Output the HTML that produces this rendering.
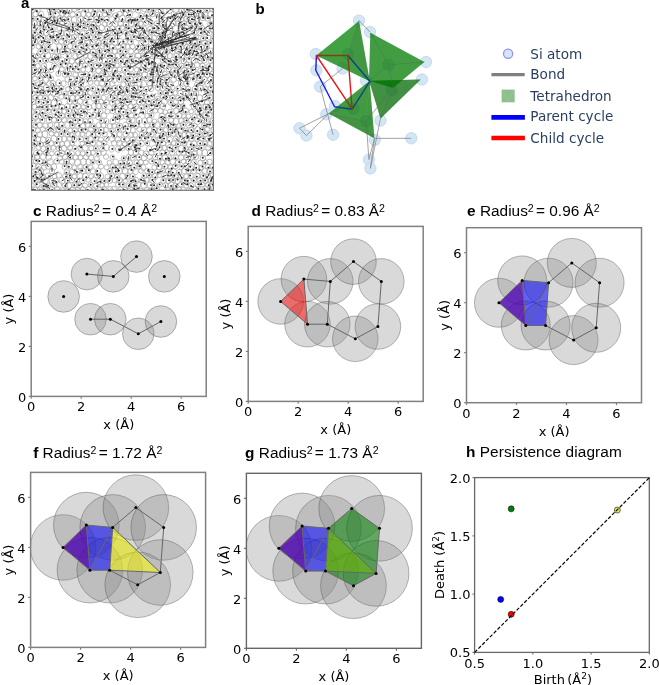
<!DOCTYPE html><html><head><meta charset="utf-8"><style>html,body{margin:0;padding:0;background:#fff;overflow:hidden;}svg{display:block}.tk{font-family:'DejaVu Sans', Verdana, sans-serif;font-size:13px;fill:#000}.axl{font-family:'DejaVu Sans', Verdana, sans-serif;font-size:13px;fill:#000}.ttl{font-family:'Liberation Sans', Arial, sans-serif;font-size:15.4px;fill:#000}.sup{font-size:10.6px}.lbl{font-family:'Liberation Sans', Arial, sans-serif;font-size:15px;font-weight:bold;fill:#000}.leg{font-family:'DejaVu Sans', Verdana, sans-serif;font-size:13.6px;fill:#2a3f5f}.dj{font-family:'DejaVu Sans', Verdana, sans-serif;font-size:13px;fill:#000}</style></head><body>
<svg width="659" height="685" viewBox="0 0 659 685">
<rect width="659" height="685" fill="#fff"/>
<clipPath id="clipa"><rect x="32" y="9" width="181" height="181"/></clipPath>
<g clip-path="url(#clipa)">
<path d="M30.0 10.1a2.5 2.5 0 1 0 5.1 0a2.5 2.5 0 1 0-5.1 0M35.6 10.2a2.3 2.3 0 1 0 4.7 0a2.3 2.3 0 1 0-4.7 0M47.0 10.3a2.4 2.4 0 1 0 4.8 0a2.4 2.4 0 1 0-4.8 0M50.7 9.5a2.5 2.5 0 1 0 5.1 0a2.5 2.5 0 1 0-5.1 0M56.8 10.0a2.5 2.5 0 1 0 5.1 0a2.5 2.5 0 1 0-5.1 0M62.6 10.4a2.4 2.4 0 1 0 4.8 0a2.4 2.4 0 1 0-4.8 0M66.7 10.6a2.8 2.8 0 1 0 5.6 0a2.8 2.8 0 1 0-5.6 0M71.6 9.5a2.5 2.5 0 1 0 5.1 0a2.5 2.5 0 1 0-5.1 0M77.4 9.2a2.7 2.7 0 1 0 5.4 0a2.7 2.7 0 1 0-5.4 0M84.0 10.5a2.4 2.4 0 1 0 4.8 0a2.4 2.4 0 1 0-4.8 0M87.9 10.1a2.4 2.4 0 1 0 4.8 0a2.4 2.4 0 1 0-4.8 0M93.0 10.3a2.5 2.5 0 1 0 5.0 0a2.5 2.5 0 1 0-5.0 0M99.6 9.6a2.4 2.4 0 1 0 4.8 0a2.4 2.4 0 1 0-4.8 0M103.7 10.9a2.4 2.4 0 1 0 4.9 0a2.4 2.4 0 1 0-4.9 0M109.4 9.6a2.3 2.3 0 1 0 4.7 0a2.3 2.3 0 1 0-4.7 0M120.3 10.1a2.4 2.4 0 1 0 4.8 0a2.4 2.4 0 1 0-4.8 0M124.8 9.4a2.8 2.8 0 1 0 5.5 0a2.8 2.8 0 1 0-5.5 0M131.2 9.9a2.3 2.3 0 1 0 4.6 0a2.3 2.3 0 1 0-4.6 0M135.4 10.4a2.7 2.7 0 1 0 5.4 0a2.7 2.7 0 1 0-5.4 0M141.7 9.2a2.6 2.6 0 1 0 5.2 0a2.6 2.6 0 1 0-5.2 0M147.0 9.6a2.4 2.4 0 1 0 4.8 0a2.4 2.4 0 1 0-4.8 0M151.1 9.4a2.6 2.6 0 1 0 5.2 0a2.6 2.6 0 1 0-5.2 0M158.1 10.3a2.6 2.6 0 1 0 5.2 0a2.6 2.6 0 1 0-5.2 0M166.9 10.2a2.7 2.7 0 1 0 5.3 0a2.7 2.7 0 1 0-5.3 0M173.1 10.4a2.7 2.7 0 1 0 5.3 0a2.7 2.7 0 1 0-5.3 0M178.9 10.7a2.6 2.6 0 1 0 5.3 0a2.6 2.6 0 1 0-5.3 0M184.2 9.9a2.7 2.7 0 1 0 5.5 0a2.7 2.7 0 1 0-5.5 0M189.1 10.2a2.6 2.6 0 1 0 5.2 0a2.6 2.6 0 1 0-5.2 0M194.9 10.4a2.7 2.7 0 1 0 5.3 0a2.7 2.7 0 1 0-5.3 0M198.9 10.5a2.6 2.6 0 1 0 5.2 0a2.6 2.6 0 1 0-5.2 0M205.1 10.2a2.4 2.4 0 1 0 4.9 0a2.4 2.4 0 1 0-4.9 0M209.6 9.4a2.6 2.6 0 1 0 5.3 0a2.6 2.6 0 1 0-5.3 0M32.8 14.1a2.7 2.7 0 1 0 5.4 0a2.7 2.7 0 1 0-5.4 0M38.8 14.4a2.5 2.5 0 1 0 4.9 0a2.5 2.5 0 1 0-4.9 0M48.3 14.0a2.4 2.4 0 1 0 4.9 0a2.4 2.4 0 1 0-4.9 0M53.6 14.3a2.8 2.8 0 1 0 5.6 0a2.8 2.8 0 1 0-5.6 0M59.8 13.8a2.6 2.6 0 1 0 5.2 0a2.6 2.6 0 1 0-5.2 0M63.7 14.5a2.7 2.7 0 1 0 5.4 0a2.7 2.7 0 1 0-5.4 0M70.0 14.5a2.6 2.6 0 1 0 5.3 0a2.6 2.6 0 1 0-5.3 0M75.9 14.9a2.5 2.5 0 1 0 5.1 0a2.5 2.5 0 1 0-5.1 0M80.9 14.0a2.5 2.5 0 1 0 4.9 0a2.5 2.5 0 1 0-4.9 0M85.8 14.8a2.5 2.5 0 1 0 5.0 0a2.5 2.5 0 1 0-5.0 0M91.6 13.9a2.7 2.7 0 1 0 5.3 0a2.7 2.7 0 1 0-5.3 0M96.8 14.4a2.7 2.7 0 1 0 5.5 0a2.7 2.7 0 1 0-5.5 0M102.5 14.5a2.4 2.4 0 1 0 4.8 0a2.4 2.4 0 1 0-4.8 0M107.6 14.9a2.4 2.4 0 1 0 4.8 0a2.4 2.4 0 1 0-4.8 0M112.9 15.5a2.7 2.7 0 1 0 5.4 0a2.7 2.7 0 1 0-5.4 0M117.2 13.9a2.6 2.6 0 1 0 5.2 0a2.6 2.6 0 1 0-5.2 0M123.0 13.8a2.3 2.3 0 1 0 4.7 0a2.3 2.3 0 1 0-4.7 0M127.7 14.3a2.4 2.4 0 1 0 4.7 0a2.4 2.4 0 1 0-4.7 0M138.8 15.4a2.4 2.4 0 1 0 4.8 0a2.4 2.4 0 1 0-4.8 0M144.2 14.7a2.6 2.6 0 1 0 5.2 0a2.6 2.6 0 1 0-5.2 0M149.8 14.1a2.8 2.8 0 1 0 5.6 0a2.8 2.8 0 1 0-5.6 0M154.9 14.6a2.3 2.3 0 1 0 4.6 0a2.3 2.3 0 1 0-4.6 0M159.9 14.4a2.6 2.6 0 1 0 5.2 0a2.6 2.6 0 1 0-5.2 0M171.4 14.2a2.4 2.4 0 1 0 4.7 0a2.4 2.4 0 1 0-4.7 0M175.7 14.3a2.6 2.6 0 1 0 5.2 0a2.6 2.6 0 1 0-5.2 0M180.6 15.1a2.4 2.4 0 1 0 4.8 0a2.4 2.4 0 1 0-4.8 0M186.0 14.8a2.7 2.7 0 1 0 5.3 0a2.7 2.7 0 1 0-5.3 0M191.2 14.7a2.5 2.5 0 1 0 5.0 0a2.5 2.5 0 1 0-5.0 0M196.5 14.8a2.6 2.6 0 1 0 5.1 0a2.6 2.6 0 1 0-5.1 0M202.4 15.3a2.7 2.7 0 1 0 5.3 0a2.7 2.7 0 1 0-5.3 0M208.1 14.3a2.8 2.8 0 1 0 5.5 0a2.8 2.8 0 1 0-5.5 0M29.5 18.8a2.4 2.4 0 1 0 4.9 0a2.4 2.4 0 1 0-4.9 0M35.8 18.5a2.6 2.6 0 1 0 5.3 0a2.6 2.6 0 1 0-5.3 0M41.4 20.1a2.6 2.6 0 1 0 5.1 0a2.6 2.6 0 1 0-5.1 0M46.2 19.6a2.3 2.3 0 1 0 4.7 0a2.3 2.3 0 1 0-4.7 0M51.4 19.3a2.4 2.4 0 1 0 4.8 0a2.4 2.4 0 1 0-4.8 0M57.1 18.5a2.8 2.8 0 1 0 5.6 0a2.8 2.8 0 1 0-5.6 0M61.7 19.2a2.6 2.6 0 1 0 5.2 0a2.6 2.6 0 1 0-5.2 0M66.6 19.1a2.5 2.5 0 1 0 5.0 0a2.5 2.5 0 1 0-5.0 0M71.5 19.9a2.7 2.7 0 1 0 5.3 0a2.7 2.7 0 1 0-5.3 0M78.0 19.1a2.6 2.6 0 1 0 5.1 0a2.6 2.6 0 1 0-5.1 0M83.5 18.8a2.7 2.7 0 1 0 5.3 0a2.7 2.7 0 1 0-5.3 0M88.7 19.1a2.7 2.7 0 1 0 5.5 0a2.7 2.7 0 1 0-5.5 0M94.0 19.7a2.7 2.7 0 1 0 5.3 0a2.7 2.7 0 1 0-5.3 0M98.0 19.0a2.6 2.6 0 1 0 5.2 0a2.6 2.6 0 1 0-5.2 0M103.9 19.5a2.6 2.6 0 1 0 5.1 0a2.6 2.6 0 1 0-5.1 0M114.1 19.4a2.4 2.4 0 1 0 4.9 0a2.4 2.4 0 1 0-4.9 0M119.7 18.5a2.8 2.8 0 1 0 5.5 0a2.8 2.8 0 1 0-5.5 0M125.4 20.1a2.7 2.7 0 1 0 5.4 0a2.7 2.7 0 1 0-5.4 0M129.9 20.0a2.5 2.5 0 1 0 5.1 0a2.5 2.5 0 1 0-5.1 0M135.2 20.0a2.6 2.6 0 1 0 5.1 0a2.6 2.6 0 1 0-5.1 0M141.5 19.3a2.7 2.7 0 1 0 5.3 0a2.7 2.7 0 1 0-5.3 0M145.9 18.6a2.5 2.5 0 1 0 5.0 0a2.5 2.5 0 1 0-5.0 0M158.1 18.5a2.5 2.5 0 1 0 5.0 0a2.5 2.5 0 1 0-5.0 0M162.6 20.0a2.5 2.5 0 1 0 5.1 0a2.5 2.5 0 1 0-5.1 0M168.4 19.4a2.6 2.6 0 1 0 5.2 0a2.6 2.6 0 1 0-5.2 0M173.1 18.5a2.6 2.6 0 1 0 5.3 0a2.6 2.6 0 1 0-5.3 0M178.1 19.7a2.8 2.8 0 1 0 5.6 0a2.8 2.8 0 1 0-5.6 0M184.0 18.8a2.7 2.7 0 1 0 5.5 0a2.7 2.7 0 1 0-5.5 0M189.2 19.0a2.6 2.6 0 1 0 5.3 0a2.6 2.6 0 1 0-5.3 0M194.6 18.7a2.8 2.8 0 1 0 5.6 0a2.8 2.8 0 1 0-5.6 0M200.4 18.4a2.4 2.4 0 1 0 4.9 0a2.4 2.4 0 1 0-4.9 0M204.9 18.5a2.6 2.6 0 1 0 5.3 0a2.6 2.6 0 1 0-5.3 0M210.1 18.7a2.7 2.7 0 1 0 5.3 0a2.7 2.7 0 1 0-5.3 0M31.9 23.1a2.6 2.6 0 1 0 5.2 0a2.6 2.6 0 1 0-5.2 0M37.3 23.7a2.7 2.7 0 1 0 5.4 0a2.7 2.7 0 1 0-5.4 0M42.8 23.9a2.8 2.8 0 1 0 5.5 0a2.8 2.8 0 1 0-5.5 0M49.2 23.1a2.6 2.6 0 1 0 5.2 0a2.6 2.6 0 1 0-5.2 0M54.3 23.1a2.6 2.6 0 1 0 5.3 0a2.6 2.6 0 1 0-5.3 0M59.6 23.4a2.5 2.5 0 1 0 5.0 0a2.5 2.5 0 1 0-5.0 0M64.2 23.1a2.6 2.6 0 1 0 5.2 0a2.6 2.6 0 1 0-5.2 0M70.4 24.6a2.7 2.7 0 1 0 5.4 0a2.7 2.7 0 1 0-5.4 0M76.0 24.5a2.5 2.5 0 1 0 5.0 0a2.5 2.5 0 1 0-5.0 0M80.0 23.3a2.7 2.7 0 1 0 5.4 0a2.7 2.7 0 1 0-5.4 0M85.2 24.3a2.4 2.4 0 1 0 4.9 0a2.4 2.4 0 1 0-4.9 0M91.0 24.7a2.7 2.7 0 1 0 5.4 0a2.7 2.7 0 1 0-5.4 0M95.4 23.1a2.7 2.7 0 1 0 5.5 0a2.7 2.7 0 1 0-5.5 0M102.2 24.1a2.4 2.4 0 1 0 4.8 0a2.4 2.4 0 1 0-4.8 0M107.0 24.3a2.5 2.5 0 1 0 4.9 0a2.5 2.5 0 1 0-4.9 0M112.4 23.8a2.7 2.7 0 1 0 5.3 0a2.7 2.7 0 1 0-5.3 0M118.2 23.7a2.6 2.6 0 1 0 5.3 0a2.6 2.6 0 1 0-5.3 0M123.1 24.4a2.8 2.8 0 1 0 5.6 0a2.8 2.8 0 1 0-5.6 0M128.8 23.7a2.4 2.4 0 1 0 4.7 0a2.4 2.4 0 1 0-4.7 0M134.4 23.6a2.4 2.4 0 1 0 4.8 0a2.4 2.4 0 1 0-4.8 0M137.8 23.5a2.6 2.6 0 1 0 5.2 0a2.6 2.6 0 1 0-5.2 0M143.4 23.0a2.6 2.6 0 1 0 5.2 0a2.6 2.6 0 1 0-5.2 0M148.6 23.1a2.4 2.4 0 1 0 4.8 0a2.4 2.4 0 1 0-4.8 0M154.3 23.3a2.4 2.4 0 1 0 4.8 0a2.4 2.4 0 1 0-4.8 0M159.6 23.9a2.5 2.5 0 1 0 5.1 0a2.5 2.5 0 1 0-5.1 0M170.2 23.3a2.8 2.8 0 1 0 5.5 0a2.8 2.8 0 1 0-5.5 0M175.7 23.9a2.4 2.4 0 1 0 4.9 0a2.4 2.4 0 1 0-4.9 0M181.4 23.4a2.5 2.5 0 1 0 5.1 0a2.5 2.5 0 1 0-5.1 0M186.7 23.2a2.5 2.5 0 1 0 4.9 0a2.5 2.5 0 1 0-4.9 0M191.9 24.7a2.6 2.6 0 1 0 5.1 0a2.6 2.6 0 1 0-5.1 0M197.8 24.5a2.3 2.3 0 1 0 4.7 0a2.3 2.3 0 1 0-4.7 0M207.6 24.5a2.7 2.7 0 1 0 5.4 0a2.7 2.7 0 1 0-5.4 0M30.6 27.9a2.6 2.6 0 1 0 5.1 0a2.6 2.6 0 1 0-5.1 0M35.0 27.7a2.5 2.5 0 1 0 5.1 0a2.5 2.5 0 1 0-5.1 0M40.5 28.8a2.5 2.5 0 1 0 5.0 0a2.5 2.5 0 1 0-5.0 0M46.1 27.6a2.7 2.7 0 1 0 5.3 0a2.7 2.7 0 1 0-5.3 0M50.5 29.3a2.4 2.4 0 1 0 4.8 0a2.4 2.4 0 1 0-4.8 0M56.7 28.1a2.5 2.5 0 1 0 5.0 0a2.5 2.5 0 1 0-5.0 0M61.5 27.9a2.5 2.5 0 1 0 4.9 0a2.5 2.5 0 1 0-4.9 0M67.1 28.8a2.7 2.7 0 1 0 5.4 0a2.7 2.7 0 1 0-5.4 0M72.8 28.8a2.5 2.5 0 1 0 5.0 0a2.5 2.5 0 1 0-5.0 0M78.1 27.7a2.4 2.4 0 1 0 4.8 0a2.4 2.4 0 1 0-4.8 0M83.7 28.3a2.6 2.6 0 1 0 5.2 0a2.6 2.6 0 1 0-5.2 0M89.0 28.2a2.5 2.5 0 1 0 5.0 0a2.5 2.5 0 1 0-5.0 0M94.5 29.0a2.6 2.6 0 1 0 5.2 0a2.6 2.6 0 1 0-5.2 0M99.2 27.7a2.6 2.6 0 1 0 5.1 0a2.6 2.6 0 1 0-5.1 0M104.7 28.6a2.7 2.7 0 1 0 5.4 0a2.7 2.7 0 1 0-5.4 0M109.8 28.2a2.4 2.4 0 1 0 4.7 0a2.4 2.4 0 1 0-4.7 0M115.6 28.5a2.7 2.7 0 1 0 5.4 0a2.7 2.7 0 1 0-5.4 0M119.6 27.7a2.6 2.6 0 1 0 5.2 0a2.6 2.6 0 1 0-5.2 0M125.2 29.2a2.5 2.5 0 1 0 5.1 0a2.5 2.5 0 1 0-5.1 0M131.4 28.5a2.6 2.6 0 1 0 5.2 0a2.6 2.6 0 1 0-5.2 0M136.5 28.6a2.7 2.7 0 1 0 5.4 0a2.7 2.7 0 1 0-5.4 0M141.5 29.0a2.6 2.6 0 1 0 5.1 0a2.6 2.6 0 1 0-5.1 0M147.6 29.2a2.5 2.5 0 1 0 4.9 0a2.5 2.5 0 1 0-4.9 0M152.2 28.2a2.7 2.7 0 1 0 5.4 0a2.7 2.7 0 1 0-5.4 0M156.8 28.2a2.4 2.4 0 1 0 4.8 0a2.4 2.4 0 1 0-4.8 0M162.2 28.7a2.6 2.6 0 1 0 5.3 0a2.6 2.6 0 1 0-5.3 0M167.7 28.3a2.6 2.6 0 1 0 5.3 0a2.6 2.6 0 1 0-5.3 0M179.1 29.1a2.5 2.5 0 1 0 5.0 0a2.5 2.5 0 1 0-5.0 0M183.9 28.3a2.5 2.5 0 1 0 4.9 0a2.5 2.5 0 1 0-4.9 0M189.6 28.6a2.5 2.5 0 1 0 4.9 0a2.5 2.5 0 1 0-4.9 0M194.5 28.4a2.3 2.3 0 1 0 4.7 0a2.3 2.3 0 1 0-4.7 0M199.7 28.0a2.5 2.5 0 1 0 5.0 0a2.5 2.5 0 1 0-5.0 0M205.8 28.7a2.5 2.5 0 1 0 5.0 0a2.5 2.5 0 1 0-5.0 0M209.5 28.9a2.8 2.8 0 1 0 5.5 0a2.8 2.8 0 1 0-5.5 0M32.9 33.9a2.4 2.4 0 1 0 4.8 0a2.4 2.4 0 1 0-4.8 0M38.8 33.6a2.5 2.5 0 1 0 5.0 0a2.5 2.5 0 1 0-5.0 0M43.8 32.7a2.8 2.8 0 1 0 5.5 0a2.8 2.8 0 1 0-5.5 0M48.3 32.5a2.8 2.8 0 1 0 5.5 0a2.8 2.8 0 1 0-5.5 0M53.4 33.7a2.5 2.5 0 1 0 5.1 0a2.5 2.5 0 1 0-5.1 0M58.5 33.3a2.7 2.7 0 1 0 5.5 0a2.7 2.7 0 1 0-5.5 0M64.1 33.8a2.7 2.7 0 1 0 5.3 0a2.7 2.7 0 1 0-5.3 0M69.8 32.3a2.5 2.5 0 1 0 4.9 0a2.5 2.5 0 1 0-4.9 0M74.5 32.5a2.6 2.6 0 1 0 5.3 0a2.6 2.6 0 1 0-5.3 0M80.1 33.3a2.6 2.6 0 1 0 5.2 0a2.6 2.6 0 1 0-5.2 0M86.2 32.7a2.3 2.3 0 1 0 4.7 0a2.3 2.3 0 1 0-4.7 0M91.1 33.1a2.3 2.3 0 1 0 4.6 0a2.3 2.3 0 1 0-4.6 0M96.7 32.3a2.7 2.7 0 1 0 5.4 0a2.7 2.7 0 1 0-5.4 0M106.1 33.0a2.5 2.5 0 1 0 5.0 0a2.5 2.5 0 1 0-5.0 0M112.1 32.5a2.6 2.6 0 1 0 5.2 0a2.6 2.6 0 1 0-5.2 0M117.4 33.1a2.6 2.6 0 1 0 5.3 0a2.6 2.6 0 1 0-5.3 0M123.4 32.5a2.4 2.4 0 1 0 4.8 0a2.4 2.4 0 1 0-4.8 0M128.8 32.6a2.4 2.4 0 1 0 4.8 0a2.4 2.4 0 1 0-4.8 0M133.4 33.4a2.7 2.7 0 1 0 5.5 0a2.7 2.7 0 1 0-5.5 0M138.8 32.9a2.4 2.4 0 1 0 4.9 0a2.4 2.4 0 1 0-4.9 0M143.2 33.8a2.6 2.6 0 1 0 5.1 0a2.6 2.6 0 1 0-5.1 0M149.1 32.4a2.3 2.3 0 1 0 4.6 0a2.3 2.3 0 1 0-4.6 0M154.0 33.2a2.7 2.7 0 1 0 5.4 0a2.7 2.7 0 1 0-5.4 0M160.5 33.7a2.3 2.3 0 1 0 4.7 0a2.3 2.3 0 1 0-4.7 0M165.9 32.2a2.7 2.7 0 1 0 5.4 0a2.7 2.7 0 1 0-5.4 0M170.1 33.0a2.3 2.3 0 1 0 4.6 0a2.3 2.3 0 1 0-4.6 0M175.8 32.7a2.3 2.3 0 1 0 4.7 0a2.3 2.3 0 1 0-4.7 0M181.5 32.6a2.6 2.6 0 1 0 5.2 0a2.6 2.6 0 1 0-5.2 0M191.8 32.2a2.6 2.6 0 1 0 5.2 0a2.6 2.6 0 1 0-5.2 0M197.7 33.2a2.5 2.5 0 1 0 5.1 0a2.5 2.5 0 1 0-5.1 0M203.0 32.5a2.4 2.4 0 1 0 4.8 0a2.4 2.4 0 1 0-4.8 0M207.1 33.0a2.5 2.5 0 1 0 5.0 0a2.5 2.5 0 1 0-5.0 0M30.4 38.3a2.5 2.5 0 1 0 5.0 0a2.5 2.5 0 1 0-5.0 0M35.1 36.8a2.4 2.4 0 1 0 4.9 0a2.4 2.4 0 1 0-4.9 0M40.0 37.4a2.8 2.8 0 1 0 5.5 0a2.8 2.8 0 1 0-5.5 0M46.7 36.8a2.5 2.5 0 1 0 5.0 0a2.5 2.5 0 1 0-5.0 0M51.8 37.7a2.5 2.5 0 1 0 5.0 0a2.5 2.5 0 1 0-5.0 0M56.8 36.8a2.5 2.5 0 1 0 5.0 0a2.5 2.5 0 1 0-5.0 0M61.6 38.1a2.4 2.4 0 1 0 4.7 0a2.4 2.4 0 1 0-4.7 0M67.1 37.5a2.4 2.4 0 1 0 4.8 0a2.4 2.4 0 1 0-4.8 0M71.6 36.8a2.6 2.6 0 1 0 5.2 0a2.6 2.6 0 1 0-5.2 0M78.4 37.3a2.8 2.8 0 1 0 5.5 0a2.8 2.8 0 1 0-5.5 0M83.8 38.3a2.6 2.6 0 1 0 5.2 0a2.6 2.6 0 1 0-5.2 0M87.6 37.5a2.5 2.5 0 1 0 5.1 0a2.5 2.5 0 1 0-5.1 0M93.7 37.1a2.4 2.4 0 1 0 4.8 0a2.4 2.4 0 1 0-4.8 0M98.3 37.8a2.6 2.6 0 1 0 5.2 0a2.6 2.6 0 1 0-5.2 0M103.6 37.5a2.3 2.3 0 1 0 4.7 0a2.3 2.3 0 1 0-4.7 0M109.8 37.6a2.4 2.4 0 1 0 4.9 0a2.4 2.4 0 1 0-4.9 0M115.1 37.2a2.4 2.4 0 1 0 4.8 0a2.4 2.4 0 1 0-4.8 0M126.0 37.9a2.5 2.5 0 1 0 5.0 0a2.5 2.5 0 1 0-5.0 0M131.7 37.5a2.3 2.3 0 1 0 4.6 0a2.3 2.3 0 1 0-4.6 0M136.0 38.5a2.4 2.4 0 1 0 4.8 0a2.4 2.4 0 1 0-4.8 0M140.6 37.7a2.4 2.4 0 1 0 4.8 0a2.4 2.4 0 1 0-4.8 0M146.6 37.8a2.8 2.8 0 1 0 5.6 0a2.8 2.8 0 1 0-5.6 0M151.5 38.1a2.6 2.6 0 1 0 5.3 0a2.6 2.6 0 1 0-5.3 0M157.8 37.1a2.5 2.5 0 1 0 5.1 0a2.5 2.5 0 1 0-5.1 0M163.1 37.7a2.4 2.4 0 1 0 4.8 0a2.4 2.4 0 1 0-4.8 0M167.4 36.9a2.4 2.4 0 1 0 4.7 0a2.4 2.4 0 1 0-4.7 0M172.5 37.6a2.5 2.5 0 1 0 5.1 0a2.5 2.5 0 1 0-5.1 0M177.5 37.2a2.7 2.7 0 1 0 5.4 0a2.7 2.7 0 1 0-5.4 0M184.0 37.4a2.7 2.7 0 1 0 5.4 0a2.7 2.7 0 1 0-5.4 0M189.5 37.8a2.7 2.7 0 1 0 5.3 0a2.7 2.7 0 1 0-5.3 0M193.8 37.4a2.4 2.4 0 1 0 4.8 0a2.4 2.4 0 1 0-4.8 0M200.4 38.5a2.6 2.6 0 1 0 5.3 0a2.6 2.6 0 1 0-5.3 0M205.6 38.5a2.7 2.7 0 1 0 5.3 0a2.7 2.7 0 1 0-5.3 0M210.8 38.6a2.5 2.5 0 1 0 4.9 0a2.5 2.5 0 1 0-4.9 0M32.3 41.9a2.7 2.7 0 1 0 5.4 0a2.7 2.7 0 1 0-5.4 0M38.4 43.1a2.6 2.6 0 1 0 5.3 0a2.6 2.6 0 1 0-5.3 0M42.8 41.6a2.4 2.4 0 1 0 4.9 0a2.4 2.4 0 1 0-4.9 0M47.7 42.4a2.6 2.6 0 1 0 5.2 0a2.6 2.6 0 1 0-5.2 0M53.9 41.8a2.3 2.3 0 1 0 4.7 0a2.3 2.3 0 1 0-4.7 0M58.9 41.5a2.5 2.5 0 1 0 5.1 0a2.5 2.5 0 1 0-5.1 0M64.0 42.9a2.5 2.5 0 1 0 5.0 0a2.5 2.5 0 1 0-5.0 0M69.5 41.5a2.6 2.6 0 1 0 5.3 0a2.6 2.6 0 1 0-5.3 0M75.6 43.2a2.7 2.7 0 1 0 5.4 0a2.7 2.7 0 1 0-5.4 0M80.0 41.4a2.4 2.4 0 1 0 4.7 0a2.4 2.4 0 1 0-4.7 0M85.5 42.3a2.4 2.4 0 1 0 4.8 0a2.4 2.4 0 1 0-4.8 0M90.0 42.3a2.7 2.7 0 1 0 5.4 0a2.7 2.7 0 1 0-5.4 0M96.0 42.8a2.7 2.7 0 1 0 5.4 0a2.7 2.7 0 1 0-5.4 0M100.8 43.1a2.7 2.7 0 1 0 5.3 0a2.7 2.7 0 1 0-5.3 0M107.1 41.8a2.5 2.5 0 1 0 5.0 0a2.5 2.5 0 1 0-5.0 0M112.2 42.0a2.8 2.8 0 1 0 5.5 0a2.8 2.8 0 1 0-5.5 0M117.9 41.8a2.6 2.6 0 1 0 5.1 0a2.6 2.6 0 1 0-5.1 0M122.3 41.6a2.5 2.5 0 1 0 5.0 0a2.5 2.5 0 1 0-5.0 0M127.7 42.0a2.8 2.8 0 1 0 5.6 0a2.8 2.8 0 1 0-5.6 0M138.6 43.1a2.5 2.5 0 1 0 5.0 0a2.5 2.5 0 1 0-5.0 0M143.2 41.9a2.8 2.8 0 1 0 5.5 0a2.8 2.8 0 1 0-5.5 0M150.2 41.6a2.5 2.5 0 1 0 5.0 0a2.5 2.5 0 1 0-5.0 0M155.3 42.9a2.6 2.6 0 1 0 5.1 0a2.6 2.6 0 1 0-5.1 0M160.3 42.2a2.5 2.5 0 1 0 5.0 0a2.5 2.5 0 1 0-5.0 0M165.3 42.3a2.6 2.6 0 1 0 5.2 0a2.6 2.6 0 1 0-5.2 0M171.0 41.7a2.8 2.8 0 1 0 5.6 0a2.8 2.8 0 1 0-5.6 0M180.7 42.9a2.8 2.8 0 1 0 5.6 0a2.8 2.8 0 1 0-5.6 0M186.5 43.1a2.7 2.7 0 1 0 5.4 0a2.7 2.7 0 1 0-5.4 0M192.2 42.7a2.7 2.7 0 1 0 5.4 0a2.7 2.7 0 1 0-5.4 0M196.7 41.9a2.3 2.3 0 1 0 4.7 0a2.3 2.3 0 1 0-4.7 0M201.7 42.8a2.7 2.7 0 1 0 5.4 0a2.7 2.7 0 1 0-5.4 0M207.2 42.0a2.3 2.3 0 1 0 4.6 0a2.3 2.3 0 1 0-4.6 0M29.2 46.3a2.7 2.7 0 1 0 5.4 0a2.7 2.7 0 1 0-5.4 0M36.0 46.4a2.7 2.7 0 1 0 5.5 0a2.7 2.7 0 1 0-5.5 0M40.3 47.2a2.3 2.3 0 1 0 4.6 0a2.3 2.3 0 1 0-4.6 0M45.7 47.1a2.4 2.4 0 1 0 4.8 0a2.4 2.4 0 1 0-4.8 0M56.5 46.6a2.8 2.8 0 1 0 5.6 0a2.8 2.8 0 1 0-5.6 0M62.3 46.6a2.5 2.5 0 1 0 5.0 0a2.5 2.5 0 1 0-5.0 0M67.7 46.7a2.6 2.6 0 1 0 5.1 0a2.6 2.6 0 1 0-5.1 0M72.1 47.3a2.6 2.6 0 1 0 5.2 0a2.6 2.6 0 1 0-5.2 0M78.2 47.2a2.8 2.8 0 1 0 5.5 0a2.8 2.8 0 1 0-5.5 0M83.1 46.1a2.4 2.4 0 1 0 4.9 0a2.4 2.4 0 1 0-4.9 0M88.7 47.2a2.5 2.5 0 1 0 5.0 0a2.5 2.5 0 1 0-5.0 0M93.3 46.6a2.7 2.7 0 1 0 5.5 0a2.7 2.7 0 1 0-5.5 0M99.7 46.1a2.5 2.5 0 1 0 5.0 0a2.5 2.5 0 1 0-5.0 0M104.3 46.6a2.8 2.8 0 1 0 5.5 0a2.8 2.8 0 1 0-5.5 0M109.2 46.8a2.6 2.6 0 1 0 5.3 0a2.6 2.6 0 1 0-5.3 0M115.7 46.7a2.6 2.6 0 1 0 5.2 0a2.6 2.6 0 1 0-5.2 0M121.1 46.1a2.5 2.5 0 1 0 5.0 0a2.5 2.5 0 1 0-5.0 0M125.0 46.7a2.5 2.5 0 1 0 5.0 0a2.5 2.5 0 1 0-5.0 0M129.9 46.3a2.6 2.6 0 1 0 5.2 0a2.6 2.6 0 1 0-5.2 0M135.5 47.4a2.7 2.7 0 1 0 5.4 0a2.7 2.7 0 1 0-5.4 0M142.2 47.7a2.3 2.3 0 1 0 4.6 0a2.3 2.3 0 1 0-4.6 0M145.9 47.4a2.6 2.6 0 1 0 5.1 0a2.6 2.6 0 1 0-5.1 0M151.1 46.9a2.7 2.7 0 1 0 5.4 0a2.7 2.7 0 1 0-5.4 0M156.8 46.8a2.5 2.5 0 1 0 5.1 0a2.5 2.5 0 1 0-5.1 0M161.6 47.5a2.8 2.8 0 1 0 5.6 0a2.8 2.8 0 1 0-5.6 0M168.7 47.7a2.3 2.3 0 1 0 4.6 0a2.3 2.3 0 1 0-4.6 0M173.8 46.3a2.3 2.3 0 1 0 4.6 0a2.3 2.3 0 1 0-4.6 0M178.7 47.5a2.5 2.5 0 1 0 5.0 0a2.5 2.5 0 1 0-5.0 0M184.4 46.6a2.6 2.6 0 1 0 5.3 0a2.6 2.6 0 1 0-5.3 0M189.7 47.0a2.8 2.8 0 1 0 5.5 0a2.8 2.8 0 1 0-5.5 0M193.9 46.7a2.5 2.5 0 1 0 5.1 0a2.5 2.5 0 1 0-5.1 0M198.8 47.5a2.6 2.6 0 1 0 5.1 0a2.6 2.6 0 1 0-5.1 0M204.2 46.7a2.5 2.5 0 1 0 5.1 0a2.5 2.5 0 1 0-5.1 0M37.9 51.7a2.5 2.5 0 1 0 4.9 0a2.5 2.5 0 1 0-4.9 0M43.5 51.5a2.3 2.3 0 1 0 4.7 0a2.3 2.3 0 1 0-4.7 0M49.2 51.4a2.5 2.5 0 1 0 5.0 0a2.5 2.5 0 1 0-5.0 0M54.9 52.1a2.5 2.5 0 1 0 4.9 0a2.5 2.5 0 1 0-4.9 0M59.6 51.8a2.7 2.7 0 1 0 5.4 0a2.7 2.7 0 1 0-5.4 0M65.1 51.7a2.8 2.8 0 1 0 5.5 0a2.8 2.8 0 1 0-5.5 0M70.0 50.6a2.5 2.5 0 1 0 5.0 0a2.5 2.5 0 1 0-5.0 0M75.8 52.2a2.7 2.7 0 1 0 5.4 0a2.7 2.7 0 1 0-5.4 0M80.4 51.4a2.5 2.5 0 1 0 4.9 0a2.5 2.5 0 1 0-4.9 0M84.8 50.8a2.6 2.6 0 1 0 5.3 0a2.6 2.6 0 1 0-5.3 0M90.4 52.3a2.8 2.8 0 1 0 5.5 0a2.8 2.8 0 1 0-5.5 0M96.9 50.8a2.5 2.5 0 1 0 5.1 0a2.5 2.5 0 1 0-5.1 0M101.8 52.3a2.6 2.6 0 1 0 5.3 0a2.6 2.6 0 1 0-5.3 0M107.5 50.9a2.4 2.4 0 1 0 4.8 0a2.4 2.4 0 1 0-4.8 0M112.3 51.5a2.6 2.6 0 1 0 5.2 0a2.6 2.6 0 1 0-5.2 0M117.0 51.6a2.8 2.8 0 1 0 5.6 0a2.8 2.8 0 1 0-5.6 0M122.5 51.9a2.4 2.4 0 1 0 4.9 0a2.4 2.4 0 1 0-4.9 0M128.5 51.4a2.6 2.6 0 1 0 5.2 0a2.6 2.6 0 1 0-5.2 0M134.3 51.4a2.4 2.4 0 1 0 4.8 0a2.4 2.4 0 1 0-4.8 0M138.2 51.2a2.3 2.3 0 1 0 4.6 0a2.3 2.3 0 1 0-4.6 0M144.3 51.6a2.4 2.4 0 1 0 4.8 0a2.4 2.4 0 1 0-4.8 0M149.6 52.0a2.7 2.7 0 1 0 5.4 0a2.7 2.7 0 1 0-5.4 0M154.8 50.8a2.6 2.6 0 1 0 5.2 0a2.6 2.6 0 1 0-5.2 0M160.4 51.8a2.8 2.8 0 1 0 5.6 0a2.8 2.8 0 1 0-5.6 0M164.9 52.1a2.4 2.4 0 1 0 4.9 0a2.4 2.4 0 1 0-4.9 0M170.2 51.1a2.4 2.4 0 1 0 4.7 0a2.4 2.4 0 1 0-4.7 0M175.6 51.5a2.4 2.4 0 1 0 4.8 0a2.4 2.4 0 1 0-4.8 0M181.6 51.7a2.7 2.7 0 1 0 5.3 0a2.7 2.7 0 1 0-5.3 0M186.7 51.1a2.8 2.8 0 1 0 5.5 0a2.8 2.8 0 1 0-5.5 0M191.4 51.3a2.8 2.8 0 1 0 5.5 0a2.8 2.8 0 1 0-5.5 0M196.3 52.3a2.8 2.8 0 1 0 5.5 0a2.8 2.8 0 1 0-5.5 0M201.3 51.6a2.8 2.8 0 1 0 5.6 0a2.8 2.8 0 1 0-5.6 0M207.9 50.7a2.6 2.6 0 1 0 5.2 0a2.6 2.6 0 1 0-5.2 0M30.4 56.7a2.6 2.6 0 1 0 5.1 0a2.6 2.6 0 1 0-5.1 0M35.5 55.8a2.4 2.4 0 1 0 4.8 0a2.4 2.4 0 1 0-4.8 0M40.5 56.1a2.5 2.5 0 1 0 5.1 0a2.5 2.5 0 1 0-5.1 0M45.2 55.8a2.7 2.7 0 1 0 5.3 0a2.7 2.7 0 1 0-5.3 0M51.9 56.9a2.7 2.7 0 1 0 5.5 0a2.7 2.7 0 1 0-5.5 0M55.6 56.1a2.6 2.6 0 1 0 5.3 0a2.6 2.6 0 1 0-5.3 0M66.1 55.4a2.8 2.8 0 1 0 5.6 0a2.8 2.8 0 1 0-5.6 0M72.7 56.1a2.7 2.7 0 1 0 5.4 0a2.7 2.7 0 1 0-5.4 0M76.6 55.3a2.8 2.8 0 1 0 5.6 0a2.8 2.8 0 1 0-5.6 0M83.1 55.8a2.3 2.3 0 1 0 4.6 0a2.3 2.3 0 1 0-4.6 0M88.0 56.3a2.5 2.5 0 1 0 4.9 0a2.5 2.5 0 1 0-4.9 0M93.7 55.6a2.4 2.4 0 1 0 4.8 0a2.4 2.4 0 1 0-4.8 0M99.4 55.8a2.6 2.6 0 1 0 5.3 0a2.6 2.6 0 1 0-5.3 0M105.0 55.5a2.5 2.5 0 1 0 4.9 0a2.5 2.5 0 1 0-4.9 0M109.9 56.2a2.7 2.7 0 1 0 5.4 0a2.7 2.7 0 1 0-5.4 0M115.5 55.9a2.8 2.8 0 1 0 5.5 0a2.8 2.8 0 1 0-5.5 0M119.8 55.5a2.7 2.7 0 1 0 5.4 0a2.7 2.7 0 1 0-5.4 0M125.1 56.3a2.5 2.5 0 1 0 5.1 0a2.5 2.5 0 1 0-5.1 0M130.1 56.1a2.3 2.3 0 1 0 4.7 0a2.3 2.3 0 1 0-4.7 0M135.2 55.6a2.8 2.8 0 1 0 5.6 0a2.8 2.8 0 1 0-5.6 0M141.0 56.9a2.7 2.7 0 1 0 5.3 0a2.7 2.7 0 1 0-5.3 0M145.9 55.5a2.7 2.7 0 1 0 5.5 0a2.7 2.7 0 1 0-5.5 0M152.9 56.0a2.4 2.4 0 1 0 4.7 0a2.4 2.4 0 1 0-4.7 0M156.8 55.8a2.5 2.5 0 1 0 4.9 0a2.5 2.5 0 1 0-4.9 0M162.6 56.2a2.6 2.6 0 1 0 5.1 0a2.6 2.6 0 1 0-5.1 0M167.2 55.6a2.5 2.5 0 1 0 4.9 0a2.5 2.5 0 1 0-4.9 0M174.0 56.1a2.5 2.5 0 1 0 4.9 0a2.5 2.5 0 1 0-4.9 0M179.1 56.0a2.7 2.7 0 1 0 5.4 0a2.7 2.7 0 1 0-5.4 0M184.7 55.3a2.5 2.5 0 1 0 5.0 0a2.5 2.5 0 1 0-5.0 0M189.6 55.6a2.4 2.4 0 1 0 4.8 0a2.4 2.4 0 1 0-4.8 0M194.5 56.4a2.4 2.4 0 1 0 4.8 0a2.4 2.4 0 1 0-4.8 0M199.2 56.3a2.5 2.5 0 1 0 5.1 0a2.5 2.5 0 1 0-5.1 0M205.6 56.3a2.6 2.6 0 1 0 5.1 0a2.6 2.6 0 1 0-5.1 0M209.6 56.9a2.7 2.7 0 1 0 5.5 0a2.7 2.7 0 1 0-5.5 0M32.5 60.1a2.4 2.4 0 1 0 4.8 0a2.4 2.4 0 1 0-4.8 0M37.7 60.0a2.5 2.5 0 1 0 4.9 0a2.5 2.5 0 1 0-4.9 0M43.3 60.5a2.5 2.5 0 1 0 5.1 0a2.5 2.5 0 1 0-5.1 0M48.5 60.0a2.5 2.5 0 1 0 5.1 0a2.5 2.5 0 1 0-5.1 0M53.9 60.0a2.4 2.4 0 1 0 4.8 0a2.4 2.4 0 1 0-4.8 0M59.7 60.3a2.6 2.6 0 1 0 5.1 0a2.6 2.6 0 1 0-5.1 0M64.3 60.7a2.7 2.7 0 1 0 5.4 0a2.7 2.7 0 1 0-5.4 0M69.0 61.3a2.8 2.8 0 1 0 5.6 0a2.8 2.8 0 1 0-5.6 0M75.3 61.3a2.7 2.7 0 1 0 5.4 0a2.7 2.7 0 1 0-5.4 0M79.9 61.3a2.4 2.4 0 1 0 4.8 0a2.4 2.4 0 1 0-4.8 0M84.7 60.7a2.7 2.7 0 1 0 5.4 0a2.7 2.7 0 1 0-5.4 0M91.5 59.9a2.4 2.4 0 1 0 4.7 0a2.4 2.4 0 1 0-4.7 0M96.9 60.4a2.6 2.6 0 1 0 5.3 0a2.6 2.6 0 1 0-5.3 0M102.4 60.9a2.7 2.7 0 1 0 5.3 0a2.7 2.7 0 1 0-5.3 0M107.2 61.4a2.8 2.8 0 1 0 5.5 0a2.8 2.8 0 1 0-5.5 0M111.8 59.9a2.7 2.7 0 1 0 5.4 0a2.7 2.7 0 1 0-5.4 0M118.0 60.7a2.4 2.4 0 1 0 4.9 0a2.4 2.4 0 1 0-4.9 0M123.4 60.4a2.8 2.8 0 1 0 5.5 0a2.8 2.8 0 1 0-5.5 0M129.0 61.2a2.4 2.4 0 1 0 4.9 0a2.4 2.4 0 1 0-4.9 0M133.9 60.8a2.7 2.7 0 1 0 5.3 0a2.7 2.7 0 1 0-5.3 0M138.5 60.4a2.3 2.3 0 1 0 4.7 0a2.3 2.3 0 1 0-4.7 0M144.4 60.6a2.4 2.4 0 1 0 4.8 0a2.4 2.4 0 1 0-4.8 0M149.2 61.1a2.6 2.6 0 1 0 5.2 0a2.6 2.6 0 1 0-5.2 0M160.2 60.2a2.3 2.3 0 1 0 4.7 0a2.3 2.3 0 1 0-4.7 0M165.5 61.1a2.7 2.7 0 1 0 5.4 0a2.7 2.7 0 1 0-5.4 0M170.2 60.0a2.8 2.8 0 1 0 5.6 0a2.8 2.8 0 1 0-5.6 0M174.9 59.9a2.6 2.6 0 1 0 5.3 0a2.6 2.6 0 1 0-5.3 0M181.2 61.2a2.6 2.6 0 1 0 5.2 0a2.6 2.6 0 1 0-5.2 0M186.8 59.9a2.4 2.4 0 1 0 4.7 0a2.4 2.4 0 1 0-4.7 0M191.1 60.5a2.4 2.4 0 1 0 4.7 0a2.4 2.4 0 1 0-4.7 0M197.7 60.7a2.5 2.5 0 1 0 4.9 0a2.5 2.5 0 1 0-4.9 0M201.4 60.4a2.7 2.7 0 1 0 5.5 0a2.7 2.7 0 1 0-5.5 0M208.2 60.3a2.7 2.7 0 1 0 5.3 0a2.7 2.7 0 1 0-5.3 0M30.0 65.0a2.5 2.5 0 1 0 5.0 0a2.5 2.5 0 1 0-5.0 0M35.4 66.0a2.5 2.5 0 1 0 5.0 0a2.5 2.5 0 1 0-5.0 0M41.4 65.8a2.6 2.6 0 1 0 5.3 0a2.6 2.6 0 1 0-5.3 0M51.5 65.6a2.6 2.6 0 1 0 5.3 0a2.6 2.6 0 1 0-5.3 0M57.7 65.0a2.3 2.3 0 1 0 4.6 0a2.3 2.3 0 1 0-4.6 0M61.8 64.8a2.8 2.8 0 1 0 5.6 0a2.8 2.8 0 1 0-5.6 0M67.4 65.9a2.5 2.5 0 1 0 5.0 0a2.5 2.5 0 1 0-5.0 0M72.8 65.5a2.7 2.7 0 1 0 5.3 0a2.7 2.7 0 1 0-5.3 0M77.0 65.8a2.7 2.7 0 1 0 5.3 0a2.7 2.7 0 1 0-5.3 0M82.6 65.5a2.5 2.5 0 1 0 5.1 0a2.5 2.5 0 1 0-5.1 0M88.7 65.0a2.5 2.5 0 1 0 5.0 0a2.5 2.5 0 1 0-5.0 0M93.5 66.2a2.8 2.8 0 1 0 5.6 0a2.8 2.8 0 1 0-5.6 0M98.4 65.7a2.7 2.7 0 1 0 5.4 0a2.7 2.7 0 1 0-5.4 0M104.2 64.5a2.6 2.6 0 1 0 5.3 0a2.6 2.6 0 1 0-5.3 0M110.5 64.9a2.4 2.4 0 1 0 4.7 0a2.4 2.4 0 1 0-4.7 0M114.7 65.3a2.3 2.3 0 1 0 4.6 0a2.3 2.3 0 1 0-4.6 0M120.7 64.8a2.6 2.6 0 1 0 5.3 0a2.6 2.6 0 1 0-5.3 0M125.2 65.0a2.7 2.7 0 1 0 5.4 0a2.7 2.7 0 1 0-5.4 0M130.4 64.8a2.4 2.4 0 1 0 4.8 0a2.4 2.4 0 1 0-4.8 0M135.6 65.2a2.7 2.7 0 1 0 5.4 0a2.7 2.7 0 1 0-5.4 0M141.6 64.7a2.7 2.7 0 1 0 5.3 0a2.7 2.7 0 1 0-5.3 0M146.0 65.1a2.7 2.7 0 1 0 5.3 0a2.7 2.7 0 1 0-5.3 0M152.8 65.4a2.3 2.3 0 1 0 4.7 0a2.3 2.3 0 1 0-4.7 0M157.6 66.0a2.4 2.4 0 1 0 4.7 0a2.4 2.4 0 1 0-4.7 0M162.2 65.6a2.5 2.5 0 1 0 4.9 0a2.5 2.5 0 1 0-4.9 0M167.7 65.1a2.4 2.4 0 1 0 4.9 0a2.4 2.4 0 1 0-4.9 0M173.1 64.9a2.7 2.7 0 1 0 5.4 0a2.7 2.7 0 1 0-5.4 0M179.1 65.8a2.6 2.6 0 1 0 5.3 0a2.6 2.6 0 1 0-5.3 0M183.7 65.2a2.6 2.6 0 1 0 5.1 0a2.6 2.6 0 1 0-5.1 0M189.8 66.0a2.3 2.3 0 1 0 4.6 0a2.3 2.3 0 1 0-4.6 0M194.4 64.9a2.7 2.7 0 1 0 5.5 0a2.7 2.7 0 1 0-5.5 0M200.0 65.7a2.5 2.5 0 1 0 5.1 0a2.5 2.5 0 1 0-5.1 0M206.0 66.1a2.3 2.3 0 1 0 4.7 0a2.3 2.3 0 1 0-4.7 0M210.3 65.0a2.6 2.6 0 1 0 5.1 0a2.6 2.6 0 1 0-5.1 0M32.1 70.8a2.4 2.4 0 1 0 4.7 0a2.4 2.4 0 1 0-4.7 0M38.0 70.7a2.7 2.7 0 1 0 5.4 0a2.7 2.7 0 1 0-5.4 0M43.4 70.7a2.4 2.4 0 1 0 4.8 0a2.4 2.4 0 1 0-4.8 0M48.9 70.2a2.4 2.4 0 1 0 4.8 0a2.4 2.4 0 1 0-4.8 0M59.4 69.2a2.4 2.4 0 1 0 4.9 0a2.4 2.4 0 1 0-4.9 0M65.1 70.4a2.3 2.3 0 1 0 4.6 0a2.3 2.3 0 1 0-4.6 0M69.3 69.4a2.4 2.4 0 1 0 4.8 0a2.4 2.4 0 1 0-4.8 0M74.6 70.5a2.6 2.6 0 1 0 5.2 0a2.6 2.6 0 1 0-5.2 0M80.6 69.7a2.4 2.4 0 1 0 4.9 0a2.4 2.4 0 1 0-4.9 0M90.4 69.5a2.6 2.6 0 1 0 5.3 0a2.6 2.6 0 1 0-5.3 0M95.7 70.6a2.8 2.8 0 1 0 5.6 0a2.8 2.8 0 1 0-5.6 0M101.8 69.7a2.5 2.5 0 1 0 5.1 0a2.5 2.5 0 1 0-5.1 0M106.7 69.1a2.8 2.8 0 1 0 5.6 0a2.8 2.8 0 1 0-5.6 0M112.4 70.7a2.6 2.6 0 1 0 5.1 0a2.6 2.6 0 1 0-5.1 0M117.2 69.4a2.3 2.3 0 1 0 4.7 0a2.3 2.3 0 1 0-4.7 0M121.8 69.4a2.7 2.7 0 1 0 5.4 0a2.7 2.7 0 1 0-5.4 0M128.7 69.1a2.4 2.4 0 1 0 4.7 0a2.4 2.4 0 1 0-4.7 0M134.3 69.7a2.3 2.3 0 1 0 4.6 0a2.3 2.3 0 1 0-4.6 0M139.1 70.7a2.4 2.4 0 1 0 4.7 0a2.4 2.4 0 1 0-4.7 0M143.6 70.2a2.4 2.4 0 1 0 4.8 0a2.4 2.4 0 1 0-4.8 0M149.4 70.0a2.5 2.5 0 1 0 5.1 0a2.5 2.5 0 1 0-5.1 0M154.3 69.1a2.6 2.6 0 1 0 5.2 0a2.6 2.6 0 1 0-5.2 0M159.3 69.7a2.5 2.5 0 1 0 5.0 0a2.5 2.5 0 1 0-5.0 0M166.0 69.1a2.4 2.4 0 1 0 4.9 0a2.4 2.4 0 1 0-4.9 0M171.2 70.3a2.4 2.4 0 1 0 4.8 0a2.4 2.4 0 1 0-4.8 0M174.9 70.8a2.7 2.7 0 1 0 5.5 0a2.7 2.7 0 1 0-5.5 0M181.6 70.1a2.8 2.8 0 1 0 5.6 0a2.8 2.8 0 1 0-5.6 0M186.7 70.8a2.5 2.5 0 1 0 5.0 0a2.5 2.5 0 1 0-5.0 0M191.0 70.2a2.5 2.5 0 1 0 4.9 0a2.5 2.5 0 1 0-4.9 0M197.7 70.8a2.5 2.5 0 1 0 5.0 0a2.5 2.5 0 1 0-5.0 0M201.7 70.6a2.6 2.6 0 1 0 5.2 0a2.6 2.6 0 1 0-5.2 0M206.5 69.6a2.8 2.8 0 1 0 5.6 0a2.8 2.8 0 1 0-5.6 0M29.4 74.5a2.7 2.7 0 1 0 5.5 0a2.7 2.7 0 1 0-5.5 0M35.3 74.2a2.5 2.5 0 1 0 4.9 0a2.5 2.5 0 1 0-4.9 0M40.4 74.9a2.7 2.7 0 1 0 5.4 0a2.7 2.7 0 1 0-5.4 0M45.6 74.8a2.3 2.3 0 1 0 4.6 0a2.3 2.3 0 1 0-4.6 0M55.8 73.8a2.5 2.5 0 1 0 5.1 0a2.5 2.5 0 1 0-5.1 0M62.2 74.6a2.5 2.5 0 1 0 5.0 0a2.5 2.5 0 1 0-5.0 0M66.9 73.7a2.3 2.3 0 1 0 4.7 0a2.3 2.3 0 1 0-4.7 0M72.9 74.3a2.6 2.6 0 1 0 5.3 0a2.6 2.6 0 1 0-5.3 0M78.3 74.7a2.7 2.7 0 1 0 5.5 0a2.7 2.7 0 1 0-5.5 0M83.8 74.2a2.6 2.6 0 1 0 5.2 0a2.6 2.6 0 1 0-5.2 0M87.9 74.7a2.6 2.6 0 1 0 5.1 0a2.6 2.6 0 1 0-5.1 0M94.1 75.4a2.4 2.4 0 1 0 4.9 0a2.4 2.4 0 1 0-4.9 0M98.8 75.3a2.5 2.5 0 1 0 5.0 0a2.5 2.5 0 1 0-5.0 0M103.3 74.4a2.6 2.6 0 1 0 5.3 0a2.6 2.6 0 1 0-5.3 0M109.8 75.0a2.4 2.4 0 1 0 4.9 0a2.4 2.4 0 1 0-4.9 0M114.2 75.2a2.4 2.4 0 1 0 4.7 0a2.4 2.4 0 1 0-4.7 0M119.4 74.9a2.5 2.5 0 1 0 5.0 0a2.5 2.5 0 1 0-5.0 0M125.3 73.9a2.4 2.4 0 1 0 4.7 0a2.4 2.4 0 1 0-4.7 0M131.7 75.1a2.3 2.3 0 1 0 4.6 0a2.3 2.3 0 1 0-4.6 0M137.0 74.0a2.3 2.3 0 1 0 4.7 0a2.3 2.3 0 1 0-4.7 0M142.0 74.8a2.7 2.7 0 1 0 5.3 0a2.7 2.7 0 1 0-5.3 0M147.4 73.7a2.4 2.4 0 1 0 4.7 0a2.4 2.4 0 1 0-4.7 0M151.7 74.6a2.4 2.4 0 1 0 4.8 0a2.4 2.4 0 1 0-4.8 0M157.6 74.3a2.6 2.6 0 1 0 5.3 0a2.6 2.6 0 1 0-5.3 0M162.6 73.9a2.4 2.4 0 1 0 4.8 0a2.4 2.4 0 1 0-4.8 0M167.9 74.8a2.5 2.5 0 1 0 5.0 0a2.5 2.5 0 1 0-5.0 0M172.4 74.9a2.6 2.6 0 1 0 5.2 0a2.6 2.6 0 1 0-5.2 0M183.6 74.8a2.5 2.5 0 1 0 5.0 0a2.5 2.5 0 1 0-5.0 0M188.7 75.2a2.6 2.6 0 1 0 5.3 0a2.6 2.6 0 1 0-5.3 0M194.2 74.8a2.5 2.5 0 1 0 4.9 0a2.5 2.5 0 1 0-4.9 0M199.5 74.3a2.4 2.4 0 1 0 4.7 0a2.4 2.4 0 1 0-4.7 0M204.3 75.0a2.7 2.7 0 1 0 5.5 0a2.7 2.7 0 1 0-5.5 0M209.8 74.4a2.7 2.7 0 1 0 5.3 0a2.7 2.7 0 1 0-5.3 0M32.6 78.6a2.3 2.3 0 1 0 4.7 0a2.3 2.3 0 1 0-4.7 0M38.1 78.3a2.6 2.6 0 1 0 5.2 0a2.6 2.6 0 1 0-5.2 0M42.8 80.0a2.8 2.8 0 1 0 5.5 0a2.8 2.8 0 1 0-5.5 0M48.9 78.5a2.3 2.3 0 1 0 4.7 0a2.3 2.3 0 1 0-4.7 0M64.8 79.4a2.7 2.7 0 1 0 5.4 0a2.7 2.7 0 1 0-5.4 0M69.2 79.2a2.6 2.6 0 1 0 5.1 0a2.6 2.6 0 1 0-5.1 0M75.3 79.3a2.7 2.7 0 1 0 5.4 0a2.7 2.7 0 1 0-5.4 0M79.8 80.0a2.5 2.5 0 1 0 5.0 0a2.5 2.5 0 1 0-5.0 0M86.0 78.9a2.7 2.7 0 1 0 5.4 0a2.7 2.7 0 1 0-5.4 0M91.6 78.4a2.7 2.7 0 1 0 5.4 0a2.7 2.7 0 1 0-5.4 0M96.5 78.6a2.4 2.4 0 1 0 4.9 0a2.4 2.4 0 1 0-4.9 0M100.9 78.5a2.6 2.6 0 1 0 5.1 0a2.6 2.6 0 1 0-5.1 0M107.3 78.9a2.7 2.7 0 1 0 5.4 0a2.7 2.7 0 1 0-5.4 0M111.4 79.6a2.8 2.8 0 1 0 5.5 0a2.8 2.8 0 1 0-5.5 0M117.0 79.9a2.5 2.5 0 1 0 5.1 0a2.5 2.5 0 1 0-5.1 0M123.1 79.6a2.5 2.5 0 1 0 5.0 0a2.5 2.5 0 1 0-5.0 0M128.1 79.5a2.5 2.5 0 1 0 4.9 0a2.5 2.5 0 1 0-4.9 0M133.4 78.9a2.3 2.3 0 1 0 4.7 0a2.3 2.3 0 1 0-4.7 0M137.9 78.8a2.5 2.5 0 1 0 4.9 0a2.5 2.5 0 1 0-4.9 0M144.0 78.6a2.3 2.3 0 1 0 4.6 0a2.3 2.3 0 1 0-4.6 0M149.0 79.6a2.3 2.3 0 1 0 4.7 0a2.3 2.3 0 1 0-4.7 0M155.1 78.8a2.5 2.5 0 1 0 5.0 0a2.5 2.5 0 1 0-5.0 0M160.2 79.9a2.8 2.8 0 1 0 5.6 0a2.8 2.8 0 1 0-5.6 0M164.5 80.0a2.7 2.7 0 1 0 5.4 0a2.7 2.7 0 1 0-5.4 0M170.9 79.5a2.7 2.7 0 1 0 5.5 0a2.7 2.7 0 1 0-5.5 0M175.9 78.4a2.4 2.4 0 1 0 4.9 0a2.4 2.4 0 1 0-4.9 0M181.6 78.4a2.7 2.7 0 1 0 5.3 0a2.7 2.7 0 1 0-5.3 0M185.6 79.0a2.5 2.5 0 1 0 5.0 0a2.5 2.5 0 1 0-5.0 0M192.1 78.9a2.5 2.5 0 1 0 5.0 0a2.5 2.5 0 1 0-5.0 0M196.6 78.5a2.5 2.5 0 1 0 5.1 0a2.5 2.5 0 1 0-5.1 0M202.4 79.2a2.4 2.4 0 1 0 4.7 0a2.4 2.4 0 1 0-4.7 0M207.6 79.2a2.7 2.7 0 1 0 5.4 0a2.7 2.7 0 1 0-5.4 0M30.8 84.2a2.5 2.5 0 1 0 5.1 0a2.5 2.5 0 1 0-5.1 0M35.8 84.4a2.7 2.7 0 1 0 5.4 0a2.7 2.7 0 1 0-5.4 0M39.6 83.7a2.8 2.8 0 1 0 5.5 0a2.8 2.8 0 1 0-5.5 0M46.5 83.8a2.5 2.5 0 1 0 4.9 0a2.5 2.5 0 1 0-4.9 0M50.2 83.3a2.7 2.7 0 1 0 5.5 0a2.7 2.7 0 1 0-5.5 0M56.0 83.0a2.7 2.7 0 1 0 5.3 0a2.7 2.7 0 1 0-5.3 0M61.2 83.7a2.4 2.4 0 1 0 4.7 0a2.4 2.4 0 1 0-4.7 0M68.0 83.1a2.4 2.4 0 1 0 4.9 0a2.4 2.4 0 1 0-4.9 0M71.8 83.5a2.5 2.5 0 1 0 5.1 0a2.5 2.5 0 1 0-5.1 0M78.7 84.5a2.4 2.4 0 1 0 4.8 0a2.4 2.4 0 1 0-4.8 0M88.2 82.9a2.4 2.4 0 1 0 4.8 0a2.4 2.4 0 1 0-4.8 0M94.4 83.0a2.4 2.4 0 1 0 4.8 0a2.4 2.4 0 1 0-4.8 0M99.4 83.3a2.8 2.8 0 1 0 5.6 0a2.8 2.8 0 1 0-5.6 0M104.5 83.7a2.7 2.7 0 1 0 5.4 0a2.7 2.7 0 1 0-5.4 0M110.0 83.5a2.4 2.4 0 1 0 4.7 0a2.4 2.4 0 1 0-4.7 0M120.8 84.5a2.7 2.7 0 1 0 5.4 0a2.7 2.7 0 1 0-5.4 0M125.4 83.0a2.7 2.7 0 1 0 5.4 0a2.7 2.7 0 1 0-5.4 0M129.9 83.0a2.5 2.5 0 1 0 5.1 0a2.5 2.5 0 1 0-5.1 0M136.9 83.7a2.6 2.6 0 1 0 5.3 0a2.6 2.6 0 1 0-5.3 0M140.9 84.0a2.8 2.8 0 1 0 5.5 0a2.8 2.8 0 1 0-5.5 0M147.2 83.7a2.5 2.5 0 1 0 5.1 0a2.5 2.5 0 1 0-5.1 0M152.1 83.1a2.5 2.5 0 1 0 5.0 0a2.5 2.5 0 1 0-5.0 0M157.0 84.1a2.6 2.6 0 1 0 5.3 0a2.6 2.6 0 1 0-5.3 0M163.0 84.0a2.5 2.5 0 1 0 4.9 0a2.5 2.5 0 1 0-4.9 0M168.1 84.5a2.6 2.6 0 1 0 5.2 0a2.6 2.6 0 1 0-5.2 0M178.3 82.9a2.6 2.6 0 1 0 5.2 0a2.6 2.6 0 1 0-5.2 0M183.8 83.5a2.7 2.7 0 1 0 5.4 0a2.7 2.7 0 1 0-5.4 0M194.5 84.5a2.3 2.3 0 1 0 4.6 0a2.3 2.3 0 1 0-4.6 0M199.7 83.4a2.3 2.3 0 1 0 4.7 0a2.3 2.3 0 1 0-4.7 0M205.2 83.6a2.5 2.5 0 1 0 4.9 0a2.5 2.5 0 1 0-4.9 0M209.9 83.8a2.3 2.3 0 1 0 4.6 0a2.3 2.3 0 1 0-4.6 0M32.7 88.4a2.6 2.6 0 1 0 5.1 0a2.6 2.6 0 1 0-5.1 0M38.5 88.9a2.6 2.6 0 1 0 5.2 0a2.6 2.6 0 1 0-5.2 0M43.6 87.6a2.7 2.7 0 1 0 5.3 0a2.7 2.7 0 1 0-5.3 0M49.4 88.9a2.6 2.6 0 1 0 5.2 0a2.6 2.6 0 1 0-5.2 0M54.5 88.4a2.8 2.8 0 1 0 5.6 0a2.8 2.8 0 1 0-5.6 0M58.7 87.9a2.6 2.6 0 1 0 5.2 0a2.6 2.6 0 1 0-5.2 0M65.5 89.1a2.4 2.4 0 1 0 4.9 0a2.4 2.4 0 1 0-4.9 0M69.3 88.5a2.3 2.3 0 1 0 4.7 0a2.3 2.3 0 1 0-4.7 0M74.7 88.8a2.3 2.3 0 1 0 4.6 0a2.3 2.3 0 1 0-4.6 0M79.6 89.1a2.5 2.5 0 1 0 5.1 0a2.5 2.5 0 1 0-5.1 0M84.8 88.4a2.6 2.6 0 1 0 5.3 0a2.6 2.6 0 1 0-5.3 0M90.7 88.9a2.5 2.5 0 1 0 5.0 0a2.5 2.5 0 1 0-5.0 0M97.1 88.1a2.5 2.5 0 1 0 5.0 0a2.5 2.5 0 1 0-5.0 0M102.3 89.3a2.3 2.3 0 1 0 4.7 0a2.3 2.3 0 1 0-4.7 0M107.3 89.2a2.4 2.4 0 1 0 4.8 0a2.4 2.4 0 1 0-4.8 0M112.0 88.2a2.8 2.8 0 1 0 5.6 0a2.8 2.8 0 1 0-5.6 0M116.6 87.5a2.7 2.7 0 1 0 5.5 0a2.7 2.7 0 1 0-5.5 0M123.3 89.0a2.4 2.4 0 1 0 4.8 0a2.4 2.4 0 1 0-4.8 0M128.9 88.5a2.5 2.5 0 1 0 5.0 0a2.5 2.5 0 1 0-5.0 0M132.4 88.0a2.7 2.7 0 1 0 5.5 0a2.7 2.7 0 1 0-5.5 0M138.1 88.3a2.6 2.6 0 1 0 5.3 0a2.6 2.6 0 1 0-5.3 0M143.7 88.9a2.7 2.7 0 1 0 5.4 0a2.7 2.7 0 1 0-5.4 0M148.3 88.5a2.7 2.7 0 1 0 5.3 0a2.7 2.7 0 1 0-5.3 0M155.0 87.9a2.5 2.5 0 1 0 5.1 0a2.5 2.5 0 1 0-5.1 0M160.4 88.2a2.4 2.4 0 1 0 4.7 0a2.4 2.4 0 1 0-4.7 0M165.6 89.1a2.8 2.8 0 1 0 5.6 0a2.8 2.8 0 1 0-5.6 0M170.2 87.5a2.3 2.3 0 1 0 4.7 0a2.3 2.3 0 1 0-4.7 0M175.9 88.3a2.6 2.6 0 1 0 5.2 0a2.6 2.6 0 1 0-5.2 0M181.5 88.9a2.4 2.4 0 1 0 4.7 0a2.4 2.4 0 1 0-4.7 0M185.4 89.0a2.7 2.7 0 1 0 5.4 0a2.7 2.7 0 1 0-5.4 0M192.4 88.9a2.5 2.5 0 1 0 4.9 0a2.5 2.5 0 1 0-4.9 0M197.7 88.0a2.7 2.7 0 1 0 5.5 0a2.7 2.7 0 1 0-5.5 0M202.9 89.1a2.4 2.4 0 1 0 4.9 0a2.4 2.4 0 1 0-4.9 0M208.4 88.4a2.6 2.6 0 1 0 5.2 0a2.6 2.6 0 1 0-5.2 0M29.7 93.6a2.7 2.7 0 1 0 5.5 0a2.7 2.7 0 1 0-5.5 0M36.0 93.1a2.4 2.4 0 1 0 4.7 0a2.4 2.4 0 1 0-4.7 0M39.7 92.9a2.7 2.7 0 1 0 5.4 0a2.7 2.7 0 1 0-5.4 0M45.3 92.6a2.6 2.6 0 1 0 5.2 0a2.6 2.6 0 1 0-5.2 0M50.5 92.9a2.8 2.8 0 1 0 5.5 0a2.8 2.8 0 1 0-5.5 0M56.8 92.8a2.4 2.4 0 1 0 4.8 0a2.4 2.4 0 1 0-4.8 0M62.6 93.7a2.3 2.3 0 1 0 4.6 0a2.3 2.3 0 1 0-4.6 0M67.8 93.4a2.6 2.6 0 1 0 5.2 0a2.6 2.6 0 1 0-5.2 0M73.2 93.3a2.5 2.5 0 1 0 4.9 0a2.5 2.5 0 1 0-4.9 0M78.0 92.6a2.5 2.5 0 1 0 4.9 0a2.5 2.5 0 1 0-4.9 0M82.8 92.3a2.4 2.4 0 1 0 4.7 0a2.4 2.4 0 1 0-4.7 0M87.8 92.8a2.7 2.7 0 1 0 5.4 0a2.7 2.7 0 1 0-5.4 0M94.5 93.2a2.6 2.6 0 1 0 5.2 0a2.6 2.6 0 1 0-5.2 0M98.9 92.5a2.7 2.7 0 1 0 5.5 0a2.7 2.7 0 1 0-5.5 0M103.8 92.1a2.5 2.5 0 1 0 5.0 0a2.5 2.5 0 1 0-5.0 0M109.6 93.0a2.6 2.6 0 1 0 5.2 0a2.6 2.6 0 1 0-5.2 0M115.1 93.1a2.4 2.4 0 1 0 4.7 0a2.4 2.4 0 1 0-4.7 0M119.8 93.1a2.5 2.5 0 1 0 5.1 0a2.5 2.5 0 1 0-5.1 0M125.1 92.6a2.4 2.4 0 1 0 4.8 0a2.4 2.4 0 1 0-4.8 0M131.0 93.2a2.5 2.5 0 1 0 5.1 0a2.5 2.5 0 1 0-5.1 0M136.3 92.5a2.6 2.6 0 1 0 5.2 0a2.6 2.6 0 1 0-5.2 0M141.7 93.1a2.4 2.4 0 1 0 4.9 0a2.4 2.4 0 1 0-4.9 0M157.7 92.8a2.3 2.3 0 1 0 4.6 0a2.3 2.3 0 1 0-4.6 0M163.0 92.9a2.6 2.6 0 1 0 5.2 0a2.6 2.6 0 1 0-5.2 0M167.9 92.3a2.7 2.7 0 1 0 5.3 0a2.7 2.7 0 1 0-5.3 0M172.7 93.0a2.4 2.4 0 1 0 4.8 0a2.4 2.4 0 1 0-4.8 0M177.9 93.4a2.6 2.6 0 1 0 5.1 0a2.6 2.6 0 1 0-5.1 0M182.8 93.6a2.8 2.8 0 1 0 5.6 0a2.8 2.8 0 1 0-5.6 0M189.1 93.2a2.4 2.4 0 1 0 4.8 0a2.4 2.4 0 1 0-4.8 0M193.6 93.1a2.6 2.6 0 1 0 5.2 0a2.6 2.6 0 1 0-5.2 0M204.9 92.6a2.7 2.7 0 1 0 5.5 0a2.7 2.7 0 1 0-5.5 0M209.9 92.4a2.5 2.5 0 1 0 5.0 0a2.5 2.5 0 1 0-5.0 0M32.8 97.6a2.7 2.7 0 1 0 5.4 0a2.7 2.7 0 1 0-5.4 0M37.7 97.2a2.5 2.5 0 1 0 5.0 0a2.5 2.5 0 1 0-5.0 0M42.7 98.3a2.7 2.7 0 1 0 5.5 0a2.7 2.7 0 1 0-5.5 0M48.4 97.7a2.8 2.8 0 1 0 5.5 0a2.8 2.8 0 1 0-5.5 0M53.4 98.5a2.3 2.3 0 1 0 4.7 0a2.3 2.3 0 1 0-4.7 0M58.8 96.8a2.5 2.5 0 1 0 5.1 0a2.5 2.5 0 1 0-5.1 0M63.9 97.0a2.3 2.3 0 1 0 4.7 0a2.3 2.3 0 1 0-4.7 0M69.9 98.2a2.8 2.8 0 1 0 5.5 0a2.8 2.8 0 1 0-5.5 0M74.8 97.4a2.4 2.4 0 1 0 4.7 0a2.4 2.4 0 1 0-4.7 0M80.2 97.1a2.7 2.7 0 1 0 5.4 0a2.7 2.7 0 1 0-5.4 0M85.1 97.0a2.6 2.6 0 1 0 5.3 0a2.6 2.6 0 1 0-5.3 0M91.2 98.5a2.8 2.8 0 1 0 5.6 0a2.8 2.8 0 1 0-5.6 0M95.8 97.9a2.3 2.3 0 1 0 4.6 0a2.3 2.3 0 1 0-4.6 0M101.4 98.1a2.4 2.4 0 1 0 4.7 0a2.4 2.4 0 1 0-4.7 0M107.8 97.8a2.6 2.6 0 1 0 5.1 0a2.6 2.6 0 1 0-5.1 0M112.7 98.1a2.7 2.7 0 1 0 5.4 0a2.7 2.7 0 1 0-5.4 0M116.7 97.7a2.8 2.8 0 1 0 5.5 0a2.8 2.8 0 1 0-5.5 0M122.8 98.1a2.5 2.5 0 1 0 5.0 0a2.5 2.5 0 1 0-5.0 0M128.5 97.3a2.5 2.5 0 1 0 5.0 0a2.5 2.5 0 1 0-5.0 0M133.3 97.6a2.7 2.7 0 1 0 5.3 0a2.7 2.7 0 1 0-5.3 0M138.9 97.5a2.5 2.5 0 1 0 5.0 0a2.5 2.5 0 1 0-5.0 0M144.2 96.9a2.4 2.4 0 1 0 4.9 0a2.4 2.4 0 1 0-4.9 0M149.9 97.0a2.4 2.4 0 1 0 4.7 0a2.4 2.4 0 1 0-4.7 0M155.6 98.4a2.3 2.3 0 1 0 4.6 0a2.3 2.3 0 1 0-4.6 0M160.4 96.8a2.3 2.3 0 1 0 4.7 0a2.3 2.3 0 1 0-4.7 0M164.7 97.6a2.6 2.6 0 1 0 5.2 0a2.6 2.6 0 1 0-5.2 0M170.0 97.7a2.5 2.5 0 1 0 5.1 0a2.5 2.5 0 1 0-5.1 0M175.4 98.2a2.7 2.7 0 1 0 5.5 0a2.7 2.7 0 1 0-5.5 0M181.7 98.1a2.6 2.6 0 1 0 5.2 0a2.6 2.6 0 1 0-5.2 0M185.9 97.8a2.6 2.6 0 1 0 5.2 0a2.6 2.6 0 1 0-5.2 0M192.1 98.3a2.5 2.5 0 1 0 4.9 0a2.5 2.5 0 1 0-4.9 0M197.3 98.1a2.7 2.7 0 1 0 5.3 0a2.7 2.7 0 1 0-5.3 0M202.3 97.5a2.5 2.5 0 1 0 4.9 0a2.5 2.5 0 1 0-4.9 0M207.5 97.7a2.5 2.5 0 1 0 5.0 0a2.5 2.5 0 1 0-5.0 0M30.6 101.6a2.8 2.8 0 1 0 5.6 0a2.8 2.8 0 1 0-5.6 0M35.2 101.4a2.3 2.3 0 1 0 4.7 0a2.3 2.3 0 1 0-4.7 0M41.2 102.8a2.6 2.6 0 1 0 5.1 0a2.6 2.6 0 1 0-5.1 0M46.7 101.8a2.4 2.4 0 1 0 4.7 0a2.4 2.4 0 1 0-4.7 0M51.2 102.6a2.8 2.8 0 1 0 5.5 0a2.8 2.8 0 1 0-5.5 0M56.8 102.9a2.4 2.4 0 1 0 4.9 0a2.4 2.4 0 1 0-4.9 0M67.0 101.7a2.6 2.6 0 1 0 5.2 0a2.6 2.6 0 1 0-5.2 0M72.6 101.8a2.5 2.5 0 1 0 5.1 0a2.5 2.5 0 1 0-5.1 0M77.3 101.5a2.6 2.6 0 1 0 5.1 0a2.6 2.6 0 1 0-5.1 0M82.8 102.9a2.6 2.6 0 1 0 5.3 0a2.6 2.6 0 1 0-5.3 0M94.2 101.6a2.4 2.4 0 1 0 4.8 0a2.4 2.4 0 1 0-4.8 0M98.9 101.6a2.3 2.3 0 1 0 4.7 0a2.3 2.3 0 1 0-4.7 0M103.7 102.6a2.8 2.8 0 1 0 5.6 0a2.8 2.8 0 1 0-5.6 0M109.7 102.8a2.8 2.8 0 1 0 5.5 0a2.8 2.8 0 1 0-5.5 0M114.9 101.9a2.3 2.3 0 1 0 4.6 0a2.3 2.3 0 1 0-4.6 0M119.2 102.1a2.7 2.7 0 1 0 5.4 0a2.7 2.7 0 1 0-5.4 0M124.7 102.4a2.8 2.8 0 1 0 5.6 0a2.8 2.8 0 1 0-5.6 0M131.6 101.9a2.6 2.6 0 1 0 5.1 0a2.6 2.6 0 1 0-5.1 0M136.7 101.5a2.7 2.7 0 1 0 5.3 0a2.7 2.7 0 1 0-5.3 0M140.7 101.4a2.5 2.5 0 1 0 4.9 0a2.5 2.5 0 1 0-4.9 0M146.0 102.3a2.4 2.4 0 1 0 4.8 0a2.4 2.4 0 1 0-4.8 0M151.2 102.2a2.7 2.7 0 1 0 5.4 0a2.7 2.7 0 1 0-5.4 0M156.2 102.8a2.7 2.7 0 1 0 5.4 0a2.7 2.7 0 1 0-5.4 0M161.7 101.5a2.8 2.8 0 1 0 5.5 0a2.8 2.8 0 1 0-5.5 0M167.9 102.6a2.5 2.5 0 1 0 5.1 0a2.5 2.5 0 1 0-5.1 0M173.7 101.4a2.4 2.4 0 1 0 4.7 0a2.4 2.4 0 1 0-4.7 0M178.4 101.8a2.6 2.6 0 1 0 5.1 0a2.6 2.6 0 1 0-5.1 0M194.5 102.5a2.5 2.5 0 1 0 5.0 0a2.5 2.5 0 1 0-5.0 0M199.4 102.5a2.5 2.5 0 1 0 5.1 0a2.5 2.5 0 1 0-5.1 0M204.5 102.6a2.5 2.5 0 1 0 5.1 0a2.5 2.5 0 1 0-5.1 0M210.2 102.6a2.8 2.8 0 1 0 5.6 0a2.8 2.8 0 1 0-5.6 0M31.8 106.8a2.6 2.6 0 1 0 5.2 0a2.6 2.6 0 1 0-5.2 0M38.9 106.8a2.3 2.3 0 1 0 4.7 0a2.3 2.3 0 1 0-4.7 0M43.4 106.9a2.4 2.4 0 1 0 4.8 0a2.4 2.4 0 1 0-4.8 0M47.7 107.0a2.6 2.6 0 1 0 5.3 0a2.6 2.6 0 1 0-5.3 0M54.0 106.8a2.4 2.4 0 1 0 4.9 0a2.4 2.4 0 1 0-4.9 0M59.2 107.1a2.8 2.8 0 1 0 5.6 0a2.8 2.8 0 1 0-5.6 0M64.6 106.8a2.7 2.7 0 1 0 5.3 0a2.7 2.7 0 1 0-5.3 0M70.1 107.0a2.7 2.7 0 1 0 5.3 0a2.7 2.7 0 1 0-5.3 0M75.2 106.1a2.7 2.7 0 1 0 5.3 0a2.7 2.7 0 1 0-5.3 0M81.2 107.1a2.3 2.3 0 1 0 4.7 0a2.3 2.3 0 1 0-4.7 0M86.2 107.2a2.7 2.7 0 1 0 5.4 0a2.7 2.7 0 1 0-5.4 0M91.7 106.0a2.7 2.7 0 1 0 5.3 0a2.7 2.7 0 1 0-5.3 0M95.6 106.1a2.8 2.8 0 1 0 5.6 0a2.8 2.8 0 1 0-5.6 0M101.6 106.1a2.6 2.6 0 1 0 5.2 0a2.6 2.6 0 1 0-5.2 0M112.0 106.7a2.7 2.7 0 1 0 5.4 0a2.7 2.7 0 1 0-5.4 0M118.4 107.5a2.3 2.3 0 1 0 4.6 0a2.3 2.3 0 1 0-4.6 0M123.1 107.2a2.4 2.4 0 1 0 4.8 0a2.4 2.4 0 1 0-4.8 0M128.1 106.3a2.5 2.5 0 1 0 5.0 0a2.5 2.5 0 1 0-5.0 0M133.4 106.5a2.7 2.7 0 1 0 5.4 0a2.7 2.7 0 1 0-5.4 0M139.4 107.3a2.4 2.4 0 1 0 4.9 0a2.4 2.4 0 1 0-4.9 0M143.7 106.0a2.3 2.3 0 1 0 4.7 0a2.3 2.3 0 1 0-4.7 0M149.4 106.1a2.6 2.6 0 1 0 5.1 0a2.6 2.6 0 1 0-5.1 0M154.5 106.6a2.6 2.6 0 1 0 5.3 0a2.6 2.6 0 1 0-5.3 0M160.2 106.3a2.7 2.7 0 1 0 5.3 0a2.7 2.7 0 1 0-5.3 0M171.0 106.6a2.6 2.6 0 1 0 5.2 0a2.6 2.6 0 1 0-5.2 0M175.9 106.6a2.7 2.7 0 1 0 5.4 0a2.7 2.7 0 1 0-5.4 0M180.4 106.1a2.4 2.4 0 1 0 4.9 0a2.4 2.4 0 1 0-4.9 0M191.2 106.8a2.3 2.3 0 1 0 4.6 0a2.3 2.3 0 1 0-4.6 0M196.9 107.2a2.3 2.3 0 1 0 4.7 0a2.3 2.3 0 1 0-4.7 0M202.9 106.9a2.7 2.7 0 1 0 5.4 0a2.7 2.7 0 1 0-5.4 0M207.9 106.2a2.3 2.3 0 1 0 4.7 0a2.3 2.3 0 1 0-4.7 0M29.4 111.9a2.4 2.4 0 1 0 4.7 0a2.4 2.4 0 1 0-4.7 0M34.9 111.6a2.5 2.5 0 1 0 5.0 0a2.5 2.5 0 1 0-5.0 0M40.6 111.6a2.3 2.3 0 1 0 4.7 0a2.3 2.3 0 1 0-4.7 0M46.4 110.9a2.3 2.3 0 1 0 4.6 0a2.3 2.3 0 1 0-4.6 0M51.2 111.5a2.6 2.6 0 1 0 5.2 0a2.6 2.6 0 1 0-5.2 0M57.3 111.3a2.4 2.4 0 1 0 4.9 0a2.4 2.4 0 1 0-4.9 0M61.4 111.3a2.5 2.5 0 1 0 5.1 0a2.5 2.5 0 1 0-5.1 0M66.5 110.9a2.6 2.6 0 1 0 5.2 0a2.6 2.6 0 1 0-5.2 0M71.8 110.6a2.7 2.7 0 1 0 5.5 0a2.7 2.7 0 1 0-5.5 0M78.3 110.9a2.6 2.6 0 1 0 5.2 0a2.6 2.6 0 1 0-5.2 0M82.8 111.0a2.3 2.3 0 1 0 4.7 0a2.3 2.3 0 1 0-4.7 0M93.9 110.6a2.5 2.5 0 1 0 5.0 0a2.5 2.5 0 1 0-5.0 0M98.2 111.3a2.4 2.4 0 1 0 4.8 0a2.4 2.4 0 1 0-4.8 0M105.0 111.4a2.5 2.5 0 1 0 5.0 0a2.5 2.5 0 1 0-5.0 0M110.1 111.2a2.5 2.5 0 1 0 5.0 0a2.5 2.5 0 1 0-5.0 0M115.1 111.0a2.7 2.7 0 1 0 5.4 0a2.7 2.7 0 1 0-5.4 0M120.3 111.9a2.8 2.8 0 1 0 5.5 0a2.8 2.8 0 1 0-5.5 0M125.7 112.2a2.4 2.4 0 1 0 4.8 0a2.4 2.4 0 1 0-4.8 0M130.9 110.5a2.6 2.6 0 1 0 5.2 0a2.6 2.6 0 1 0-5.2 0M140.6 111.7a2.6 2.6 0 1 0 5.2 0a2.6 2.6 0 1 0-5.2 0M147.2 111.3a2.6 2.6 0 1 0 5.3 0a2.6 2.6 0 1 0-5.3 0M153.0 110.7a2.4 2.4 0 1 0 4.8 0a2.4 2.4 0 1 0-4.8 0M157.8 110.9a2.7 2.7 0 1 0 5.5 0a2.7 2.7 0 1 0-5.5 0M162.9 112.1a2.3 2.3 0 1 0 4.7 0a2.3 2.3 0 1 0-4.7 0M167.6 111.6a2.4 2.4 0 1 0 4.9 0a2.4 2.4 0 1 0-4.9 0M173.9 110.7a2.7 2.7 0 1 0 5.3 0a2.7 2.7 0 1 0-5.3 0M179.0 111.0a2.4 2.4 0 1 0 4.8 0a2.4 2.4 0 1 0-4.8 0M183.0 110.7a2.7 2.7 0 1 0 5.4 0a2.7 2.7 0 1 0-5.4 0M189.0 111.5a2.3 2.3 0 1 0 4.6 0a2.3 2.3 0 1 0-4.6 0M194.8 111.9a2.5 2.5 0 1 0 5.1 0a2.5 2.5 0 1 0-5.1 0M198.6 110.7a2.8 2.8 0 1 0 5.6 0a2.8 2.8 0 1 0-5.6 0M205.7 111.6a2.3 2.3 0 1 0 4.7 0a2.3 2.3 0 1 0-4.7 0M209.6 110.7a2.5 2.5 0 1 0 5.0 0a2.5 2.5 0 1 0-5.0 0M32.8 116.9a2.8 2.8 0 1 0 5.5 0a2.8 2.8 0 1 0-5.5 0M38.4 116.2a2.8 2.8 0 1 0 5.5 0a2.8 2.8 0 1 0-5.5 0M42.6 115.9a2.6 2.6 0 1 0 5.2 0a2.6 2.6 0 1 0-5.2 0M47.8 116.8a2.4 2.4 0 1 0 4.9 0a2.4 2.4 0 1 0-4.9 0M54.5 115.4a2.4 2.4 0 1 0 4.7 0a2.4 2.4 0 1 0-4.7 0M58.9 116.1a2.8 2.8 0 1 0 5.5 0a2.8 2.8 0 1 0-5.5 0M65.1 115.8a2.4 2.4 0 1 0 4.8 0a2.4 2.4 0 1 0-4.8 0M70.5 116.0a2.4 2.4 0 1 0 4.9 0a2.4 2.4 0 1 0-4.9 0M75.1 115.6a2.5 2.5 0 1 0 4.9 0a2.5 2.5 0 1 0-4.9 0M79.8 115.6a2.7 2.7 0 1 0 5.4 0a2.7 2.7 0 1 0-5.4 0M86.5 115.4a2.5 2.5 0 1 0 4.9 0a2.5 2.5 0 1 0-4.9 0M91.7 115.2a2.5 2.5 0 1 0 4.9 0a2.5 2.5 0 1 0-4.9 0M95.7 116.7a2.5 2.5 0 1 0 4.9 0a2.5 2.5 0 1 0-4.9 0M101.2 115.5a2.8 2.8 0 1 0 5.6 0a2.8 2.8 0 1 0-5.6 0M113.3 116.3a2.3 2.3 0 1 0 4.6 0a2.3 2.3 0 1 0-4.6 0M118.2 116.6a2.8 2.8 0 1 0 5.6 0a2.8 2.8 0 1 0-5.6 0M123.5 116.6a2.6 2.6 0 1 0 5.3 0a2.6 2.6 0 1 0-5.3 0M128.6 116.1a2.6 2.6 0 1 0 5.1 0a2.6 2.6 0 1 0-5.1 0M134.2 115.9a2.4 2.4 0 1 0 4.8 0a2.4 2.4 0 1 0-4.8 0M144.7 116.0a2.4 2.4 0 1 0 4.9 0a2.4 2.4 0 1 0-4.9 0M148.9 115.3a2.6 2.6 0 1 0 5.2 0a2.6 2.6 0 1 0-5.2 0M159.3 116.5a2.8 2.8 0 1 0 5.5 0a2.8 2.8 0 1 0-5.5 0M165.7 115.4a2.8 2.8 0 1 0 5.6 0a2.8 2.8 0 1 0-5.6 0M170.5 115.9a2.7 2.7 0 1 0 5.4 0a2.7 2.7 0 1 0-5.4 0M176.5 115.3a2.7 2.7 0 1 0 5.3 0a2.7 2.7 0 1 0-5.3 0M181.6 116.4a2.5 2.5 0 1 0 5.0 0a2.5 2.5 0 1 0-5.0 0M185.7 116.5a2.5 2.5 0 1 0 5.1 0a2.5 2.5 0 1 0-5.1 0M192.0 116.7a2.5 2.5 0 1 0 5.0 0a2.5 2.5 0 1 0-5.0 0M197.6 116.8a2.8 2.8 0 1 0 5.6 0a2.8 2.8 0 1 0-5.6 0M202.7 115.3a2.5 2.5 0 1 0 5.1 0a2.5 2.5 0 1 0-5.1 0M207.2 115.3a2.5 2.5 0 1 0 4.9 0a2.5 2.5 0 1 0-4.9 0M30.5 120.5a2.3 2.3 0 1 0 4.6 0a2.3 2.3 0 1 0-4.6 0M35.6 120.7a2.5 2.5 0 1 0 5.0 0a2.5 2.5 0 1 0-5.0 0M39.9 120.2a2.5 2.5 0 1 0 4.9 0a2.5 2.5 0 1 0-4.9 0M46.3 119.9a2.7 2.7 0 1 0 5.3 0a2.7 2.7 0 1 0-5.3 0M51.4 119.9a2.6 2.6 0 1 0 5.2 0a2.6 2.6 0 1 0-5.2 0M56.3 119.8a2.7 2.7 0 1 0 5.5 0a2.7 2.7 0 1 0-5.5 0M61.3 119.9a2.6 2.6 0 1 0 5.2 0a2.6 2.6 0 1 0-5.2 0M67.5 120.8a2.7 2.7 0 1 0 5.4 0a2.7 2.7 0 1 0-5.4 0M73.3 120.9a2.5 2.5 0 1 0 4.9 0a2.5 2.5 0 1 0-4.9 0M77.8 120.9a2.8 2.8 0 1 0 5.5 0a2.8 2.8 0 1 0-5.5 0M82.7 121.4a2.7 2.7 0 1 0 5.4 0a2.7 2.7 0 1 0-5.4 0M87.9 121.1a2.6 2.6 0 1 0 5.3 0a2.6 2.6 0 1 0-5.3 0M99.1 121.0a2.6 2.6 0 1 0 5.2 0a2.6 2.6 0 1 0-5.2 0M104.0 121.0a2.4 2.4 0 1 0 4.7 0a2.4 2.4 0 1 0-4.7 0M110.3 121.2a2.7 2.7 0 1 0 5.3 0a2.7 2.7 0 1 0-5.3 0M115.1 119.8a2.4 2.4 0 1 0 4.7 0a2.4 2.4 0 1 0-4.7 0M126.5 121.4a2.4 2.4 0 1 0 4.8 0a2.4 2.4 0 1 0-4.8 0M129.6 120.0a2.8 2.8 0 1 0 5.6 0a2.8 2.8 0 1 0-5.6 0M136.5 120.3a2.8 2.8 0 1 0 5.5 0a2.8 2.8 0 1 0-5.5 0M142.1 121.1a2.7 2.7 0 1 0 5.3 0a2.7 2.7 0 1 0-5.3 0M146.6 119.8a2.7 2.7 0 1 0 5.5 0a2.7 2.7 0 1 0-5.5 0M152.1 121.4a2.4 2.4 0 1 0 4.8 0a2.4 2.4 0 1 0-4.8 0M157.9 119.8a2.5 2.5 0 1 0 5.0 0a2.5 2.5 0 1 0-5.0 0M161.8 120.3a2.4 2.4 0 1 0 4.8 0a2.4 2.4 0 1 0-4.8 0M168.6 120.0a2.5 2.5 0 1 0 5.0 0a2.5 2.5 0 1 0-5.0 0M173.6 121.5a2.6 2.6 0 1 0 5.1 0a2.6 2.6 0 1 0-5.1 0M178.8 120.7a2.7 2.7 0 1 0 5.5 0a2.7 2.7 0 1 0-5.5 0M183.0 119.8a2.7 2.7 0 1 0 5.4 0a2.7 2.7 0 1 0-5.4 0M188.4 120.0a2.6 2.6 0 1 0 5.2 0a2.6 2.6 0 1 0-5.2 0M194.8 121.5a2.7 2.7 0 1 0 5.3 0a2.7 2.7 0 1 0-5.3 0M199.6 120.2a2.5 2.5 0 1 0 4.9 0a2.5 2.5 0 1 0-4.9 0M204.0 121.4a2.7 2.7 0 1 0 5.3 0a2.7 2.7 0 1 0-5.3 0M210.1 120.8a2.3 2.3 0 1 0 4.7 0a2.3 2.3 0 1 0-4.7 0M32.9 125.8a2.4 2.4 0 1 0 4.8 0a2.4 2.4 0 1 0-4.8 0M37.0 125.1a2.7 2.7 0 1 0 5.4 0a2.7 2.7 0 1 0-5.4 0M42.7 125.7a2.7 2.7 0 1 0 5.4 0a2.7 2.7 0 1 0-5.4 0M47.8 125.2a2.5 2.5 0 1 0 5.1 0a2.5 2.5 0 1 0-5.1 0M54.1 125.1a2.7 2.7 0 1 0 5.4 0a2.7 2.7 0 1 0-5.4 0M58.4 124.6a2.8 2.8 0 1 0 5.6 0a2.8 2.8 0 1 0-5.6 0M64.9 125.0a2.6 2.6 0 1 0 5.1 0a2.6 2.6 0 1 0-5.1 0M69.7 125.5a2.6 2.6 0 1 0 5.2 0a2.6 2.6 0 1 0-5.2 0M75.5 125.8a2.5 2.5 0 1 0 5.0 0a2.5 2.5 0 1 0-5.0 0M80.1 126.1a2.7 2.7 0 1 0 5.5 0a2.7 2.7 0 1 0-5.5 0M85.1 125.0a2.5 2.5 0 1 0 5.0 0a2.5 2.5 0 1 0-5.0 0M91.1 126.1a2.4 2.4 0 1 0 4.8 0a2.4 2.4 0 1 0-4.8 0M96.0 125.3a2.6 2.6 0 1 0 5.3 0a2.6 2.6 0 1 0-5.3 0M100.7 125.3a2.6 2.6 0 1 0 5.2 0a2.6 2.6 0 1 0-5.2 0M107.3 126.1a2.6 2.6 0 1 0 5.2 0a2.6 2.6 0 1 0-5.2 0M111.6 125.7a2.5 2.5 0 1 0 5.0 0a2.5 2.5 0 1 0-5.0 0M116.8 125.9a2.8 2.8 0 1 0 5.6 0a2.8 2.8 0 1 0-5.6 0M122.7 125.5a2.8 2.8 0 1 0 5.5 0a2.8 2.8 0 1 0-5.5 0M128.3 124.9a2.4 2.4 0 1 0 4.8 0a2.4 2.4 0 1 0-4.8 0M134.0 125.8a2.6 2.6 0 1 0 5.1 0a2.6 2.6 0 1 0-5.1 0M144.6 125.4a2.5 2.5 0 1 0 5.0 0a2.5 2.5 0 1 0-5.0 0M149.8 124.7a2.6 2.6 0 1 0 5.3 0a2.6 2.6 0 1 0-5.3 0M154.7 125.3a2.8 2.8 0 1 0 5.5 0a2.8 2.8 0 1 0-5.5 0M159.8 125.1a2.6 2.6 0 1 0 5.3 0a2.6 2.6 0 1 0-5.3 0M165.6 124.7a2.4 2.4 0 1 0 4.9 0a2.4 2.4 0 1 0-4.9 0M170.8 125.5a2.5 2.5 0 1 0 5.0 0a2.5 2.5 0 1 0-5.0 0M176.5 126.0a2.3 2.3 0 1 0 4.7 0a2.3 2.3 0 1 0-4.7 0M180.7 124.6a2.5 2.5 0 1 0 4.9 0a2.5 2.5 0 1 0-4.9 0M186.3 125.3a2.7 2.7 0 1 0 5.4 0a2.7 2.7 0 1 0-5.4 0M192.0 125.9a2.6 2.6 0 1 0 5.2 0a2.6 2.6 0 1 0-5.2 0M201.7 125.3a2.8 2.8 0 1 0 5.6 0a2.8 2.8 0 1 0-5.6 0M207.1 125.0a2.8 2.8 0 1 0 5.5 0a2.8 2.8 0 1 0-5.5 0M31.1 129.2a2.3 2.3 0 1 0 4.7 0a2.3 2.3 0 1 0-4.7 0M35.4 130.5a2.4 2.4 0 1 0 4.8 0a2.4 2.4 0 1 0-4.8 0M40.5 129.1a2.5 2.5 0 1 0 5.0 0a2.5 2.5 0 1 0-5.0 0M45.8 129.5a2.5 2.5 0 1 0 5.1 0a2.5 2.5 0 1 0-5.1 0M51.5 130.3a2.4 2.4 0 1 0 4.8 0a2.4 2.4 0 1 0-4.8 0M55.9 129.5a2.5 2.5 0 1 0 5.0 0a2.5 2.5 0 1 0-5.0 0M62.0 130.1a2.5 2.5 0 1 0 5.0 0a2.5 2.5 0 1 0-5.0 0M67.8 130.7a2.5 2.5 0 1 0 5.1 0a2.5 2.5 0 1 0-5.1 0M72.0 130.7a2.7 2.7 0 1 0 5.5 0a2.7 2.7 0 1 0-5.5 0M78.2 129.9a2.7 2.7 0 1 0 5.4 0a2.7 2.7 0 1 0-5.4 0M82.2 130.6a2.7 2.7 0 1 0 5.5 0a2.7 2.7 0 1 0-5.5 0M88.4 129.5a2.5 2.5 0 1 0 5.0 0a2.5 2.5 0 1 0-5.0 0M93.6 130.4a2.4 2.4 0 1 0 4.9 0a2.4 2.4 0 1 0-4.9 0M98.6 129.9a2.8 2.8 0 1 0 5.6 0a2.8 2.8 0 1 0-5.6 0M103.3 130.1a2.6 2.6 0 1 0 5.2 0a2.6 2.6 0 1 0-5.2 0M109.6 130.8a2.3 2.3 0 1 0 4.6 0a2.3 2.3 0 1 0-4.6 0M115.4 129.6a2.4 2.4 0 1 0 4.8 0a2.4 2.4 0 1 0-4.8 0M120.6 129.5a2.6 2.6 0 1 0 5.2 0a2.6 2.6 0 1 0-5.2 0M125.4 129.4a2.8 2.8 0 1 0 5.5 0a2.8 2.8 0 1 0-5.5 0M130.5 130.4a2.4 2.4 0 1 0 4.7 0a2.4 2.4 0 1 0-4.7 0M136.7 129.1a2.6 2.6 0 1 0 5.2 0a2.6 2.6 0 1 0-5.2 0M141.4 129.9a2.6 2.6 0 1 0 5.2 0a2.6 2.6 0 1 0-5.2 0M146.6 130.3a2.7 2.7 0 1 0 5.5 0a2.7 2.7 0 1 0-5.5 0M151.7 129.5a2.8 2.8 0 1 0 5.6 0a2.8 2.8 0 1 0-5.6 0M156.9 130.1a2.8 2.8 0 1 0 5.5 0a2.8 2.8 0 1 0-5.5 0M163.3 130.0a2.5 2.5 0 1 0 5.0 0a2.5 2.5 0 1 0-5.0 0M168.0 129.9a2.5 2.5 0 1 0 5.1 0a2.5 2.5 0 1 0-5.1 0M172.3 129.6a2.6 2.6 0 1 0 5.3 0a2.6 2.6 0 1 0-5.3 0M177.9 130.0a2.7 2.7 0 1 0 5.3 0a2.7 2.7 0 1 0-5.3 0M183.1 130.6a2.4 2.4 0 1 0 4.9 0a2.4 2.4 0 1 0-4.9 0M188.5 130.0a2.7 2.7 0 1 0 5.4 0a2.7 2.7 0 1 0-5.4 0M194.8 129.9a2.8 2.8 0 1 0 5.5 0a2.8 2.8 0 1 0-5.5 0M199.7 129.9a2.6 2.6 0 1 0 5.2 0a2.6 2.6 0 1 0-5.2 0M204.6 129.0a2.7 2.7 0 1 0 5.4 0a2.7 2.7 0 1 0-5.4 0M211.2 130.3a2.5 2.5 0 1 0 4.9 0a2.5 2.5 0 1 0-4.9 0M32.2 135.2a2.4 2.4 0 1 0 4.7 0a2.4 2.4 0 1 0-4.7 0M37.0 134.6a2.7 2.7 0 1 0 5.5 0a2.7 2.7 0 1 0-5.5 0M42.2 134.3a2.8 2.8 0 1 0 5.5 0a2.8 2.8 0 1 0-5.5 0M49.1 133.6a2.4 2.4 0 1 0 4.9 0a2.4 2.4 0 1 0-4.9 0M54.5 134.6a2.4 2.4 0 1 0 4.8 0a2.4 2.4 0 1 0-4.8 0M58.6 134.3a2.5 2.5 0 1 0 5.0 0a2.5 2.5 0 1 0-5.0 0M64.9 134.3a2.7 2.7 0 1 0 5.4 0a2.7 2.7 0 1 0-5.4 0M69.1 135.2a2.6 2.6 0 1 0 5.2 0a2.6 2.6 0 1 0-5.2 0M75.4 133.8a2.5 2.5 0 1 0 5.1 0a2.5 2.5 0 1 0-5.1 0M79.8 133.9a2.6 2.6 0 1 0 5.2 0a2.6 2.6 0 1 0-5.2 0M86.2 134.3a2.5 2.5 0 1 0 4.9 0a2.5 2.5 0 1 0-4.9 0M90.9 135.0a2.5 2.5 0 1 0 5.0 0a2.5 2.5 0 1 0-5.0 0M95.2 134.4a2.7 2.7 0 1 0 5.5 0a2.7 2.7 0 1 0-5.5 0M102.1 134.2a2.6 2.6 0 1 0 5.2 0a2.6 2.6 0 1 0-5.2 0M111.7 135.0a2.6 2.6 0 1 0 5.1 0a2.6 2.6 0 1 0-5.1 0M117.1 134.4a2.5 2.5 0 1 0 5.1 0a2.5 2.5 0 1 0-5.1 0M122.8 134.2a2.6 2.6 0 1 0 5.3 0a2.6 2.6 0 1 0-5.3 0M128.7 134.9a2.5 2.5 0 1 0 5.1 0a2.5 2.5 0 1 0-5.1 0M132.6 134.8a2.5 2.5 0 1 0 5.0 0a2.5 2.5 0 1 0-5.0 0M139.1 134.5a2.5 2.5 0 1 0 5.1 0a2.5 2.5 0 1 0-5.1 0M143.6 134.4a2.3 2.3 0 1 0 4.6 0a2.3 2.3 0 1 0-4.6 0M149.0 134.3a2.6 2.6 0 1 0 5.2 0a2.6 2.6 0 1 0-5.2 0M155.2 135.4a2.6 2.6 0 1 0 5.3 0a2.6 2.6 0 1 0-5.3 0M160.5 133.9a2.7 2.7 0 1 0 5.4 0a2.7 2.7 0 1 0-5.4 0M166.2 134.7a2.3 2.3 0 1 0 4.7 0a2.3 2.3 0 1 0-4.7 0M170.5 133.7a2.7 2.7 0 1 0 5.4 0a2.7 2.7 0 1 0-5.4 0M176.7 135.2a2.5 2.5 0 1 0 4.9 0a2.5 2.5 0 1 0-4.9 0M182.1 135.1a2.4 2.4 0 1 0 4.7 0a2.4 2.4 0 1 0-4.7 0M186.0 134.9a2.3 2.3 0 1 0 4.6 0a2.3 2.3 0 1 0-4.6 0M191.4 134.8a2.3 2.3 0 1 0 4.6 0a2.3 2.3 0 1 0-4.6 0M197.6 135.3a2.4 2.4 0 1 0 4.8 0a2.4 2.4 0 1 0-4.8 0M202.9 133.6a2.4 2.4 0 1 0 4.7 0a2.4 2.4 0 1 0-4.7 0M208.1 134.9a2.8 2.8 0 1 0 5.6 0a2.8 2.8 0 1 0-5.6 0M30.4 139.5a2.7 2.7 0 1 0 5.3 0a2.7 2.7 0 1 0-5.3 0M35.9 139.2a2.5 2.5 0 1 0 5.1 0a2.5 2.5 0 1 0-5.1 0M40.5 139.9a2.6 2.6 0 1 0 5.1 0a2.6 2.6 0 1 0-5.1 0M46.2 139.7a2.4 2.4 0 1 0 4.8 0a2.4 2.4 0 1 0-4.8 0M51.1 138.9a2.8 2.8 0 1 0 5.5 0a2.8 2.8 0 1 0-5.5 0M57.0 139.2a2.5 2.5 0 1 0 4.9 0a2.5 2.5 0 1 0-4.9 0M61.8 139.0a2.4 2.4 0 1 0 4.7 0a2.4 2.4 0 1 0-4.7 0M67.3 138.6a2.5 2.5 0 1 0 5.0 0a2.5 2.5 0 1 0-5.0 0M71.8 139.5a2.6 2.6 0 1 0 5.2 0a2.6 2.6 0 1 0-5.2 0M78.2 139.2a2.6 2.6 0 1 0 5.3 0a2.6 2.6 0 1 0-5.3 0M83.5 139.4a2.7 2.7 0 1 0 5.4 0a2.7 2.7 0 1 0-5.4 0M87.9 138.6a2.7 2.7 0 1 0 5.3 0a2.7 2.7 0 1 0-5.3 0M93.9 138.3a2.3 2.3 0 1 0 4.7 0a2.3 2.3 0 1 0-4.7 0M98.3 139.7a2.5 2.5 0 1 0 5.1 0a2.5 2.5 0 1 0-5.1 0M103.7 139.1a2.5 2.5 0 1 0 5.1 0a2.5 2.5 0 1 0-5.1 0M109.7 138.8a2.6 2.6 0 1 0 5.1 0a2.6 2.6 0 1 0-5.1 0M114.9 139.5a2.8 2.8 0 1 0 5.6 0a2.8 2.8 0 1 0-5.6 0M120.9 139.4a2.4 2.4 0 1 0 4.8 0a2.4 2.4 0 1 0-4.8 0M124.7 139.5a2.4 2.4 0 1 0 4.9 0a2.4 2.4 0 1 0-4.9 0M130.0 139.7a2.7 2.7 0 1 0 5.4 0a2.7 2.7 0 1 0-5.4 0M136.6 138.6a2.4 2.4 0 1 0 4.8 0a2.4 2.4 0 1 0-4.8 0M141.4 138.4a2.4 2.4 0 1 0 4.8 0a2.4 2.4 0 1 0-4.8 0M146.8 138.3a2.4 2.4 0 1 0 4.7 0a2.4 2.4 0 1 0-4.7 0M151.4 139.5a2.4 2.4 0 1 0 4.9 0a2.4 2.4 0 1 0-4.9 0M157.3 138.4a2.6 2.6 0 1 0 5.2 0a2.6 2.6 0 1 0-5.2 0M161.8 138.3a2.6 2.6 0 1 0 5.1 0a2.6 2.6 0 1 0-5.1 0M167.3 139.7a2.6 2.6 0 1 0 5.1 0a2.6 2.6 0 1 0-5.1 0M173.5 138.4a2.3 2.3 0 1 0 4.6 0a2.3 2.3 0 1 0-4.6 0M179.3 139.4a2.3 2.3 0 1 0 4.7 0a2.3 2.3 0 1 0-4.7 0M184.2 138.7a2.7 2.7 0 1 0 5.4 0a2.7 2.7 0 1 0-5.4 0M188.7 138.6a2.5 2.5 0 1 0 5.1 0a2.5 2.5 0 1 0-5.1 0M194.6 138.8a2.6 2.6 0 1 0 5.2 0a2.6 2.6 0 1 0-5.2 0M199.5 138.5a2.6 2.6 0 1 0 5.2 0a2.6 2.6 0 1 0-5.2 0M205.3 138.5a2.6 2.6 0 1 0 5.2 0a2.6 2.6 0 1 0-5.2 0M210.4 139.5a2.7 2.7 0 1 0 5.4 0a2.7 2.7 0 1 0-5.4 0M32.8 143.8a2.4 2.4 0 1 0 4.8 0a2.4 2.4 0 1 0-4.8 0M38.4 144.4a2.4 2.4 0 1 0 4.8 0a2.4 2.4 0 1 0-4.8 0M43.4 144.1a2.4 2.4 0 1 0 4.8 0a2.4 2.4 0 1 0-4.8 0M48.6 143.1a2.6 2.6 0 1 0 5.2 0a2.6 2.6 0 1 0-5.2 0M54.7 143.9a2.6 2.6 0 1 0 5.1 0a2.6 2.6 0 1 0-5.1 0M59.7 144.0a2.4 2.4 0 1 0 4.8 0a2.4 2.4 0 1 0-4.8 0M64.4 144.1a2.8 2.8 0 1 0 5.5 0a2.8 2.8 0 1 0-5.5 0M70.1 143.0a2.3 2.3 0 1 0 4.6 0a2.3 2.3 0 1 0-4.6 0M80.0 143.6a2.3 2.3 0 1 0 4.6 0a2.3 2.3 0 1 0-4.6 0M84.7 143.4a2.8 2.8 0 1 0 5.6 0a2.8 2.8 0 1 0-5.6 0M90.5 143.1a2.6 2.6 0 1 0 5.3 0a2.6 2.6 0 1 0-5.3 0M96.6 143.4a2.7 2.7 0 1 0 5.4 0a2.7 2.7 0 1 0-5.4 0M101.6 142.9a2.7 2.7 0 1 0 5.4 0a2.7 2.7 0 1 0-5.4 0M111.4 143.1a2.8 2.8 0 1 0 5.6 0a2.8 2.8 0 1 0-5.6 0M116.6 142.9a2.6 2.6 0 1 0 5.3 0a2.6 2.6 0 1 0-5.3 0M122.3 144.0a2.3 2.3 0 1 0 4.6 0a2.3 2.3 0 1 0-4.6 0M127.7 143.5a2.6 2.6 0 1 0 5.1 0a2.6 2.6 0 1 0-5.1 0M132.7 144.3a2.6 2.6 0 1 0 5.2 0a2.6 2.6 0 1 0-5.2 0M138.8 143.5a2.8 2.8 0 1 0 5.6 0a2.8 2.8 0 1 0-5.6 0M145.1 143.6a2.3 2.3 0 1 0 4.6 0a2.3 2.3 0 1 0-4.6 0M155.6 143.2a2.4 2.4 0 1 0 4.8 0a2.4 2.4 0 1 0-4.8 0M160.3 143.2a2.7 2.7 0 1 0 5.4 0a2.7 2.7 0 1 0-5.4 0M165.7 144.5a2.6 2.6 0 1 0 5.3 0a2.6 2.6 0 1 0-5.3 0M171.4 143.1a2.3 2.3 0 1 0 4.7 0a2.3 2.3 0 1 0-4.7 0M175.5 144.1a2.6 2.6 0 1 0 5.2 0a2.6 2.6 0 1 0-5.2 0M182.1 143.2a2.3 2.3 0 1 0 4.7 0a2.3 2.3 0 1 0-4.7 0M186.9 144.4a2.7 2.7 0 1 0 5.3 0a2.7 2.7 0 1 0-5.3 0M191.3 144.4a2.8 2.8 0 1 0 5.5 0a2.8 2.8 0 1 0-5.5 0M197.2 143.2a2.8 2.8 0 1 0 5.6 0a2.8 2.8 0 1 0-5.6 0M202.9 143.5a2.4 2.4 0 1 0 4.8 0a2.4 2.4 0 1 0-4.8 0M206.6 144.2a2.7 2.7 0 1 0 5.5 0a2.7 2.7 0 1 0-5.5 0M29.9 147.6a2.4 2.4 0 1 0 4.8 0a2.4 2.4 0 1 0-4.8 0M35.9 147.5a2.6 2.6 0 1 0 5.2 0a2.6 2.6 0 1 0-5.2 0M40.9 148.9a2.4 2.4 0 1 0 4.7 0a2.4 2.4 0 1 0-4.7 0M46.0 148.3a2.4 2.4 0 1 0 4.8 0a2.4 2.4 0 1 0-4.8 0M51.0 147.9a2.3 2.3 0 1 0 4.7 0a2.3 2.3 0 1 0-4.7 0M56.2 148.2a2.8 2.8 0 1 0 5.6 0a2.8 2.8 0 1 0-5.6 0M61.4 148.3a2.7 2.7 0 1 0 5.3 0a2.7 2.7 0 1 0-5.3 0M67.6 147.6a2.4 2.4 0 1 0 4.9 0a2.4 2.4 0 1 0-4.9 0M72.5 147.6a2.3 2.3 0 1 0 4.7 0a2.3 2.3 0 1 0-4.7 0M77.9 147.8a2.5 2.5 0 1 0 5.1 0a2.5 2.5 0 1 0-5.1 0M82.5 147.5a2.8 2.8 0 1 0 5.5 0a2.8 2.8 0 1 0-5.5 0M88.8 148.3a2.5 2.5 0 1 0 5.0 0a2.5 2.5 0 1 0-5.0 0M93.4 148.4a2.5 2.5 0 1 0 5.0 0a2.5 2.5 0 1 0-5.0 0M99.7 149.0a2.5 2.5 0 1 0 5.0 0a2.5 2.5 0 1 0-5.0 0M103.9 147.5a2.7 2.7 0 1 0 5.3 0a2.7 2.7 0 1 0-5.3 0M109.0 148.9a2.6 2.6 0 1 0 5.1 0a2.6 2.6 0 1 0-5.1 0M115.6 149.1a2.6 2.6 0 1 0 5.1 0a2.6 2.6 0 1 0-5.1 0M119.9 148.1a2.6 2.6 0 1 0 5.3 0a2.6 2.6 0 1 0-5.3 0M125.9 148.4a2.3 2.3 0 1 0 4.6 0a2.3 2.3 0 1 0-4.6 0M131.1 147.8a2.8 2.8 0 1 0 5.6 0a2.8 2.8 0 1 0-5.6 0M135.3 147.8a2.7 2.7 0 1 0 5.5 0a2.7 2.7 0 1 0-5.5 0M146.7 148.8a2.5 2.5 0 1 0 4.9 0a2.5 2.5 0 1 0-4.9 0M151.5 148.6a2.8 2.8 0 1 0 5.5 0a2.8 2.8 0 1 0-5.5 0M156.8 147.8a2.7 2.7 0 1 0 5.5 0a2.7 2.7 0 1 0-5.5 0M161.9 147.9a2.5 2.5 0 1 0 5.1 0a2.5 2.5 0 1 0-5.1 0M167.2 147.8a2.8 2.8 0 1 0 5.5 0a2.8 2.8 0 1 0-5.5 0M172.5 147.6a2.4 2.4 0 1 0 4.8 0a2.4 2.4 0 1 0-4.8 0M178.4 148.6a2.8 2.8 0 1 0 5.5 0a2.8 2.8 0 1 0-5.5 0M183.2 148.8a2.4 2.4 0 1 0 4.7 0a2.4 2.4 0 1 0-4.7 0M188.6 148.9a2.6 2.6 0 1 0 5.1 0a2.6 2.6 0 1 0-5.1 0M193.6 148.3a2.5 2.5 0 1 0 5.1 0a2.5 2.5 0 1 0-5.1 0M199.0 148.0a2.6 2.6 0 1 0 5.3 0a2.6 2.6 0 1 0-5.3 0M205.7 147.5a2.6 2.6 0 1 0 5.2 0a2.6 2.6 0 1 0-5.2 0M210.2 148.6a2.4 2.4 0 1 0 4.8 0a2.4 2.4 0 1 0-4.8 0M33.5 153.0a2.6 2.6 0 1 0 5.2 0a2.6 2.6 0 1 0-5.2 0M37.3 152.8a2.4 2.4 0 1 0 4.8 0a2.4 2.4 0 1 0-4.8 0M43.3 152.6a2.6 2.6 0 1 0 5.2 0a2.6 2.6 0 1 0-5.2 0M49.5 153.4a2.4 2.4 0 1 0 4.8 0a2.4 2.4 0 1 0-4.8 0M54.9 153.5a2.4 2.4 0 1 0 4.9 0a2.4 2.4 0 1 0-4.9 0M59.4 153.2a2.7 2.7 0 1 0 5.3 0a2.7 2.7 0 1 0-5.3 0M65.0 152.3a2.6 2.6 0 1 0 5.2 0a2.6 2.6 0 1 0-5.2 0M68.9 153.4a2.7 2.7 0 1 0 5.5 0a2.7 2.7 0 1 0-5.5 0M75.4 153.1a2.5 2.5 0 1 0 5.0 0a2.5 2.5 0 1 0-5.0 0M80.1 153.5a2.5 2.5 0 1 0 5.0 0a2.5 2.5 0 1 0-5.0 0M86.0 153.5a2.7 2.7 0 1 0 5.3 0a2.7 2.7 0 1 0-5.3 0M90.3 153.0a2.5 2.5 0 1 0 5.1 0a2.5 2.5 0 1 0-5.1 0M96.2 153.6a2.5 2.5 0 1 0 5.1 0a2.5 2.5 0 1 0-5.1 0M100.8 152.3a2.7 2.7 0 1 0 5.3 0a2.7 2.7 0 1 0-5.3 0M128.5 152.5a2.5 2.5 0 1 0 4.9 0a2.5 2.5 0 1 0-4.9 0M133.3 152.2a2.5 2.5 0 1 0 4.9 0a2.5 2.5 0 1 0-4.9 0M138.7 152.8a2.8 2.8 0 1 0 5.6 0a2.8 2.8 0 1 0-5.6 0M143.0 153.7a2.7 2.7 0 1 0 5.4 0a2.7 2.7 0 1 0-5.4 0M148.6 152.6a2.7 2.7 0 1 0 5.4 0a2.7 2.7 0 1 0-5.4 0M159.7 152.8a2.8 2.8 0 1 0 5.6 0a2.8 2.8 0 1 0-5.6 0M164.5 152.4a2.4 2.4 0 1 0 4.8 0a2.4 2.4 0 1 0-4.8 0M169.6 152.6a2.6 2.6 0 1 0 5.3 0a2.6 2.6 0 1 0-5.3 0M176.1 152.7a2.4 2.4 0 1 0 4.8 0a2.4 2.4 0 1 0-4.8 0M181.2 152.9a2.4 2.4 0 1 0 4.8 0a2.4 2.4 0 1 0-4.8 0M185.9 152.7a2.7 2.7 0 1 0 5.3 0a2.7 2.7 0 1 0-5.3 0M192.0 153.7a2.6 2.6 0 1 0 5.3 0a2.6 2.6 0 1 0-5.3 0M197.1 152.1a2.6 2.6 0 1 0 5.1 0a2.6 2.6 0 1 0-5.1 0M201.9 152.9a2.8 2.8 0 1 0 5.5 0a2.8 2.8 0 1 0-5.5 0M207.3 152.8a2.7 2.7 0 1 0 5.5 0a2.7 2.7 0 1 0-5.5 0M30.3 157.0a2.4 2.4 0 1 0 4.9 0a2.4 2.4 0 1 0-4.9 0M34.3 157.0a2.7 2.7 0 1 0 5.4 0a2.7 2.7 0 1 0-5.4 0M40.2 156.8a2.7 2.7 0 1 0 5.3 0a2.7 2.7 0 1 0-5.3 0M46.2 157.7a2.7 2.7 0 1 0 5.4 0a2.7 2.7 0 1 0-5.4 0M57.6 158.1a2.4 2.4 0 1 0 4.8 0a2.4 2.4 0 1 0-4.8 0M62.3 157.0a2.7 2.7 0 1 0 5.4 0a2.7 2.7 0 1 0-5.4 0M67.7 156.8a2.7 2.7 0 1 0 5.4 0a2.7 2.7 0 1 0-5.4 0M72.9 157.4a2.6 2.6 0 1 0 5.3 0a2.6 2.6 0 1 0-5.3 0M78.1 157.3a2.4 2.4 0 1 0 4.8 0a2.4 2.4 0 1 0-4.8 0M83.4 157.1a2.6 2.6 0 1 0 5.2 0a2.6 2.6 0 1 0-5.2 0M88.4 157.4a2.6 2.6 0 1 0 5.1 0a2.6 2.6 0 1 0-5.1 0M94.5 158.4a2.4 2.4 0 1 0 4.8 0a2.4 2.4 0 1 0-4.8 0M103.4 156.7a2.6 2.6 0 1 0 5.3 0a2.6 2.6 0 1 0-5.3 0M110.0 157.2a2.3 2.3 0 1 0 4.7 0a2.3 2.3 0 1 0-4.7 0M121.2 158.2a2.3 2.3 0 1 0 4.6 0a2.3 2.3 0 1 0-4.6 0M126.3 156.7a2.3 2.3 0 1 0 4.7 0a2.3 2.3 0 1 0-4.7 0M129.8 157.5a2.8 2.8 0 1 0 5.6 0a2.8 2.8 0 1 0-5.6 0M136.5 157.2a2.6 2.6 0 1 0 5.1 0a2.6 2.6 0 1 0-5.1 0M140.9 158.0a2.8 2.8 0 1 0 5.6 0a2.8 2.8 0 1 0-5.6 0M147.2 156.9a2.5 2.5 0 1 0 5.1 0a2.5 2.5 0 1 0-5.1 0M152.5 157.0a2.7 2.7 0 1 0 5.5 0a2.7 2.7 0 1 0-5.5 0M157.0 157.7a2.5 2.5 0 1 0 5.0 0a2.5 2.5 0 1 0-5.0 0M162.1 157.5a2.8 2.8 0 1 0 5.6 0a2.8 2.8 0 1 0-5.6 0M167.0 158.0a2.5 2.5 0 1 0 5.1 0a2.5 2.5 0 1 0-5.1 0M173.5 157.3a2.5 2.5 0 1 0 5.0 0a2.5 2.5 0 1 0-5.0 0M178.5 157.6a2.7 2.7 0 1 0 5.4 0a2.7 2.7 0 1 0-5.4 0M183.8 157.6a2.3 2.3 0 1 0 4.7 0a2.3 2.3 0 1 0-4.7 0M188.4 157.3a2.5 2.5 0 1 0 4.9 0a2.5 2.5 0 1 0-4.9 0M193.4 156.9a2.6 2.6 0 1 0 5.2 0a2.6 2.6 0 1 0-5.2 0M200.1 158.1a2.8 2.8 0 1 0 5.6 0a2.8 2.8 0 1 0-5.6 0M33.3 161.3a2.4 2.4 0 1 0 4.8 0a2.4 2.4 0 1 0-4.8 0M37.8 161.3a2.5 2.5 0 1 0 4.9 0a2.5 2.5 0 1 0-4.9 0M42.6 162.9a2.5 2.5 0 1 0 5.0 0a2.5 2.5 0 1 0-5.0 0M47.6 161.9a2.8 2.8 0 1 0 5.5 0a2.8 2.8 0 1 0-5.5 0M53.9 161.4a2.7 2.7 0 1 0 5.4 0a2.7 2.7 0 1 0-5.4 0M59.3 161.8a2.4 2.4 0 1 0 4.9 0a2.4 2.4 0 1 0-4.9 0M63.9 161.3a2.7 2.7 0 1 0 5.4 0a2.7 2.7 0 1 0-5.4 0M69.2 161.6a2.7 2.7 0 1 0 5.4 0a2.7 2.7 0 1 0-5.4 0M74.8 162.4a2.8 2.8 0 1 0 5.5 0a2.8 2.8 0 1 0-5.5 0M80.8 161.9a2.7 2.7 0 1 0 5.3 0a2.7 2.7 0 1 0-5.3 0M86.3 161.8a2.5 2.5 0 1 0 4.9 0a2.5 2.5 0 1 0-4.9 0M90.6 162.0a2.3 2.3 0 1 0 4.6 0a2.3 2.3 0 1 0-4.6 0M96.6 162.5a2.6 2.6 0 1 0 5.2 0a2.6 2.6 0 1 0-5.2 0M107.1 162.6a2.3 2.3 0 1 0 4.6 0a2.3 2.3 0 1 0-4.6 0M112.9 162.4a2.8 2.8 0 1 0 5.5 0a2.8 2.8 0 1 0-5.5 0M118.3 162.8a2.5 2.5 0 1 0 5.1 0a2.5 2.5 0 1 0-5.1 0M122.2 163.0a2.5 2.5 0 1 0 5.0 0a2.5 2.5 0 1 0-5.0 0M127.1 162.8a2.7 2.7 0 1 0 5.5 0a2.7 2.7 0 1 0-5.5 0M133.9 162.6a2.6 2.6 0 1 0 5.2 0a2.6 2.6 0 1 0-5.2 0M138.1 162.1a2.6 2.6 0 1 0 5.3 0a2.6 2.6 0 1 0-5.3 0M143.4 162.4a2.4 2.4 0 1 0 4.8 0a2.4 2.4 0 1 0-4.8 0M148.8 161.3a2.7 2.7 0 1 0 5.4 0a2.7 2.7 0 1 0-5.4 0M154.0 162.7a2.4 2.4 0 1 0 4.7 0a2.4 2.4 0 1 0-4.7 0M160.1 162.3a2.3 2.3 0 1 0 4.6 0a2.3 2.3 0 1 0-4.6 0M165.0 162.6a2.6 2.6 0 1 0 5.2 0a2.6 2.6 0 1 0-5.2 0M169.8 161.6a2.8 2.8 0 1 0 5.6 0a2.8 2.8 0 1 0-5.6 0M175.4 162.4a2.5 2.5 0 1 0 5.0 0a2.5 2.5 0 1 0-5.0 0M181.2 161.4a2.3 2.3 0 1 0 4.7 0a2.3 2.3 0 1 0-4.7 0M186.0 161.7a2.5 2.5 0 1 0 5.0 0a2.5 2.5 0 1 0-5.0 0M191.6 161.9a2.4 2.4 0 1 0 4.8 0a2.4 2.4 0 1 0-4.8 0M197.7 162.8a2.7 2.7 0 1 0 5.4 0a2.7 2.7 0 1 0-5.4 0M202.7 162.3a2.6 2.6 0 1 0 5.3 0a2.6 2.6 0 1 0-5.3 0M206.8 161.9a2.7 2.7 0 1 0 5.5 0a2.7 2.7 0 1 0-5.5 0M30.7 166.3a2.6 2.6 0 1 0 5.1 0a2.6 2.6 0 1 0-5.1 0M35.9 166.6a2.7 2.7 0 1 0 5.5 0a2.7 2.7 0 1 0-5.5 0M41.4 167.6a2.6 2.6 0 1 0 5.2 0a2.6 2.6 0 1 0-5.2 0M45.4 166.5a2.7 2.7 0 1 0 5.5 0a2.7 2.7 0 1 0-5.5 0M51.4 166.9a2.6 2.6 0 1 0 5.1 0a2.6 2.6 0 1 0-5.1 0M62.0 166.8a2.6 2.6 0 1 0 5.2 0a2.6 2.6 0 1 0-5.2 0M67.0 166.3a2.5 2.5 0 1 0 5.0 0a2.5 2.5 0 1 0-5.0 0M71.9 167.4a2.4 2.4 0 1 0 4.8 0a2.4 2.4 0 1 0-4.8 0M77.7 166.5a2.4 2.4 0 1 0 4.8 0a2.4 2.4 0 1 0-4.8 0M83.2 166.7a2.3 2.3 0 1 0 4.7 0a2.3 2.3 0 1 0-4.7 0M88.1 167.4a2.5 2.5 0 1 0 5.0 0a2.5 2.5 0 1 0-5.0 0M98.4 166.4a2.6 2.6 0 1 0 5.2 0a2.6 2.6 0 1 0-5.2 0M104.2 167.3a2.5 2.5 0 1 0 5.0 0a2.5 2.5 0 1 0-5.0 0M110.3 166.3a2.5 2.5 0 1 0 5.1 0a2.5 2.5 0 1 0-5.1 0M114.4 167.4a2.5 2.5 0 1 0 5.1 0a2.5 2.5 0 1 0-5.1 0M120.6 166.6a2.7 2.7 0 1 0 5.4 0a2.7 2.7 0 1 0-5.4 0M125.6 166.4a2.5 2.5 0 1 0 4.9 0a2.5 2.5 0 1 0-4.9 0M131.5 167.3a2.4 2.4 0 1 0 4.7 0a2.4 2.4 0 1 0-4.7 0M137.0 166.7a2.3 2.3 0 1 0 4.7 0a2.3 2.3 0 1 0-4.7 0M140.6 167.5a2.5 2.5 0 1 0 4.9 0a2.5 2.5 0 1 0-4.9 0M151.8 167.4a2.6 2.6 0 1 0 5.2 0a2.6 2.6 0 1 0-5.2 0M156.2 166.9a2.8 2.8 0 1 0 5.6 0a2.8 2.8 0 1 0-5.6 0M162.4 166.2a2.8 2.8 0 1 0 5.6 0a2.8 2.8 0 1 0-5.6 0M167.7 167.5a2.7 2.7 0 1 0 5.4 0a2.7 2.7 0 1 0-5.4 0M172.6 166.5a2.5 2.5 0 1 0 5.1 0a2.5 2.5 0 1 0-5.1 0M178.8 167.4a2.4 2.4 0 1 0 4.9 0a2.4 2.4 0 1 0-4.9 0M183.1 166.4a2.7 2.7 0 1 0 5.3 0a2.7 2.7 0 1 0-5.3 0M188.1 167.7a2.7 2.7 0 1 0 5.4 0a2.7 2.7 0 1 0-5.4 0M194.2 167.1a2.5 2.5 0 1 0 4.9 0a2.5 2.5 0 1 0-4.9 0M199.2 167.7a2.4 2.4 0 1 0 4.8 0a2.4 2.4 0 1 0-4.8 0M205.2 166.8a2.6 2.6 0 1 0 5.2 0a2.6 2.6 0 1 0-5.2 0M209.6 166.4a2.4 2.4 0 1 0 4.8 0a2.4 2.4 0 1 0-4.8 0M33.8 170.8a2.3 2.3 0 1 0 4.6 0a2.3 2.3 0 1 0-4.6 0M38.4 170.8a2.6 2.6 0 1 0 5.1 0a2.6 2.6 0 1 0-5.1 0M49.4 171.3a2.6 2.6 0 1 0 5.2 0a2.6 2.6 0 1 0-5.2 0M64.1 172.3a2.6 2.6 0 1 0 5.3 0a2.6 2.6 0 1 0-5.3 0M69.2 172.2a2.6 2.6 0 1 0 5.2 0a2.6 2.6 0 1 0-5.2 0M74.6 171.7a2.7 2.7 0 1 0 5.4 0a2.7 2.7 0 1 0-5.4 0M80.2 171.3a2.7 2.7 0 1 0 5.4 0a2.7 2.7 0 1 0-5.4 0M85.9 170.9a2.4 2.4 0 1 0 4.8 0a2.4 2.4 0 1 0-4.8 0M90.3 170.9a2.5 2.5 0 1 0 4.9 0a2.5 2.5 0 1 0-4.9 0M95.8 171.0a2.5 2.5 0 1 0 4.9 0a2.5 2.5 0 1 0-4.9 0M107.2 171.1a2.4 2.4 0 1 0 4.9 0a2.4 2.4 0 1 0-4.9 0M112.5 170.6a2.8 2.8 0 1 0 5.5 0a2.8 2.8 0 1 0-5.5 0M117.2 170.8a2.5 2.5 0 1 0 4.9 0a2.5 2.5 0 1 0-4.9 0M122.5 170.9a2.8 2.8 0 1 0 5.5 0a2.8 2.8 0 1 0-5.5 0M127.8 171.1a2.5 2.5 0 1 0 4.9 0a2.5 2.5 0 1 0-4.9 0M133.2 171.5a2.5 2.5 0 1 0 4.9 0a2.5 2.5 0 1 0-4.9 0M138.7 170.8a2.4 2.4 0 1 0 4.8 0a2.4 2.4 0 1 0-4.8 0M144.6 170.8a2.7 2.7 0 1 0 5.4 0a2.7 2.7 0 1 0-5.4 0M149.1 172.2a2.7 2.7 0 1 0 5.5 0a2.7 2.7 0 1 0-5.5 0M154.8 171.8a2.7 2.7 0 1 0 5.4 0a2.7 2.7 0 1 0-5.4 0M160.6 170.8a2.3 2.3 0 1 0 4.6 0a2.3 2.3 0 1 0-4.6 0M165.6 170.9a2.5 2.5 0 1 0 4.9 0a2.5 2.5 0 1 0-4.9 0M171.4 171.7a2.6 2.6 0 1 0 5.1 0a2.6 2.6 0 1 0-5.1 0M176.6 172.0a2.6 2.6 0 1 0 5.2 0a2.6 2.6 0 1 0-5.2 0M181.8 170.5a2.7 2.7 0 1 0 5.3 0a2.7 2.7 0 1 0-5.3 0M185.9 171.1a2.4 2.4 0 1 0 4.8 0a2.4 2.4 0 1 0-4.8 0M191.5 170.8a2.4 2.4 0 1 0 4.7 0a2.4 2.4 0 1 0-4.7 0M196.5 171.2a2.4 2.4 0 1 0 4.9 0a2.4 2.4 0 1 0-4.9 0M202.0 170.7a2.8 2.8 0 1 0 5.6 0a2.8 2.8 0 1 0-5.6 0M206.7 170.8a2.7 2.7 0 1 0 5.5 0a2.7 2.7 0 1 0-5.5 0M30.7 175.9a2.5 2.5 0 1 0 5.0 0a2.5 2.5 0 1 0-5.0 0M35.4 176.6a2.4 2.4 0 1 0 4.9 0a2.4 2.4 0 1 0-4.9 0M39.8 175.8a2.6 2.6 0 1 0 5.2 0a2.6 2.6 0 1 0-5.2 0M45.3 175.7a2.8 2.8 0 1 0 5.6 0a2.8 2.8 0 1 0-5.6 0M52.1 176.2a2.5 2.5 0 1 0 5.0 0a2.5 2.5 0 1 0-5.0 0M56.1 175.4a2.7 2.7 0 1 0 5.4 0a2.7 2.7 0 1 0-5.4 0M62.6 176.2a2.6 2.6 0 1 0 5.2 0a2.6 2.6 0 1 0-5.2 0M67.0 175.7a2.5 2.5 0 1 0 5.0 0a2.5 2.5 0 1 0-5.0 0M71.9 176.6a2.4 2.4 0 1 0 4.8 0a2.4 2.4 0 1 0-4.8 0M77.1 175.7a2.8 2.8 0 1 0 5.5 0a2.8 2.8 0 1 0-5.5 0M82.7 176.6a2.8 2.8 0 1 0 5.5 0a2.8 2.8 0 1 0-5.5 0M88.9 176.4a2.4 2.4 0 1 0 4.8 0a2.4 2.4 0 1 0-4.8 0M94.3 175.5a2.4 2.4 0 1 0 4.8 0a2.4 2.4 0 1 0-4.8 0M97.9 176.2a2.8 2.8 0 1 0 5.5 0a2.8 2.8 0 1 0-5.5 0M105.0 176.5a2.5 2.5 0 1 0 5.1 0a2.5 2.5 0 1 0-5.1 0M109.9 176.0a2.4 2.4 0 1 0 4.8 0a2.4 2.4 0 1 0-4.8 0M114.5 176.7a2.3 2.3 0 1 0 4.6 0a2.3 2.3 0 1 0-4.6 0M119.8 176.7a2.8 2.8 0 1 0 5.5 0a2.8 2.8 0 1 0-5.5 0M125.0 175.9a2.6 2.6 0 1 0 5.2 0a2.6 2.6 0 1 0-5.2 0M130.2 176.2a2.5 2.5 0 1 0 4.9 0a2.5 2.5 0 1 0-4.9 0M141.8 176.2a2.6 2.6 0 1 0 5.2 0a2.6 2.6 0 1 0-5.2 0M146.6 175.6a2.4 2.4 0 1 0 4.8 0a2.4 2.4 0 1 0-4.8 0M152.3 176.4a2.8 2.8 0 1 0 5.5 0a2.8 2.8 0 1 0-5.5 0M156.7 175.3a2.4 2.4 0 1 0 4.8 0a2.4 2.4 0 1 0-4.8 0M163.4 175.4a2.4 2.4 0 1 0 4.7 0a2.4 2.4 0 1 0-4.7 0M167.6 176.1a2.5 2.5 0 1 0 5.0 0a2.5 2.5 0 1 0-5.0 0M172.9 176.4a2.6 2.6 0 1 0 5.2 0a2.6 2.6 0 1 0-5.2 0M178.5 176.7a2.6 2.6 0 1 0 5.2 0a2.6 2.6 0 1 0-5.2 0M183.8 176.3a2.4 2.4 0 1 0 4.9 0a2.4 2.4 0 1 0-4.9 0M188.2 175.9a2.6 2.6 0 1 0 5.2 0a2.6 2.6 0 1 0-5.2 0M194.6 176.3a2.8 2.8 0 1 0 5.6 0a2.8 2.8 0 1 0-5.6 0M200.3 176.4a2.7 2.7 0 1 0 5.4 0a2.7 2.7 0 1 0-5.4 0M205.4 176.5a2.4 2.4 0 1 0 4.8 0a2.4 2.4 0 1 0-4.8 0M210.5 176.1a2.7 2.7 0 1 0 5.3 0a2.7 2.7 0 1 0-5.3 0M33.3 180.6a2.4 2.4 0 1 0 4.8 0a2.4 2.4 0 1 0-4.8 0M38.6 180.2a2.5 2.5 0 1 0 5.0 0a2.5 2.5 0 1 0-5.0 0M42.8 180.4a2.7 2.7 0 1 0 5.3 0a2.7 2.7 0 1 0-5.3 0M49.0 180.9a2.4 2.4 0 1 0 4.9 0a2.4 2.4 0 1 0-4.9 0M53.0 181.0a2.6 2.6 0 1 0 5.3 0a2.6 2.6 0 1 0-5.3 0M59.1 180.8a2.8 2.8 0 1 0 5.5 0a2.8 2.8 0 1 0-5.5 0M64.8 180.6a2.5 2.5 0 1 0 5.1 0a2.5 2.5 0 1 0-5.1 0M69.3 180.1a2.6 2.6 0 1 0 5.2 0a2.6 2.6 0 1 0-5.2 0M74.7 180.5a2.4 2.4 0 1 0 4.8 0a2.4 2.4 0 1 0-4.8 0M79.5 180.6a2.7 2.7 0 1 0 5.5 0a2.7 2.7 0 1 0-5.5 0M85.7 179.9a2.3 2.3 0 1 0 4.7 0a2.3 2.3 0 1 0-4.7 0M91.0 180.2a2.7 2.7 0 1 0 5.3 0a2.7 2.7 0 1 0-5.3 0M97.0 181.4a2.4 2.4 0 1 0 4.7 0a2.4 2.4 0 1 0-4.7 0M100.9 181.1a2.5 2.5 0 1 0 5.1 0a2.5 2.5 0 1 0-5.1 0M107.2 180.7a2.7 2.7 0 1 0 5.4 0a2.7 2.7 0 1 0-5.4 0M112.0 180.2a2.5 2.5 0 1 0 5.0 0a2.5 2.5 0 1 0-5.0 0M117.3 180.1a2.6 2.6 0 1 0 5.2 0a2.6 2.6 0 1 0-5.2 0M122.8 181.0a2.3 2.3 0 1 0 4.7 0a2.3 2.3 0 1 0-4.7 0M128.7 180.9a2.4 2.4 0 1 0 4.8 0a2.4 2.4 0 1 0-4.8 0M133.1 180.6a2.8 2.8 0 1 0 5.5 0a2.8 2.8 0 1 0-5.5 0M139.3 180.4a2.7 2.7 0 1 0 5.4 0a2.7 2.7 0 1 0-5.4 0M143.5 179.7a2.7 2.7 0 1 0 5.5 0a2.7 2.7 0 1 0-5.5 0M149.7 180.3a2.8 2.8 0 1 0 5.5 0a2.8 2.8 0 1 0-5.5 0M160.7 180.8a2.6 2.6 0 1 0 5.2 0a2.6 2.6 0 1 0-5.2 0M165.9 181.1a2.6 2.6 0 1 0 5.2 0a2.6 2.6 0 1 0-5.2 0M170.7 179.9a2.5 2.5 0 1 0 5.0 0a2.5 2.5 0 1 0-5.0 0M175.0 180.7a2.7 2.7 0 1 0 5.3 0a2.7 2.7 0 1 0-5.3 0M181.6 181.4a2.5 2.5 0 1 0 5.1 0a2.5 2.5 0 1 0-5.1 0M186.2 180.6a2.5 2.5 0 1 0 5.1 0a2.5 2.5 0 1 0-5.1 0M191.7 179.9a2.4 2.4 0 1 0 4.8 0a2.4 2.4 0 1 0-4.8 0M197.0 179.7a2.7 2.7 0 1 0 5.4 0a2.7 2.7 0 1 0-5.4 0M203.1 181.1a2.5 2.5 0 1 0 5.1 0a2.5 2.5 0 1 0-5.1 0M208.0 181.1a2.7 2.7 0 1 0 5.4 0a2.7 2.7 0 1 0-5.4 0M29.2 185.3a2.5 2.5 0 1 0 5.1 0a2.5 2.5 0 1 0-5.1 0M35.2 184.8a2.5 2.5 0 1 0 5.0 0a2.5 2.5 0 1 0-5.0 0M41.6 185.7a2.4 2.4 0 1 0 4.8 0a2.4 2.4 0 1 0-4.8 0M45.7 185.4a2.4 2.4 0 1 0 4.9 0a2.4 2.4 0 1 0-4.9 0M51.9 185.8a2.5 2.5 0 1 0 5.1 0a2.5 2.5 0 1 0-5.1 0M56.9 184.5a2.4 2.4 0 1 0 4.7 0a2.4 2.4 0 1 0-4.7 0M62.4 185.5a2.5 2.5 0 1 0 5.0 0a2.5 2.5 0 1 0-5.0 0M66.8 185.6a2.4 2.4 0 1 0 4.7 0a2.4 2.4 0 1 0-4.7 0M71.8 185.5a2.7 2.7 0 1 0 5.4 0a2.7 2.7 0 1 0-5.4 0M77.0 185.7a2.7 2.7 0 1 0 5.4 0a2.7 2.7 0 1 0-5.4 0M82.4 185.6a2.5 2.5 0 1 0 5.0 0a2.5 2.5 0 1 0-5.0 0M88.2 185.0a2.4 2.4 0 1 0 4.9 0a2.4 2.4 0 1 0-4.9 0M93.5 185.8a2.6 2.6 0 1 0 5.2 0a2.6 2.6 0 1 0-5.2 0M99.9 185.0a2.4 2.4 0 1 0 4.8 0a2.4 2.4 0 1 0-4.8 0M103.8 184.8a2.3 2.3 0 1 0 4.7 0a2.3 2.3 0 1 0-4.7 0M115.5 184.7a2.6 2.6 0 1 0 5.2 0a2.6 2.6 0 1 0-5.2 0M119.8 184.4a2.6 2.6 0 1 0 5.2 0a2.6 2.6 0 1 0-5.2 0M126.1 186.0a2.5 2.5 0 1 0 5.0 0a2.5 2.5 0 1 0-5.0 0M130.9 184.8a2.4 2.4 0 1 0 4.7 0a2.4 2.4 0 1 0-4.7 0M135.8 184.7a2.4 2.4 0 1 0 4.7 0a2.4 2.4 0 1 0-4.7 0M141.0 185.0a2.7 2.7 0 1 0 5.3 0a2.7 2.7 0 1 0-5.3 0M147.4 185.1a2.6 2.6 0 1 0 5.1 0a2.6 2.6 0 1 0-5.1 0M151.9 185.9a2.7 2.7 0 1 0 5.4 0a2.7 2.7 0 1 0-5.4 0M157.4 184.8a2.4 2.4 0 1 0 4.8 0a2.4 2.4 0 1 0-4.8 0M163.0 185.2a2.5 2.5 0 1 0 5.0 0a2.5 2.5 0 1 0-5.0 0M168.2 185.0a2.8 2.8 0 1 0 5.5 0a2.8 2.8 0 1 0-5.5 0M172.5 185.9a2.7 2.7 0 1 0 5.4 0a2.7 2.7 0 1 0-5.4 0M178.2 184.3a2.6 2.6 0 1 0 5.2 0a2.6 2.6 0 1 0-5.2 0M183.8 184.7a2.6 2.6 0 1 0 5.1 0a2.6 2.6 0 1 0-5.1 0M188.2 185.6a2.7 2.7 0 1 0 5.4 0a2.7 2.7 0 1 0-5.4 0M195.0 184.6a2.5 2.5 0 1 0 5.1 0a2.5 2.5 0 1 0-5.1 0M199.5 184.5a2.5 2.5 0 1 0 5.0 0a2.5 2.5 0 1 0-5.0 0M205.3 184.5a2.6 2.6 0 1 0 5.2 0a2.6 2.6 0 1 0-5.2 0M209.6 184.4a2.7 2.7 0 1 0 5.5 0a2.7 2.7 0 1 0-5.5 0M33.0 189.7a2.5 2.5 0 1 0 5.1 0a2.5 2.5 0 1 0-5.1 0M37.3 189.4a2.5 2.5 0 1 0 5.0 0a2.5 2.5 0 1 0-5.0 0M42.6 190.6a2.7 2.7 0 1 0 5.4 0a2.7 2.7 0 1 0-5.4 0M49.2 189.2a2.7 2.7 0 1 0 5.4 0a2.7 2.7 0 1 0-5.4 0M54.4 189.4a2.6 2.6 0 1 0 5.1 0a2.6 2.6 0 1 0-5.1 0M60.0 190.5a2.6 2.6 0 1 0 5.2 0a2.6 2.6 0 1 0-5.2 0M65.3 190.4a2.4 2.4 0 1 0 4.8 0a2.4 2.4 0 1 0-4.8 0M70.2 189.5a2.7 2.7 0 1 0 5.5 0a2.7 2.7 0 1 0-5.5 0M75.1 190.0a2.7 2.7 0 1 0 5.5 0a2.7 2.7 0 1 0-5.5 0M80.2 189.8a2.8 2.8 0 1 0 5.5 0a2.8 2.8 0 1 0-5.5 0M86.4 189.6a2.6 2.6 0 1 0 5.1 0a2.6 2.6 0 1 0-5.1 0M90.7 190.4a2.6 2.6 0 1 0 5.3 0a2.6 2.6 0 1 0-5.3 0M96.8 189.4a2.3 2.3 0 1 0 4.7 0a2.3 2.3 0 1 0-4.7 0M101.3 189.3a2.7 2.7 0 1 0 5.4 0a2.7 2.7 0 1 0-5.4 0M107.7 189.1a2.6 2.6 0 1 0 5.2 0a2.6 2.6 0 1 0-5.2 0M111.1 189.6a2.8 2.8 0 1 0 5.5 0a2.8 2.8 0 1 0-5.5 0M118.1 190.0a2.4 2.4 0 1 0 4.7 0a2.4 2.4 0 1 0-4.7 0M122.8 189.7a2.3 2.3 0 1 0 4.7 0a2.3 2.3 0 1 0-4.7 0M127.4 189.8a2.7 2.7 0 1 0 5.3 0a2.7 2.7 0 1 0-5.3 0M132.8 189.6a2.6 2.6 0 1 0 5.3 0a2.6 2.6 0 1 0-5.3 0M138.6 190.5a2.4 2.4 0 1 0 4.9 0a2.4 2.4 0 1 0-4.9 0M144.5 190.5a2.4 2.4 0 1 0 4.7 0a2.4 2.4 0 1 0-4.7 0M148.5 190.5a2.7 2.7 0 1 0 5.5 0a2.7 2.7 0 1 0-5.5 0M154.2 189.1a2.6 2.6 0 1 0 5.1 0a2.6 2.6 0 1 0-5.1 0M165.5 190.0a2.5 2.5 0 1 0 5.0 0a2.5 2.5 0 1 0-5.0 0M169.9 189.6a2.4 2.4 0 1 0 4.8 0a2.4 2.4 0 1 0-4.8 0M176.7 189.5a2.5 2.5 0 1 0 5.0 0a2.5 2.5 0 1 0-5.0 0M180.2 190.7a2.7 2.7 0 1 0 5.3 0a2.7 2.7 0 1 0-5.3 0M186.0 190.3a2.3 2.3 0 1 0 4.6 0a2.3 2.3 0 1 0-4.6 0M191.9 189.0a2.7 2.7 0 1 0 5.4 0a2.7 2.7 0 1 0-5.4 0M195.9 189.5a2.7 2.7 0 1 0 5.5 0a2.7 2.7 0 1 0-5.5 0M202.6 189.1a2.7 2.7 0 1 0 5.4 0a2.7 2.7 0 1 0-5.4 0M207.2 190.2a2.4 2.4 0 1 0 4.8 0a2.4 2.4 0 1 0-4.8 0" fill="none" stroke="#a4a4a4" stroke-width="0.75"/>
<path d="M32.7 9.4h0M36.9 11.0h0M49.4 9.2h0M54.1 9.6h0M60.5 11.2h0M64.0 11.0h0M79.1 8.8h0M85.4 11.2h0M95.0 11.4h0M102.9 10.0h0M111.2 9.9h0M123.7 10.9h0M128.6 10.4h0M137.6 9.6h0M148.9 9.5h0M153.4 10.4h0M159.5 9.1h0M170.7 9.2h0M187.3 9.6h0M197.4 11.2h0M200.8 10.9h0M207.0 10.6h0M213.2 9.0h0M41.2 15.2h0M50.5 14.3h0M55.4 13.2h0M63.1 12.6h0M65.5 13.4h0M77.3 14.9h0M94.2 14.2h0M116.6 16.3h0M130.1 14.9h0M140.7 16.0h0M146.5 15.5h0M152.7 13.4h0M162.9 13.4h0M174.6 15.2h0M183.4 14.7h0M188.7 14.2h0M193.8 13.8h0M212.1 15.2h0M32.7 18.6h0M37.7 19.0h0M47.4 19.7h0M54.6 20.5h0M60.5 18.1h0M64.8 20.1h0M68.3 19.2h0M96.3 19.6h0M101.7 19.4h0M107.7 19.9h0M115.5 18.7h0M122.5 19.6h0M128.4 20.7h0M132.5 20.3h0M137.5 19.5h0M143.0 18.7h0M161.7 17.8h0M170.3 18.3h0M175.2 18.7h0M192.0 19.3h0M203.2 17.4h0M207.9 18.1h0M40.4 24.9h0M45.2 23.0h0M52.3 22.6h0M56.5 23.6h0M72.7 24.3h0M78.1 24.3h0M83.6 23.4h0M87.7 24.4h0M93.8 25.4h0M98.4 22.2h0M126.0 24.9h0M136.3 24.7h0M151.5 23.4h0M163.0 24.9h0M184.6 23.9h0M190.0 23.3h0M195.1 23.5h0M200.6 23.5h0M211.3 23.5h0M34.0 27.5h0M44.1 29.6h0M48.9 27.5h0M52.4 29.0h0M69.0 27.9h0M80.2 26.7h0M91.2 28.7h0M96.7 28.6h0M119.3 28.8h0M128.8 28.3h0M135.0 29.7h0M140.1 28.0h0M142.9 28.3h0M154.2 28.2h0M158.6 28.4h0M165.9 28.9h0M182.6 29.1h0M186.9 29.3h0M191.0 27.7h0M201.2 29.0h0M213.0 28.0h0M34.9 32.8h0M40.2 32.5h0M56.8 34.9h0M60.3 33.8h0M67.2 34.8h0M82.2 34.4h0M92.9 32.5h0M98.9 32.4h0M115.1 33.2h0M121.2 32.3h0M126.5 33.1h0M131.2 31.5h0M135.3 32.3h0M151.7 32.5h0M156.1 32.4h0M162.5 33.0h0M173.3 32.1h0M179.3 33.3h0M184.0 33.6h0M194.1 32.7h0M201.0 32.9h0M204.5 31.8h0M33.4 38.0h0M38.5 37.3h0M43.4 38.0h0M50.2 36.4h0M53.2 36.9h0M58.4 37.3h0M63.4 38.6h0M69.2 36.8h0M81.6 37.7h0M86.2 38.1h0M89.3 37.2h0M95.8 36.9h0M104.9 37.5h0M111.9 38.6h0M117.8 38.3h0M128.0 38.7h0M134.0 37.0h0M138.8 37.9h0M143.4 37.9h0M149.1 38.7h0M160.1 36.5h0M164.8 37.8h0M175.9 38.5h0M180.7 36.6h0M193.0 38.5h0M195.1 37.6h0M203.3 38.3h0M207.2 38.0h0M213.3 38.5h0M34.8 42.2h0M41.7 42.3h0M44.4 41.1h0M49.6 42.4h0M71.6 42.5h0M82.0 42.0h0M104.4 41.9h0M110.3 41.5h0M114.0 41.6h0M123.6 41.6h0M131.4 41.5h0M145.2 41.5h0M152.0 41.9h0M156.9 43.7h0M162.1 42.4h0M168.1 42.5h0M182.8 43.8h0M190.4 42.0h0M195.0 43.5h0M199.7 41.9h0M205.4 43.5h0M210.4 42.8h0M32.9 45.3h0M42.2 47.5h0M48.6 47.0h0M65.1 46.5h0M75.6 46.7h0M81.5 47.4h0M86.6 45.6h0M92.2 46.6h0M96.2 45.6h0M107.4 46.5h0M113.0 48.0h0M122.9 47.3h0M138.1 46.3h0M144.6 47.8h0M148.7 46.5h0M153.6 45.8h0M164.2 47.8h0M171.8 48.3h0M175.6 47.4h0M180.7 46.6h0M191.9 47.6h0M196.3 46.5h0M201.1 46.8h0M207.4 46.6h0M40.5 51.2h0M45.3 51.0h0M52.1 50.4h0M62.6 51.9h0M79.1 52.0h0M86.6 49.9h0M93.0 52.4h0M99.3 50.5h0M105.1 51.3h0M109.1 50.5h0M120.3 51.0h0M125.7 51.6h0M151.6 52.1h0M166.2 52.2h0M172.1 50.6h0M184.7 52.7h0M190.1 50.4h0M194.3 50.9h0M198.0 53.3h0M205.0 50.6h0M33.0 56.0h0M44.2 56.2h0M58.5 57.1h0M67.7 56.2h0M95.5 55.6h0M102.1 55.2h0M108.0 56.0h0M111.9 56.0h0M123.2 55.2h0M156.4 55.0h0M158.3 55.9h0M176.0 56.8h0M181.1 57.1h0M186.4 54.5h0M196.4 55.3h0M201.3 56.0h0M207.8 57.2h0M212.3 58.1h0M34.0 61.2h0M40.2 61.0h0M46.1 60.8h0M52.2 59.5h0M62.4 61.3h0M66.7 60.0h0M88.4 61.8h0M105.9 61.6h0M109.9 61.1h0M114.9 60.5h0M120.8 61.2h0M127.2 60.7h0M131.5 60.1h0M135.9 61.0h0M140.8 61.5h0M147.9 59.7h0M152.8 62.0h0M162.6 59.6h0M168.6 61.0h0M176.7 59.8h0M189.1 58.7h0M204.0 60.1h0M210.5 60.1h0M33.2 64.9h0M54.7 65.7h0M60.6 64.5h0M65.6 63.8h0M70.4 66.5h0M75.6 66.6h0M85.5 66.4h0M91.4 64.9h0M96.9 65.2h0M100.6 65.3h0M106.4 65.4h0M113.6 65.5h0M124.3 64.1h0M128.2 66.2h0M145.1 65.6h0M149.2 64.0h0M154.8 66.6h0M160.5 65.2h0M164.2 65.8h0M169.0 64.6h0M175.9 64.5h0M186.4 65.3h0M191.0 66.7h0M202.7 66.6h0M209.5 66.2h0M34.8 69.9h0M40.9 69.9h0M45.9 70.3h0M50.6 69.2h0M72.8 69.0h0M78.3 69.4h0M92.3 68.9h0M104.4 69.5h0M109.1 68.3h0M115.6 70.8h0M125.1 70.0h0M129.9 68.0h0M140.7 69.8h0M145.7 69.4h0M152.2 69.2h0M157.0 70.1h0M174.4 70.9h0M177.9 71.9h0M188.3 71.4h0M192.7 70.0h0M203.1 69.4h0M208.2 70.2h0M47.2 75.3h0M65.1 73.5h0M68.3 74.0h0M85.3 74.1h0M89.6 75.0h0M96.5 76.2h0M101.0 76.5h0M105.1 74.2h0M113.2 74.3h0M117.5 75.8h0M120.8 75.9h0M128.1 73.8h0M134.0 74.6h0M150.8 74.6h0M171.5 75.1h0M186.5 74.5h0M197.4 75.8h0M202.8 73.3h0M207.0 74.3h0M212.8 75.1h0M39.6 78.1h0M50.3 77.5h0M77.1 78.2h0M82.5 79.5h0M88.9 77.9h0M94.6 78.2h0M102.2 79.7h0M113.3 78.8h0M119.2 79.3h0M125.5 79.2h0M129.7 78.4h0M136.8 79.7h0M140.6 79.6h0M150.9 80.2h0M158.3 78.2h0M166.7 79.9h0M179.4 78.6h0M183.6 77.3h0M187.6 77.8h0M193.5 78.4h0M200.1 78.1h0M211.0 80.0h0M33.5 84.2h0M38.7 85.4h0M42.5 82.9h0M59.7 83.1h0M74.5 84.5h0M81.0 84.9h0M106.6 83.8h0M153.9 82.4h0M160.5 84.4h0M165.9 82.9h0M187.7 83.8h0M196.5 85.7h0M201.8 82.5h0M213.2 83.3h0M34.9 87.9h0M52.3 88.0h0M56.3 88.8h0M61.7 88.9h0M81.0 89.6h0M88.0 88.9h0M92.7 88.4h0M98.4 89.2h0M103.5 89.5h0M108.8 88.1h0M115.5 88.3h0M119.8 86.9h0M126.8 90.0h0M134.2 87.7h0M140.8 87.2h0M146.2 89.6h0M157.6 86.9h0M168.9 90.1h0M177.7 88.6h0M183.1 88.9h0M189.1 89.9h0M195.5 88.9h0M204.3 89.5h0M210.9 87.4h0M32.3 92.5h0M37.4 92.2h0M43.3 93.0h0M48.2 91.5h0M52.7 91.8h0M58.0 91.7h0M64.3 93.9h0M71.1 92.9h0M79.3 92.8h0M96.6 92.9h0M118.4 94.2h0M123.0 92.1h0M127.6 91.8h0M133.1 93.1h0M143.9 93.6h0M160.5 93.1h0M165.7 93.3h0M171.6 92.2h0M191.4 94.1h0M208.0 92.6h0M212.7 91.8h0M36.6 97.7h0M45.2 98.4h0M66.2 98.1h0M83.1 96.1h0M88.2 97.3h0M94.0 97.7h0M98.2 97.1h0M114.5 98.1h0M120.2 98.8h0M125.6 99.1h0M131.6 96.1h0M135.7 97.0h0M147.7 96.8h0M151.4 95.8h0M163.4 97.4h0M166.5 96.6h0M172.6 98.0h0M183.3 98.5h0M187.9 97.3h0M194.4 98.6h0M209.5 97.7h0M38.6 101.8h0M43.5 102.8h0M48.0 102.0h0M59.5 104.0h0M75.3 100.9h0M86.4 102.6h0M96.2 101.2h0M112.7 101.8h0M121.1 102.5h0M127.0 102.0h0M139.9 101.9h0M142.7 100.5h0M148.9 101.3h0M153.9 101.9h0M158.8 102.9h0M170.8 102.5h0M180.7 100.6h0M196.8 102.9h0M202.0 101.4h0M212.7 103.3h0M42.2 107.1h0M46.5 106.9h0M51.4 106.3h0M55.7 105.7h0M61.9 108.2h0M66.3 107.3h0M73.5 107.3h0M76.8 105.9h0M88.1 106.8h0M115.7 106.2h0M121.1 108.6h0M141.4 108.1h0M146.3 106.2h0M151.3 105.2h0M157.4 106.0h0M172.8 105.6h0M178.2 106.2h0M184.0 105.8h0M200.0 108.2h0M206.3 107.2h0M209.8 107.3h0M36.5 112.1h0M42.6 112.7h0M47.7 110.0h0M54.3 110.4h0M58.7 112.3h0M68.5 111.1h0M81.2 111.1h0M84.1 111.9h0M95.4 109.9h0M112.4 110.2h0M118.8 111.5h0M123.4 112.0h0M127.6 112.8h0M134.0 110.5h0M143.2 112.8h0M171.0 112.3h0M181.6 110.6h0M185.7 111.9h0M200.7 110.6h0M208.2 112.1h0M211.3 109.7h0M35.8 116.5h0M45.7 115.6h0M49.2 117.4h0M55.9 114.8h0M61.3 115.4h0M68.3 115.7h0M73.5 115.0h0M77.8 114.5h0M89.7 116.2h0M93.0 114.8h0M99.0 115.8h0M115.6 117.2h0M119.8 115.9h0M127.2 116.1h0M136.1 114.8h0M151.2 115.5h0M161.2 117.3h0M169.1 115.9h0M178.0 116.2h0M194.5 117.4h0M206.2 115.0h0M42.2 119.7h0M49.5 119.6h0M58.3 120.1h0M69.9 122.0h0M75.4 120.3h0M79.8 120.0h0M85.0 122.1h0M90.2 122.2h0M101.1 120.5h0M113.0 120.0h0M117.4 119.1h0M144.9 122.2h0M164.9 120.7h0M186.5 120.4h0M192.0 119.4h0M198.5 121.3h0M36.0 124.7h0M62.1 125.7h0M72.5 125.3h0M79.1 125.7h0M93.9 126.2h0M119.5 125.5h0M125.2 126.1h0M130.8 125.8h0M135.8 125.7h0M153.0 124.5h0M162.4 124.5h0M168.2 125.5h0M173.7 124.8h0M183.4 124.7h0M193.6 125.8h0M203.9 125.6h0M210.1 124.4h0M33.0 130.3h0M48.3 129.7h0M59.3 129.1h0M64.6 130.6h0M74.5 131.2h0M81.4 129.9h0M85.6 129.5h0M95.5 129.9h0M100.9 129.9h0M111.3 131.3h0M118.0 129.7h0M127.7 128.9h0M153.5 129.6h0M160.5 129.5h0M170.4 129.4h0M175.9 129.2h0M181.6 128.9h0M185.2 130.6h0M191.4 130.1h0M197.3 131.0h0M202.7 129.4h0M35.1 135.5h0M61.4 133.9h0M67.7 134.1h0M72.8 136.4h0M92.3 134.3h0M99.1 133.4h0M103.6 133.4h0M114.1 136.0h0M126.6 133.2h0M141.7 135.1h0M150.8 134.1h0M163.3 133.7h0M168.6 134.6h0M172.4 132.9h0M180.1 136.1h0M187.8 135.9h0M193.2 135.5h0M199.6 134.6h0M204.8 133.5h0M210.2 135.2h0M34.2 140.1h0M58.5 138.9h0M79.8 139.1h0M86.2 138.6h0M95.4 137.8h0M124.1 139.3h0M132.9 140.1h0M139.7 137.7h0M144.9 138.3h0M148.4 137.5h0M153.3 139.7h0M160.3 137.7h0M164.0 138.6h0M169.1 140.9h0M187.8 137.5h0M192.4 137.9h0M197.9 139.0h0M203.3 138.4h0M209.1 139.7h0M34.4 143.9h0M40.0 143.8h0M56.7 142.9h0M73.0 142.1h0M87.0 143.0h0M92.5 142.0h0M103.7 143.7h0M129.3 143.8h0M136.5 145.1h0M140.5 143.7h0M147.1 143.3h0M158.0 142.7h0M161.9 142.3h0M177.9 144.3h0M184.9 142.2h0M190.7 144.4h0M193.8 145.2h0M200.2 143.5h0M204.8 144.2h0M47.9 148.4h0M59.7 147.1h0M75.2 148.7h0M81.2 147.2h0M95.8 148.4h0M103.1 148.1h0M112.3 148.9h0M119.2 149.9h0M128.7 148.9h0M134.6 147.1h0M139.1 148.6h0M150.1 149.9h0M155.5 149.1h0M159.6 147.1h0M169.5 147.6h0M175.6 147.6h0M184.7 147.9h0M191.7 149.1h0M201.4 148.0h0M212.2 148.6h0M37.3 152.8h0M38.7 153.9h0M46.6 152.4h0M57.7 154.4h0M67.7 153.3h0M87.4 152.6h0M97.9 153.8h0M136.2 151.3h0M161.7 153.7h0M165.8 152.8h0M172.4 151.4h0M179.4 151.6h0M182.5 151.7h0M188.8 152.9h0M193.6 154.5h0M210.5 153.0h0M70.1 157.5h0M112.9 156.6h0M123.7 158.3h0M139.3 157.1h0M160.0 158.7h0M165.9 158.7h0M168.5 158.2h0M175.5 158.3h0M202.8 157.8h0M36.2 160.6h0M39.3 161.0h0M45.8 162.2h0M57.4 160.6h0M66.6 161.7h0M93.0 162.4h0M99.3 162.0h0M120.4 163.6h0M124.2 163.3h0M137.1 163.3h0M152.3 161.1h0M155.9 162.6h0M179.1 162.1h0M205.3 162.9h0M32.3 166.0h0M64.6 166.1h0M68.9 166.8h0M86.5 167.0h0M112.8 167.4h0M116.0 167.5h0M123.5 167.2h0M134.2 167.6h0M139.4 166.2h0M158.4 166.0h0M164.5 166.6h0M171.6 168.5h0M175.6 165.7h0M181.5 166.4h0M184.9 166.1h0M190.3 166.8h0M196.2 167.8h0M202.4 166.6h0M208.4 167.6h0M212.7 167.6h0M35.7 171.9h0M39.9 170.1h0M66.4 172.6h0M76.9 171.9h0M82.2 170.4h0M88.9 170.3h0M97.3 171.0h0M109.6 171.2h0M115.8 171.5h0M118.5 171.0h0M131.4 169.9h0M148.3 169.9h0M152.2 172.2h0M157.9 172.5h0M168.7 171.8h0M172.8 172.6h0M178.8 172.7h0M188.3 170.3h0M193.4 169.9h0M199.5 170.3h0M210.0 171.5h0M33.2 176.4h0M37.1 177.6h0M42.8 174.9h0M49.1 176.1h0M66.0 176.8h0M69.9 175.5h0M86.2 177.3h0M97.0 174.7h0M100.2 175.3h0M111.5 176.0h0M117.2 177.3h0M127.5 175.6h0M133.0 176.5h0M143.7 175.7h0M149.1 175.4h0M155.4 177.4h0M171.1 175.1h0M174.4 175.7h0M181.7 177.8h0M190.1 175.5h0M196.8 176.6h0M203.3 175.8h0M207.0 177.3h0M212.4 177.2h0M34.7 181.0h0M41.7 179.6h0M44.6 179.4h0M56.2 182.0h0M67.8 180.6h0M76.6 181.6h0M83.1 180.2h0M94.6 181.1h0M100.4 181.8h0M104.3 180.9h0M109.2 180.9h0M119.1 180.2h0M131.0 181.3h0M135.6 181.3h0M141.1 179.7h0M152.3 179.9h0M163.3 180.2h0M169.1 180.3h0M173.0 179.9h0M177.6 179.5h0M184.8 180.4h0M187.8 180.8h0M193.7 180.5h0M200.4 180.6h0M205.1 180.5h0M211.0 180.8h0M36.8 184.3h0M43.6 186.0h0M48.3 185.6h0M65.3 186.1h0M74.3 185.3h0M79.0 185.2h0M90.7 184.8h0M97.2 186.1h0M119.1 184.3h0M122.9 184.4h0M128.9 185.8h0M134.2 185.9h0M144.7 183.8h0M151.0 185.1h0M154.1 185.2h0M159.6 184.4h0M171.1 185.9h0M176.3 186.8h0M181.8 184.1h0M187.4 184.2h0M191.1 186.1h0M198.3 184.2h0M201.2 183.9h0M208.7 185.2h0M212.6 184.6h0M39.6 190.5h0M44.8 190.4h0M52.4 190.4h0M68.8 189.9h0M76.9 190.9h0M87.8 189.9h0M92.7 190.6h0M102.8 189.5h0M130.6 190.6h0M134.3 189.0h0M140.5 191.6h0M151.6 189.3h0M156.7 188.3h0M172.8 189.2h0M181.7 190.8h0M188.5 190.7h0M198.4 188.8h0M204.6 189.2h0M209.3 189.1h0" fill="none" stroke="#1a1a1a" stroke-width="1.9" stroke-linecap="round"/>
<path d="M53.2 9.5l-2.5 -1.5M59.4 10.0l-3.1 -2.7M65.0 10.4l1.9 2.5M69.5 10.6l-1.2 3.0M106.1 10.9l1.6 3.4M122.7 10.1l1.6 -3.3M133.5 9.9l2.2 -3.6M138.1 10.4l1.4 -2.2M160.7 10.3l1.1 3.2M169.5 10.2l-3.2 3.0M181.5 10.7l1.9 3.4M187.0 9.9l4.4 0.2M191.7 10.2l3.6 2.2M197.6 10.4l2.8 2.0M50.7 14.0l-1.0 -4.0M94.3 13.9l-1.7 2.7M99.6 14.4l-0.9 4.1M110.0 14.9l-2.3 -0.2M115.6 15.5l2.5 -1.1M130.1 14.3l-3.4 1.6M141.2 15.4l-1.4 2.2M146.8 14.7l0.2 4.1M152.6 14.1l-1.9 1.3M157.2 14.6l-0.8 3.5M173.8 14.2l-1.9 3.6M183.0 15.1l-2.2 3.7M188.7 14.8l3.8 -0.3M193.7 14.7l1.9 3.5M205.1 15.3l-3.0 -2.8M43.9 20.1l3.6 2.2M48.5 19.6l3.1 -3.1M53.8 19.3l0.3 -2.5M59.9 18.5l2.6 2.5M64.3 19.2l-1.8 0.9M80.5 19.1l0.6 3.9M86.1 18.8l-1.9 -0.8M91.5 19.1l-4.0 0.9M96.7 19.7l3.2 1.0M100.6 19.0l2.2 0.5M106.5 19.5l-2.4 1.2M122.5 18.5l-0.9 3.1M128.1 20.1l2.8 -0.6M132.5 20.0l3.1 -1.0M137.8 20.0l-4.4 0.7M148.4 18.6l3.9 1.9M160.6 18.5l2.7 1.5M165.1 20.0l-2.8 2.9M175.8 18.5l2.6 -2.3M180.9 19.7l-1.2 -2.4M186.7 18.8l2.5 -1.9M191.8 19.0l3.3 1.0M197.4 18.7l1.9 -1.1M202.9 18.4l0.2 -3.5M207.6 18.5l2.1 -0.4M34.5 23.1l0.2 3.6M40.0 23.7l0.3 -2.8M56.9 23.1l1.1 -4.2M66.8 23.1l-2.0 0.8M73.1 24.6l-0.7 3.3M93.7 24.7l-3.0 0.3M109.5 24.3l1.8 -2.1M115.1 23.8l-2.4 -2.3M131.2 23.7l0.8 -4.2M136.8 23.6l-1.5 3.3M146.0 23.0l-1.8 -1.6M151.0 23.1l-3.1 -2.2M156.7 23.3l2.6 0.6M162.1 23.9l1.6 2.3M173.0 23.3l1.7 2.1M178.1 23.9l3.2 -2.0M183.9 23.4l-3.1 2.5M189.1 23.2l-1.0 -3.7M194.5 24.7l2.8 0.2M200.1 24.5l-1.1 -1.9M210.3 24.5l-0.4 -2.1M37.6 27.7l-1.5 2.6M42.9 28.8l1.2 -4.1M48.8 27.6l-1.6 -3.8M52.9 29.3l-2.0 0.4M69.8 28.8l-3.1 1.7M75.3 28.8l2.8 1.0M80.5 27.7l-3.4 -2.5M86.4 28.3l-3.1 -0.8M91.5 28.2l1.1 2.9M97.1 29.0l-1.3 -2.4M107.4 28.6l0.6 2.4M127.7 29.2l-1.9 -2.2M134.0 28.5l3.2 2.7M139.2 28.6l-2.2 0.3M144.0 29.0l1.5 4.2M150.1 29.2l-1.3 1.7M154.9 28.2l-2.2 -0.0M159.2 28.2l-3.2 -2.3M164.8 28.7l-1.9 -2.1M170.3 28.3l2.4 -0.2M181.6 29.1l0.8 -2.5M186.3 28.3l-3.3 -0.2M192.0 28.6l0.2 -2.8M196.8 28.4l-0.6 -2.5M202.2 28.0l-4.0 1.2M212.3 28.9l-3.2 -0.6M41.3 33.6l-0.9 -3.2M46.6 32.7l1.4 -1.8M51.1 32.5l2.5 -0.8M61.2 33.3l0.4 -3.6M66.7 33.8l1.8 2.2M72.3 32.3l1.3 -4.2M77.1 32.5l2.7 1.7M88.6 32.7l-2.5 1.0M99.4 32.3l2.4 0.7M108.6 33.0l-3.6 1.9M114.7 32.5l-2.5 -3.5M120.1 33.1l-2.5 0.1M125.9 32.5l-0.2 3.9M131.2 32.6l2.5 -0.3M136.1 33.4l-1.5 -1.8M141.2 32.9l-1.8 3.2M145.8 33.8l-2.3 -1.5M151.4 32.4l2.9 -0.3M156.7 33.2l3.0 0.8M172.4 33.0l0.3 2.9M178.2 32.7l-3.6 1.5M184.1 32.6l-2.5 -0.3M194.4 32.2l1.0 -3.8M200.2 33.2l1.6 -1.2M205.4 32.5l2.2 3.0M209.6 33.0l-1.7 -1.3M32.9 38.3l-0.0 -3.6M42.8 37.4l-2.5 -1.8M54.3 37.7l-4.0 0.2M59.3 36.8l-2.1 0.9M74.2 36.8l1.5 2.6M81.2 37.3l1.1 2.7M86.4 38.3l-1.4 -1.7M100.9 37.8l-3.7 1.1M105.9 37.5l3.4 -2.8M112.3 37.6l-2.0 4.0M117.5 37.2l-0.3 -4.0M128.5 37.9l-2.8 0.4M138.3 38.5l-1.0 -1.8M143.0 37.7l-4.3 0.7M160.4 37.1l-2.5 2.4M165.5 37.7l-0.2 -4.4M169.7 36.9l2.0 2.7M175.0 37.6l2.2 -1.7M180.2 37.2l-1.2 -3.3M186.7 37.4l-2.1 -1.5M192.2 37.8l-3.1 1.3M196.2 37.4l-2.3 1.7M213.2 38.6l1.7 -2.3M35.0 41.9l1.0 -3.2M45.3 41.6l2.9 0.8M56.2 41.8l-1.4 -2.2M66.5 42.9l-0.7 -2.4M72.2 41.5l2.2 -0.4M78.3 43.2l4.0 -0.8M92.7 42.3l-2.5 -3.2M98.7 42.8l-2.0 2.5M103.4 43.1l2.8 2.3M120.5 41.8l-2.3 3.8M141.1 43.1l2.6 2.8M146.0 41.9l-1.3 -2.0M152.7 41.6l-2.3 -0.2M157.8 42.9l0.0 3.0M162.8 42.2l2.3 -0.8M167.9 42.3l-2.5 -0.5M173.8 41.7l-3.0 -0.1M183.5 42.9l-2.2 -0.1M189.2 43.1l1.8 1.2M48.1 47.1l2.2 -2.3M64.8 46.6l0.0 3.6M80.9 47.2l3.1 1.8M85.5 46.1l1.8 -2.6M96.1 46.6l2.2 -1.4M107.1 46.6l-0.2 -2.7M138.2 47.4l-2.6 2.5M144.5 47.7l-0.6 2.4M148.5 47.4l-0.0 2.1M153.8 46.9l-3.4 1.8M164.4 47.5l-2.3 -3.5M176.1 46.3l2.0 -2.3M181.3 47.5l-0.1 3.9M187.1 46.6l-1.2 2.9M192.4 47.0l0.8 -1.8M196.5 46.7l3.1 -2.4M201.4 47.5l0.6 3.0M206.8 46.7l0.3 2.8M45.8 51.5l-0.8 -2.4M57.3 52.1l0.1 -4.3M62.3 51.8l4.1 -0.7M67.8 51.7l-2.0 0.2M72.5 50.6l2.7 1.0M78.5 52.2l2.0 0.9M82.9 51.4l2.2 0.8M93.2 52.3l3.6 2.2M99.5 50.8l0.3 2.1M109.9 50.9l-2.9 -1.6M140.5 51.2l2.1 -2.5M146.7 51.6l-2.1 3.8M152.3 52.0l3.3 3.1M157.3 50.8l-2.6 -1.3M163.2 51.8l-1.9 3.9M167.4 52.1l-0.8 -3.4M172.6 51.1l3.6 -2.4M177.9 51.5l3.6 1.1M184.3 51.7l2.2 -2.4M189.4 51.1l-0.5 3.3M194.2 51.3l3.3 0.3M204.1 51.6l-4.0 0.9M210.4 50.7l0.7 2.8M32.9 56.7l3.4 2.1M37.9 55.8l-1.4 -2.0M54.7 56.9l0.9 2.7M58.2 56.1l-2.8 2.5M96.1 55.6l1.2 2.3M102.0 55.8l-0.2 3.7M112.6 56.2l-3.5 -1.0M122.5 55.5l-2.2 2.5M132.4 56.1l-3.2 0.8M143.6 56.9l3.7 -1.0M148.6 55.5l-2.4 -0.0M155.3 56.0l-1.2 3.0M159.2 55.8l4.5 0.6M165.2 56.2l-0.9 2.9M176.5 56.1l-0.8 3.1M181.9 56.0l2.6 -2.6M187.2 55.3l3.5 -2.5M192.0 55.6l1.8 -3.9M208.2 56.3l-2.6 -3.0M51.1 60.0l2.9 -1.0M56.3 60.0l2.5 -1.5M82.4 61.3l-3.0 -0.1M93.8 59.9l-3.7 1.5M99.5 60.4l0.8 -3.3M114.5 59.9l2.7 -2.3M120.4 60.7l2.0 1.6M126.1 60.4l-0.6 2.3M131.5 61.2l2.1 0.7M136.6 60.8l2.3 1.6M140.8 60.4l1.9 2.9M146.8 60.6l-1.0 -2.4M151.7 61.1l-0.6 3.0M162.5 60.2l3.8 2.4M168.1 61.1l3.5 0.1M172.9 60.0l2.1 1.5M177.6 59.9l-2.0 2.0M183.8 61.2l0.5 -2.9M193.5 60.5l2.3 -2.0M200.2 60.7l-3.9 -2.2M204.2 60.4l-1.7 -3.7M32.5 65.0l2.8 -0.0M44.1 65.8l2.5 2.3M54.1 65.6l-1.5 3.9M79.6 65.8l0.4 -3.5M101.1 65.7l-2.3 0.5M106.9 64.5l3.7 1.8M112.9 64.9l-3.8 -1.4M128.0 65.0l2.6 1.9M144.2 64.7l1.7 2.0M148.7 65.1l-0.1 -3.4M155.1 65.4l0.1 -3.0M160.0 66.0l3.5 1.7M170.1 65.1l4.3 -1.1M175.9 64.9l2.2 2.4M181.7 65.8l-1.5 2.0M186.3 65.2l3.2 -0.5M192.1 66.0l-0.2 -3.8M208.4 66.1l0.1 3.3M34.5 70.8l1.9 -1.3M40.7 70.7l-1.8 1.6M45.8 70.7l-0.8 1.9M67.5 70.4l-0.2 -3.0M93.1 69.5l-1.2 2.1M104.4 69.7l2.8 1.4M109.5 69.1l0.4 -2.0M114.9 70.7l-0.9 2.1M141.4 70.7l-1.5 -1.8M146.0 70.2l-3.2 -3.0M152.0 70.0l-0.1 2.2M161.8 69.7l-1.3 3.1M168.5 69.1l-1.6 -1.2M177.7 70.8l2.5 -2.7M184.4 70.1l-0.4 2.8M193.5 70.2l2.2 -1.4M200.2 70.8l3.5 -0.8M204.3 70.6l3.0 0.2M209.3 69.6l-4.1 -1.8M32.1 74.5l3.9 -1.8M37.8 74.2l2.8 -2.5M43.1 74.9l2.2 2.8M58.3 73.8l0.5 -3.6M64.7 74.6l-0.8 -2.6M69.2 73.7l-2.0 0.5M81.0 74.7l4.4 -0.4M101.3 75.3l-2.2 2.3M106.0 74.4l-1.6 -3.7M112.3 75.0l2.7 1.0M127.7 73.9l4.2 0.4M139.4 74.0l-2.9 -0.0M149.7 73.7l2.7 -1.3M154.0 74.6l-2.2 -0.4M160.3 74.3l-1.0 2.2M170.4 74.8l-0.7 -3.4M175.0 74.9l-0.4 2.4M186.1 74.8l-0.8 2.2M196.7 74.8l2.8 -0.4M201.8 74.3l2.6 -0.2M212.4 74.4l-3.1 -0.7M51.3 78.5l-1.4 -3.9M71.7 79.2l-2.4 0.6M82.3 80.0l-3.0 3.1M88.8 78.9l-1.8 3.2M103.4 78.5l-0.2 2.4M110.1 78.9l-3.1 2.4M119.6 79.9l-0.6 -2.4M125.6 79.6l1.8 1.9M140.4 78.8l1.7 -1.5M146.3 78.6l-1.1 -2.1M151.4 79.6l-2.2 1.1M157.6 78.8l-0.2 3.3M163.0 79.9l-2.6 -1.2M167.2 80.0l2.5 -2.5M178.4 78.4l3.7 2.1M184.2 78.4l3.5 1.7M188.1 79.0l-3.1 -0.2M194.6 78.9l-2.2 0.7M199.2 78.5l1.7 -2.5M204.7 79.2l-2.7 2.2M33.3 84.2l-1.7 -1.2M42.4 83.7l-2.6 1.3M52.9 83.3l1.4 3.0M70.5 83.1l0.1 2.8M74.3 83.5l2.8 -2.9M81.1 84.5l2.8 -1.7M107.2 83.7l-2.1 2.7M128.1 83.0l1.2 3.5M132.5 83.0l4.3 -0.7M159.6 84.1l1.2 -3.9M165.5 84.0l3.3 2.7M170.7 84.5l2.8 0.9M180.9 82.9l-0.8 2.3M186.5 83.5l1.2 -1.7M196.8 84.5l3.7 -1.5M202.0 83.4l-2.3 -1.0M207.7 83.6l2.9 -3.2M35.2 88.4l2.8 0.3M41.1 88.9l3.3 2.7M46.3 87.6l2.1 -0.2M52.0 88.9l3.5 2.7M61.3 87.9l-2.7 3.5M71.6 88.5l-2.5 -2.0M82.2 89.1l-3.8 -1.9M87.4 88.4l-1.1 2.8M109.7 89.2l2.4 -0.7M119.3 87.5l2.9 2.2M125.7 89.0l1.2 -1.8M131.4 88.5l2.7 1.5M135.2 88.0l1.6 2.7M151.0 88.5l-1.5 2.2M162.8 88.2l-0.6 -2.2M168.4 89.1l-1.9 -0.6M183.9 88.9l2.4 1.7M188.1 89.0l-1.9 2.5M194.8 88.9l2.0 0.8M200.4 88.0l1.0 2.9M205.3 89.1l2.1 2.7M32.5 93.6l-0.9 -3.2M38.4 93.1l2.2 -2.6M42.4 92.9l-2.1 0.0M47.9 92.6l2.3 -1.9M59.2 92.8l-3.9 1.5M70.4 93.4l4.4 -0.4M75.7 93.3l1.1 -2.4M85.1 92.3l0.4 2.4M101.6 92.5l1.5 -3.4M106.3 92.1l1.7 -3.8M112.2 93.0l2.5 -1.5M117.5 93.1l3.1 -2.5M122.3 93.1l-2.4 -0.4M133.6 93.2l4.3 -0.1M138.9 92.5l2.7 -1.7M165.6 92.9l2.8 0.1M180.4 93.4l1.8 0.9M185.6 93.6l1.2 4.2M191.5 93.2l-0.2 2.4M196.2 93.1l0.1 2.5M207.7 92.6l-3.9 2.2M212.4 92.4l2.1 0.6M55.7 98.5l1.3 2.7M82.9 97.1l-2.4 0.7M110.3 97.8l0.9 -3.7M125.3 98.1l-2.8 2.5M131.0 97.3l3.7 -0.6M141.4 97.5l-3.9 -0.3M152.3 97.0l3.2 -2.9M157.9 98.4l-1.5 1.7M167.3 97.6l-1.7 1.8M178.2 98.2l2.1 -1.1M184.2 98.1l-0.2 2.1M188.5 97.8l1.5 1.3M194.6 98.3l-1.3 3.1M204.8 97.5l2.0 -2.3M33.4 101.6l-1.9 1.7M69.6 101.7l-0.4 -3.6M85.4 102.9l1.7 -1.4M96.5 101.6l-0.9 2.4M106.5 102.6l-2.7 0.4M121.9 102.1l1.9 1.4M127.5 102.4l3.9 -1.0M143.2 101.4l2.4 0.6M158.9 102.8l2.4 -1.8M197.0 102.5l1.5 2.6M41.2 106.8l-4.4 0.4M104.3 106.1l1.4 1.5M114.7 106.7l0.4 3.2M120.8 107.5l2.8 -1.9M136.0 106.5l-3.9 2.1M151.9 106.1l1.7 -1.2M157.1 106.6l-2.0 -0.6M162.9 106.3l2.8 -0.4M173.6 106.6l1.6 -1.8M182.8 106.1l-0.3 4.0M193.5 106.8l2.1 -0.5M199.3 107.2l2.7 3.4M205.6 106.9l0.2 2.9M210.3 106.2l-2.5 -1.8M74.5 110.6l1.8 3.5M85.1 111.0l2.4 3.1M100.6 111.3l-2.6 2.3M133.5 110.5l2.7 -0.3M143.2 111.7l-3.8 1.5M149.9 111.3l3.5 -2.0M181.4 111.0l-2.6 0.8M197.4 111.9l2.9 -0.8M41.2 116.2l-1.7 -2.4M50.3 116.8l2.0 1.2M56.8 115.4l2.4 1.9M72.9 116.0l1.5 1.5M82.5 115.6l-2.7 -0.8M98.2 116.7l0.9 -3.1M120.9 116.6l-1.6 2.4M126.2 116.6l2.8 0.7M162.0 116.5l3.2 1.2M173.2 115.9l-2.8 0.8M200.4 116.8l-1.1 -4.0M205.3 115.3l4.0 0.9M32.8 120.5l-2.6 -1.0M70.2 120.8l2.8 2.4M106.3 121.0l-1.0 1.8M128.9 121.4l1.9 -0.5M139.2 120.3l-0.3 4.3M164.2 120.3l-1.2 -1.9M202.0 120.2l-0.8 2.0M206.7 121.4l-0.1 -2.1M212.5 120.8l2.9 -0.1M130.7 124.9l4.0 1.5M152.4 124.7l1.5 2.6M168.0 124.7l0.6 2.9M173.3 125.5l-3.5 -2.1M189.0 125.3l2.9 -1.8M204.5 125.3l2.2 0.8M209.9 125.0l-3.2 -0.8M48.3 129.5l2.6 -1.8M53.9 130.3l-3.4 -2.6M58.4 129.5l-1.6 -3.0M64.5 130.1l-0.1 2.3M96.1 130.4l-2.0 1.7M123.2 129.5l0.3 -2.7M144.0 129.9l-2.0 1.1M154.5 129.5l1.8 3.6M174.9 129.6l-0.2 2.7M185.5 130.6l2.8 0.6M191.2 130.0l2.2 2.0M202.3 129.9l-2.6 -1.8M34.5 135.2l1.6 2.0M114.3 135.0l-2.5 -1.1M145.9 134.4l1.5 -2.0M163.2 133.9l-1.1 2.8M168.5 134.7l0.0 -2.3M179.1 135.2l-1.0 -3.6M205.3 133.6l2.6 -0.9M210.9 134.9l1.7 -1.5M48.6 139.7l-2.9 2.8M74.4 139.5l0.2 -2.7M106.2 139.1l2.4 -2.5M153.9 139.5l1.2 3.1M159.9 138.4l-0.4 -2.8M175.8 138.4l3.1 2.9M181.6 139.4l2.9 -1.8M186.9 138.7l0.5 -2.6M191.3 138.6l1.9 -1.2M197.2 138.8l2.9 -1.4M207.9 138.5l3.6 -0.1M35.2 143.8l1.6 2.1M45.8 144.1l3.8 -1.7M87.5 143.4l2.5 -0.2M130.3 143.5l-1.7 1.4M135.3 144.3l-0.2 4.4M158.0 143.2l-1.7 3.6M184.5 143.2l-3.2 -0.9M32.3 147.6l-2.4 3.7M48.4 148.3l-0.9 3.5M59.0 148.2l0.6 2.0M80.5 147.8l-1.1 -2.1M118.2 149.1l2.2 0.1M122.5 148.1l-1.9 2.4M138.0 147.8l-3.1 2.1M154.3 148.6l-3.3 1.8M159.5 147.8l-2.4 3.1M170.0 147.8l2.3 1.2M185.6 148.8l-1.5 2.6M196.1 148.3l2.9 0.8M212.6 148.6l1.0 -2.9M45.9 152.6l0.8 3.0M62.1 153.2l-2.2 -0.3M67.6 152.3l0.5 2.2M71.6 153.4l-3.2 3.2M145.8 153.7l1.5 1.8M166.9 152.4l-2.3 1.2M188.6 152.7l-3.1 -1.5M210.1 152.8l-2.5 2.9M32.7 157.0l-0.9 -2.2M128.6 156.7l-0.5 3.4M132.6 157.5l3.4 -1.5M155.2 157.0l1.9 -3.7M169.6 158.0l-0.8 2.9M186.1 157.6l3.5 -1.2M190.8 157.3l0.7 -2.6M196.0 156.9l-1.9 1.3M45.1 162.9l-3.3 0.4M66.6 161.3l-0.2 2.5M129.8 162.8l-2.1 1.9M156.4 162.7l1.7 2.0M188.5 161.7l1.9 -2.7M194.0 161.9l2.1 2.5M38.7 166.6l-2.5 2.6M48.2 166.5l-1.6 -2.3M128.0 166.4l3.1 -1.1M139.3 166.7l1.8 -1.1M185.8 166.4l2.9 -3.1M41.0 170.8l1.0 4.2M52.0 171.3l0.0 -3.3M77.3 171.7l-2.9 -1.7M82.9 171.3l-2.2 -0.7M119.7 170.8l-3.1 -3.1M147.3 170.8l2.1 1.0M162.9 170.8l-3.9 1.3M188.3 171.1l-2.8 -1.8M33.2 175.9l2.6 -1.9M42.4 175.8l-2.1 2.3M100.6 176.2l-1.6 2.2M127.6 175.9l-1.8 2.9M165.8 175.4l-3.7 1.7M170.1 176.1l-3.1 -0.9M181.1 176.7l-1.8 -2.8M207.8 176.5l1.3 -2.7M213.2 176.1l-2.2 3.6M35.7 180.6l2.4 -2.8M55.6 181.0l-3.8 -0.3M61.9 180.8l2.0 -1.2M71.9 180.1l-2.3 -3.2M77.1 180.5l2.3 -2.1M99.4 181.4l-2.5 1.6M110.0 180.7l0.1 -3.7M131.1 180.9l4.0 -1.1M142.1 180.4l3.4 0.7M152.4 180.3l1.7 2.1M210.7 181.1l1.4 -2.9M44.0 185.7l3.8 1.5M48.1 185.4l-2.1 -1.1M54.5 185.8l-2.1 -3.6M64.9 185.5l2.4 -2.7M79.7 185.7l2.2 -2.4M128.6 186.0l1.3 -2.1M133.2 184.8l3.8 0.9M165.5 185.2l-0.4 2.6M175.2 185.9l2.3 -1.6M186.4 184.7l-3.0 -2.1M190.9 185.6l2.6 1.7M201.9 184.5l-2.0 -0.0M35.5 189.7l-3.1 -0.3M39.8 189.4l2.6 2.4M45.3 190.6l-2.2 -1.4M51.9 189.2l1.7 3.5M67.7 190.4l3.2 3.0M104.0 189.3l-1.9 0.8M120.4 190.0l-3.8 1.0M125.1 189.7l-2.0 -0.5M135.4 189.6l3.9 -1.7M151.3 190.5l3.6 -0.1M182.9 190.7l3.6 2.0M209.6 190.2l0.5 -3.5" fill="none" stroke="#262626" stroke-width="0.9" stroke-linecap="round"/>
<path d="M155.3 45.7L190.3 27.7M155.9 45.8L193.9 32.8M154.5 45.9L194.5 37.9M155.1 45.5L187.1 35.5M159.2 44.2L177.2 13.2M159.1 43.8L189.1 34.8M156.5 47.9L197.5 38.9M155.5 46.2L173.5 19.2M156.3 48.1L189.3 37.1M158.2 49.4L168.2 16.4M159.2 49.4L191.2 29.4M159.4 48.6L196.4 38.6M156 42L152 88M139 26L156 45M140 58L156 46M130 68L150 57M152 45L163 56M155 50L170 62M38 15L70 28M45 22L75 31M98 34L116 29M36 176L50 189M40 182L58 172M186 96L205 120M190 105L210 98M75 60L90 52M120 150L135 140M177.4 69.7l2.0 5.3M160.7 76.7l5.8 -2.3M162.0 33.2l7.4 -3.4M163.0 39.7l-2.1 7.9M180.4 19.6l-1.9 9.1M166.4 18.2l8.0 -2.8M202.4 57.1l7.1 -4.5M179.6 75.3l7.4 -5.8M170.2 40.8l2.2 8.5M183.5 72.1l2.6 9.4M177.6 14.2l5.2 -2.0M152.6 48.9l-0.5 5.5M188.6 75.2l5.6 -1.9M168.5 37.4l-0.0 5.9M198.7 13.4l0.4 8.8M177.5 73.7l3.3 8.4M182.5 14.9l3.7 -4.1M162.4 16.5l5.7 -4.4M186.7 47.6l2.9 6.7M203.7 29.2l6.6 -4.4M178.5 24.8l-0.4 8.1M158.0 65.2l-1.5 6.4M156.2 67.2l2.4 7.9M166.6 24.1l-0.0 8.4M159.3 14.0l-0.0 9.7" fill="none" stroke="#2a2a2a" stroke-width="0.7" stroke-linecap="round"/>
</g>
<rect x="31.6" y="8.5" width="181.8" height="181.8" fill="none" stroke="#777" stroke-width="1.2"/>
<text x="20.9" y="8.4" class="lbl">a</text>
<text x="255.4" y="14.2" class="lbl">b</text>
<circle cx="359" cy="20.6" r="5.7" fill="#d3e6f4" stroke="#b4c6ee" stroke-width="0.6"/>
<circle cx="370" cy="32" r="5.7" fill="#d3e6f4" stroke="#b4c6ee" stroke-width="0.6"/>
<circle cx="315.8" cy="54" r="5.7" fill="#d3e6f4" stroke="#b4c6ee" stroke-width="0.6"/>
<circle cx="316.4" cy="70.3" r="5.7" fill="#d3e6f4" stroke="#b4c6ee" stroke-width="0.6"/>
<circle cx="320.2" cy="86.6" r="5.7" fill="#d3e6f4" stroke="#b4c6ee" stroke-width="0.6"/>
<circle cx="342.5" cy="68.5" r="5.7" fill="#d3e6f4" stroke="#b4c6ee" stroke-width="0.6"/>
<circle cx="348" cy="54" r="5.7" fill="#d3e6f4" stroke="#b4c6ee" stroke-width="0.6"/>
<circle cx="366" cy="80.7" r="5.7" fill="#d3e6f4" stroke="#b4c6ee" stroke-width="0.6"/>
<circle cx="335" cy="106" r="5.7" fill="#d3e6f4" stroke="#b4c6ee" stroke-width="0.6"/>
<circle cx="326.3" cy="114.3" r="5.7" fill="#d3e6f4" stroke="#b4c6ee" stroke-width="0.6"/>
<circle cx="299.5" cy="128.2" r="5.7" fill="#d3e6f4" stroke="#b4c6ee" stroke-width="0.6"/>
<circle cx="306.4" cy="135.5" r="5.7" fill="#d3e6f4" stroke="#b4c6ee" stroke-width="0.6"/>
<circle cx="333.1" cy="134.8" r="5.7" fill="#d3e6f4" stroke="#b4c6ee" stroke-width="0.6"/>
<circle cx="374.7" cy="139.9" r="5.7" fill="#d3e6f4" stroke="#b4c6ee" stroke-width="0.6"/>
<circle cx="368.9" cy="159.6" r="5.7" fill="#d3e6f4" stroke="#b4c6ee" stroke-width="0.6"/>
<circle cx="370.4" cy="168.4" r="5.7" fill="#d3e6f4" stroke="#b4c6ee" stroke-width="0.6"/>
<circle cx="411.3" cy="138.3" r="5.7" fill="#d3e6f4" stroke="#b4c6ee" stroke-width="0.6"/>
<circle cx="380.5" cy="120.5" r="5.7" fill="#d3e6f4" stroke="#b4c6ee" stroke-width="0.6"/>
<circle cx="426" cy="62" r="5.7" fill="#d3e6f4" stroke="#b4c6ee" stroke-width="0.6"/>
<circle cx="421.9" cy="79.5" r="5.7" fill="#d3e6f4" stroke="#b4c6ee" stroke-width="0.6"/>
<circle cx="388.5" cy="64.9" r="5.7" fill="#d3e6f4" stroke="#b4c6ee" stroke-width="0.6"/>
<circle cx="391.6" cy="89.8" r="5.7" fill="#d3e6f4" stroke="#b4c6ee" stroke-width="0.6"/>
<circle cx="353.4" cy="108.6" r="5.7" fill="#d3e6f4" stroke="#b4c6ee" stroke-width="0.6"/>
<circle cx="366.2" cy="121.2" r="5.7" fill="#d3e6f4" stroke="#b4c6ee" stroke-width="0.6"/>
<polygon points="359,21 316.4,55.5 369.8,81.3" fill="#008000" fill-opacity="0.49"/>
<polygon points="370.3,32.7 424.3,61.9 392.8,88 369.1,80.7" fill="#007a00" fill-opacity="0.49"/>
<polygon points="369.1,80.7 420.7,79.5 380.5,118.5" fill="#006a00" fill-opacity="0.49"/>
<polygon points="369.6,80.9 328.7,113.6 374.4,138.3" fill="#007400" fill-opacity="0.49"/>
<line x1="359" y1="20.6" x2="370" y2="32" stroke="#8a8a8a" stroke-width="0.8"/>
<line x1="320.2" y1="86.6" x2="342.5" y2="68.5" stroke="#8a8a8a" stroke-width="0.8"/>
<line x1="320.2" y1="86.6" x2="333.1" y2="134.8" stroke="#8a8a8a" stroke-width="0.8"/>
<line x1="299.5" y1="128.2" x2="328.7" y2="113.6" stroke="#8a8a8a" stroke-width="0.8"/>
<line x1="306.4" y1="135.5" x2="328.7" y2="113.6" stroke="#8a8a8a" stroke-width="0.8"/>
<line x1="299.5" y1="128.2" x2="306.4" y2="135.5" stroke="#8a8a8a" stroke-width="0.8"/>
<line x1="328.7" y1="113.6" x2="366.2" y2="121.2" stroke="#8a8a8a" stroke-width="0.8"/>
<line x1="366.2" y1="121.2" x2="368.9" y2="159.6" stroke="#8a8a8a" stroke-width="0.8"/>
<line x1="366.2" y1="121.2" x2="392.8" y2="88" stroke="#8a8a8a" stroke-width="0.8"/>
<line x1="374.5" y1="138.4" x2="368.9" y2="159.6" stroke="#8a8a8a" stroke-width="0.8"/>
<line x1="374.5" y1="138.4" x2="370.4" y2="168.4" stroke="#8a8a8a" stroke-width="0.8"/>
<line x1="380.5" y1="118.5" x2="370.4" y2="168.4" stroke="#8a8a8a" stroke-width="0.8"/>
<line x1="374.5" y1="138.4" x2="411.3" y2="138.3" stroke="#8a8a8a" stroke-width="0.8"/>
<line x1="359" y1="20.6" x2="348" y2="55" stroke="#8a8a8a" stroke-width="0.8"/>
<line x1="348" y1="55" x2="369.8" y2="81.3" stroke="#8a8a8a" stroke-width="0.8"/>
<line x1="370.3" y1="32.7" x2="388.5" y2="64.9" stroke="#8a8a8a" stroke-width="0.8"/>
<line x1="388.5" y1="64.9" x2="424.3" y2="61.9" stroke="#8a8a8a" stroke-width="0.8"/>
<line x1="388.5" y1="64.9" x2="369.1" y2="80.7" stroke="#8a8a8a" stroke-width="0.8"/>
<line x1="392.8" y1="88" x2="388.5" y2="64.9" stroke="#8a8a8a" stroke-width="0.8"/>
<line x1="392.8" y1="88" x2="380.5" y2="118.5" stroke="#8a8a8a" stroke-width="0.8"/>
<polyline points="316.4,55.5 315.8,70.3 334.6,106.8 352.2,109.2 369.8,81.3 347.9,55.5" fill="none" stroke="#1a1aee" stroke-width="1.4" stroke-linejoin="round"/>
<polygon points="316.4,55.5 347.9,55.5 352.2,109.2" fill="none" stroke="#ee1414" stroke-width="1.4" stroke-linejoin="round"/>
<polygon points="359,21 316.4,55.5 348,55" fill="#008000" fill-opacity="0.49"/>
<polygon points="316.4,55.5 369.8,81.3 348,55" fill="#007800" fill-opacity="0.49"/>
<polygon points="359,21 369.8,81.3 348,55" fill="#006e00" fill-opacity="0.49"/>
<polygon points="370.3,32.7 424.3,61.9 392.8,88 369.1,80.7" fill="#007a00" fill-opacity="0.49"/>
<polygon points="369.1,80.7 420.7,79.5 392.8,88" fill="#006800" fill-opacity="0.49"/>
<polygon points="420.7,79.5 380.5,118.5 392.8,88" fill="#006400" fill-opacity="0.49"/>
<polygon points="369.1,80.7 380.5,118.5 392.8,88" fill="#006a00" fill-opacity="0.49"/>
<polygon points="369.6,80.9 328.7,113.6 366.2,121.2" fill="#007800" fill-opacity="0.49"/>
<polygon points="328.7,113.6 374.4,138.3 366.2,121.2" fill="#006c00" fill-opacity="0.49"/>
<polygon points="369.6,80.9 374.4,138.3 366.2,121.2" fill="#007400" fill-opacity="0.49"/>
<circle cx="508.1" cy="53.7" r="4.6" fill="#d6e6f8" stroke="#8f8ff2" stroke-width="1.2"/>
<line x1="491.4" y1="74.6" x2="524.7" y2="74.6" stroke="#808080" stroke-width="3.3"/>
<rect x="501.6" y="89.6" width="13.1" height="12.7" fill="#8fbf8c"/>
<polyline points="503,91 508.1,101 513.3,91" fill="none" stroke="#a3cba0" stroke-width="0.6"/>
<line x1="491.4" y1="117.4" x2="524.9" y2="117.4" stroke="#0000ff" stroke-width="4.6"/>
<line x1="491.4" y1="138" x2="524.9" y2="138" stroke="#ff0000" stroke-width="4.6"/>
<text x="530.3" y="58.8" class="leg">Si atom</text>
<text x="530.3" y="79.2" class="leg">Bond</text>
<text x="530.3" y="101.2" class="leg">Tetrahedron</text>
<text x="530.3" y="121.4" class="leg">Parent cycle</text>
<text x="530.3" y="143.3" class="leg">Child cycle</text>
<g>
<clipPath id="clipc"><rect x="31.2" y="221.39999999999998" width="175" height="175"/></clipPath>
<g clip-path="url(#clipc)">
<circle cx="63.65" cy="296.45" r="15.81" fill="#808080" fill-opacity="0.3" stroke="#444" stroke-opacity="0.5" stroke-width="0.75"/>
<circle cx="86.9" cy="274.1" r="15.81" fill="#808080" fill-opacity="0.3" stroke="#444" stroke-opacity="0.5" stroke-width="0.75"/>
<circle cx="113.3" cy="276.4" r="15.81" fill="#808080" fill-opacity="0.3" stroke="#444" stroke-opacity="0.5" stroke-width="0.75"/>
<circle cx="136.5" cy="256.6" r="15.81" fill="#808080" fill-opacity="0.3" stroke="#444" stroke-opacity="0.5" stroke-width="0.75"/>
<circle cx="164.3" cy="276.4" r="15.81" fill="#808080" fill-opacity="0.3" stroke="#444" stroke-opacity="0.5" stroke-width="0.75"/>
<circle cx="90.5" cy="319.2" r="15.81" fill="#808080" fill-opacity="0.3" stroke="#444" stroke-opacity="0.5" stroke-width="0.75"/>
<circle cx="110.3" cy="319.2" r="15.81" fill="#808080" fill-opacity="0.3" stroke="#444" stroke-opacity="0.5" stroke-width="0.75"/>
<circle cx="138.3" cy="333.8" r="15.81" fill="#808080" fill-opacity="0.3" stroke="#444" stroke-opacity="0.5" stroke-width="0.75"/>
<circle cx="160.9" cy="321.5" r="15.81" fill="#808080" fill-opacity="0.3" stroke="#444" stroke-opacity="0.5" stroke-width="0.75"/>
<line x1="86.9" y1="274.1" x2="113.3" y2="276.4" stroke="#666" stroke-width="1.0"/>
<line x1="113.3" y1="276.4" x2="136.5" y2="256.6" stroke="#666" stroke-width="1.0"/>
<line x1="90.5" y1="319.2" x2="110.3" y2="319.2" stroke="#666" stroke-width="1.0"/>
<line x1="110.3" y1="319.2" x2="138.3" y2="333.8" stroke="#666" stroke-width="1.0"/>
<line x1="138.3" y1="333.8" x2="160.9" y2="321.5" stroke="#666" stroke-width="1.0"/>
<circle cx="63.65" cy="296.45" r="1.5" fill="#000"/>
<circle cx="86.9" cy="274.1" r="1.5" fill="#000"/>
<circle cx="113.3" cy="276.4" r="1.5" fill="#000"/>
<circle cx="136.5" cy="256.6" r="1.5" fill="#000"/>
<circle cx="164.3" cy="276.4" r="1.5" fill="#000"/>
<circle cx="90.5" cy="319.2" r="1.5" fill="#000"/>
<circle cx="110.3" cy="319.2" r="1.5" fill="#000"/>
<circle cx="138.3" cy="333.8" r="1.5" fill="#000"/>
<circle cx="160.9" cy="321.5" r="1.5" fill="#000"/>
</g>
<rect x="31.2" y="221.4" width="175" height="175" fill="none" stroke="#808080" stroke-width="1.5"/>
<line x1="31.2" y1="396.4" x2="31.2" y2="398.8" stroke="#808080" stroke-width="1.2000000000000002"/>
<line x1="28.8" y1="396.4" x2="31.2" y2="396.4" stroke="#808080" stroke-width="1.2000000000000002"/>
<text x="31.2" y="411.4" text-anchor="middle" class="tk">0</text>
<text x="26.2" y="401.7" text-anchor="end" class="tk">0</text>
<line x1="81.2" y1="396.4" x2="81.2" y2="398.8" stroke="#808080" stroke-width="1.2000000000000002"/>
<line x1="28.8" y1="346.4" x2="31.2" y2="346.4" stroke="#808080" stroke-width="1.2000000000000002"/>
<text x="81.2" y="411.4" text-anchor="middle" class="tk">2</text>
<text x="26.2" y="351.7" text-anchor="end" class="tk">2</text>
<line x1="131.2" y1="396.4" x2="131.2" y2="398.8" stroke="#808080" stroke-width="1.2000000000000002"/>
<line x1="28.8" y1="296.4" x2="31.2" y2="296.4" stroke="#808080" stroke-width="1.2000000000000002"/>
<text x="131.2" y="411.4" text-anchor="middle" class="tk">4</text>
<text x="26.2" y="301.7" text-anchor="end" class="tk">4</text>
<line x1="181.2" y1="396.4" x2="181.2" y2="398.8" stroke="#808080" stroke-width="1.2000000000000002"/>
<line x1="28.8" y1="246.4" x2="31.2" y2="246.4" stroke="#808080" stroke-width="1.2000000000000002"/>
<text x="181.2" y="411.4" text-anchor="middle" class="tk">6</text>
<text x="26.2" y="251.7" text-anchor="end" class="tk">6</text>
<text x="118.8" y="429.2" text-anchor="middle" class="axl">x (Å)</text>
<text transform="translate(13.4,309) rotate(-90)" text-anchor="middle" class="axl">y (Å)</text>
<text x="33" y="215.9" class="ttl"><tspan font-weight="bold">c</tspan> Radius<tspan class="sup" dy="-3.9">2</tspan><tspan dy="3.9" dx="-2"> = 0.4 Å</tspan><tspan class="sup" dy="-3.9">2</tspan></text>
</g>
<g>
<clipPath id="clipd"><rect x="248.2" y="226.39999999999998" width="175" height="175"/></clipPath>
<g clip-path="url(#clipd)">
<circle cx="280.65" cy="301.45" r="22.78" fill="#808080" fill-opacity="0.3" stroke="#444" stroke-opacity="0.5" stroke-width="0.75"/>
<circle cx="303.9" cy="279.1" r="22.78" fill="#808080" fill-opacity="0.3" stroke="#444" stroke-opacity="0.5" stroke-width="0.75"/>
<circle cx="330.3" cy="281.4" r="22.78" fill="#808080" fill-opacity="0.3" stroke="#444" stroke-opacity="0.5" stroke-width="0.75"/>
<circle cx="353.5" cy="261.6" r="22.78" fill="#808080" fill-opacity="0.3" stroke="#444" stroke-opacity="0.5" stroke-width="0.75"/>
<circle cx="381.3" cy="281.4" r="22.78" fill="#808080" fill-opacity="0.3" stroke="#444" stroke-opacity="0.5" stroke-width="0.75"/>
<circle cx="307.5" cy="324.2" r="22.78" fill="#808080" fill-opacity="0.3" stroke="#444" stroke-opacity="0.5" stroke-width="0.75"/>
<circle cx="327.3" cy="324.2" r="22.78" fill="#808080" fill-opacity="0.3" stroke="#444" stroke-opacity="0.5" stroke-width="0.75"/>
<circle cx="355.3" cy="338.8" r="22.78" fill="#808080" fill-opacity="0.3" stroke="#444" stroke-opacity="0.5" stroke-width="0.75"/>
<circle cx="377.9" cy="326.5" r="22.78" fill="#808080" fill-opacity="0.3" stroke="#444" stroke-opacity="0.5" stroke-width="0.75"/>
<polygon points="280.65,301.45 303.9,279.1 307.5,324.2" fill="#ff0000" fill-opacity="0.5" stroke="none"/>
<line x1="280.65" y1="301.45" x2="303.9" y2="279.1" stroke="#666" stroke-width="1.0"/>
<line x1="303.9" y1="279.1" x2="330.3" y2="281.4" stroke="#666" stroke-width="1.0"/>
<line x1="330.3" y1="281.4" x2="353.5" y2="261.6" stroke="#666" stroke-width="1.0"/>
<line x1="353.5" y1="261.6" x2="381.3" y2="281.4" stroke="#666" stroke-width="1.0"/>
<line x1="381.3" y1="281.4" x2="377.9" y2="326.5" stroke="#666" stroke-width="1.0"/>
<line x1="377.9" y1="326.5" x2="355.3" y2="338.8" stroke="#666" stroke-width="1.0"/>
<line x1="355.3" y1="338.8" x2="327.3" y2="324.2" stroke="#666" stroke-width="1.0"/>
<line x1="327.3" y1="324.2" x2="307.5" y2="324.2" stroke="#666" stroke-width="1.0"/>
<line x1="307.5" y1="324.2" x2="280.65" y2="301.45" stroke="#666" stroke-width="1.0"/>
<line x1="303.9" y1="279.1" x2="307.5" y2="324.2" stroke="#666" stroke-width="1.0"/>
<line x1="330.3" y1="281.4" x2="327.3" y2="324.2" stroke="#666" stroke-width="1.0"/>
<circle cx="280.65" cy="301.45" r="1.5" fill="#000"/>
<circle cx="303.9" cy="279.1" r="1.5" fill="#000"/>
<circle cx="330.3" cy="281.4" r="1.5" fill="#000"/>
<circle cx="353.5" cy="261.6" r="1.5" fill="#000"/>
<circle cx="381.3" cy="281.4" r="1.5" fill="#000"/>
<circle cx="307.5" cy="324.2" r="1.5" fill="#000"/>
<circle cx="327.3" cy="324.2" r="1.5" fill="#000"/>
<circle cx="355.3" cy="338.8" r="1.5" fill="#000"/>
<circle cx="377.9" cy="326.5" r="1.5" fill="#000"/>
</g>
<rect x="248.2" y="226.4" width="175" height="175" fill="none" stroke="#808080" stroke-width="1.5"/>
<line x1="248.2" y1="401.4" x2="248.2" y2="403.8" stroke="#808080" stroke-width="1.2000000000000002"/>
<line x1="245.8" y1="401.4" x2="248.2" y2="401.4" stroke="#808080" stroke-width="1.2000000000000002"/>
<text x="248.2" y="416.4" text-anchor="middle" class="tk">0</text>
<text x="243.2" y="406.7" text-anchor="end" class="tk">0</text>
<line x1="298.2" y1="401.4" x2="298.2" y2="403.8" stroke="#808080" stroke-width="1.2000000000000002"/>
<line x1="245.8" y1="351.4" x2="248.2" y2="351.4" stroke="#808080" stroke-width="1.2000000000000002"/>
<text x="298.2" y="416.4" text-anchor="middle" class="tk">2</text>
<text x="243.2" y="356.7" text-anchor="end" class="tk">2</text>
<line x1="348.2" y1="401.4" x2="348.2" y2="403.8" stroke="#808080" stroke-width="1.2000000000000002"/>
<line x1="245.8" y1="301.4" x2="248.2" y2="301.4" stroke="#808080" stroke-width="1.2000000000000002"/>
<text x="348.2" y="416.4" text-anchor="middle" class="tk">4</text>
<text x="243.2" y="306.7" text-anchor="end" class="tk">4</text>
<line x1="398.2" y1="401.4" x2="398.2" y2="403.8" stroke="#808080" stroke-width="1.2000000000000002"/>
<line x1="245.8" y1="251.4" x2="248.2" y2="251.4" stroke="#808080" stroke-width="1.2000000000000002"/>
<text x="398.2" y="416.4" text-anchor="middle" class="tk">6</text>
<text x="243.2" y="256.7" text-anchor="end" class="tk">6</text>
<text x="335.8" y="434.2" text-anchor="middle" class="axl">x (Å)</text>
<text transform="translate(230.4,314) rotate(-90)" text-anchor="middle" class="axl">y (Å)</text>
<text x="251.5" y="215.6" class="ttl"><tspan font-weight="bold">d</tspan> Radius<tspan class="sup" dy="-3.9">2</tspan><tspan dy="3.9" dx="-2"> = 0.83 Å</tspan><tspan class="sup" dy="-3.9">2</tspan></text>
</g>
<g>
<clipPath id="clipe"><rect x="466.5" y="227.7" width="175" height="175"/></clipPath>
<g clip-path="url(#clipe)">
<circle cx="498.95" cy="302.75" r="24.49" fill="#808080" fill-opacity="0.3" stroke="#444" stroke-opacity="0.5" stroke-width="0.75"/>
<circle cx="522.2" cy="280.4" r="24.49" fill="#808080" fill-opacity="0.3" stroke="#444" stroke-opacity="0.5" stroke-width="0.75"/>
<circle cx="548.6" cy="282.7" r="24.49" fill="#808080" fill-opacity="0.3" stroke="#444" stroke-opacity="0.5" stroke-width="0.75"/>
<circle cx="571.8" cy="262.9" r="24.49" fill="#808080" fill-opacity="0.3" stroke="#444" stroke-opacity="0.5" stroke-width="0.75"/>
<circle cx="599.6" cy="282.7" r="24.49" fill="#808080" fill-opacity="0.3" stroke="#444" stroke-opacity="0.5" stroke-width="0.75"/>
<circle cx="525.8" cy="325.5" r="24.49" fill="#808080" fill-opacity="0.3" stroke="#444" stroke-opacity="0.5" stroke-width="0.75"/>
<circle cx="545.6" cy="325.5" r="24.49" fill="#808080" fill-opacity="0.3" stroke="#444" stroke-opacity="0.5" stroke-width="0.75"/>
<circle cx="573.6" cy="340.1" r="24.49" fill="#808080" fill-opacity="0.3" stroke="#444" stroke-opacity="0.5" stroke-width="0.75"/>
<circle cx="596.2" cy="327.8" r="24.49" fill="#808080" fill-opacity="0.3" stroke="#444" stroke-opacity="0.5" stroke-width="0.75"/>
<polygon points="498.95,302.75 522.2,280.4 525.8,325.5" fill="#ff0000" fill-opacity="0.5" stroke="none"/>
<polygon points="498.95,302.75 522.2,280.4 525.8,325.5" fill="#0000ff" fill-opacity="0.55" stroke="none"/>
<polygon points="522.2,280.4 548.6,282.7 545.6,325.5 525.8,325.5" fill="#0000ff" fill-opacity="0.55" stroke="none"/>
<line x1="498.95" y1="302.75" x2="522.2" y2="280.4" stroke="#666" stroke-width="1.0"/>
<line x1="522.2" y1="280.4" x2="548.6" y2="282.7" stroke="#666" stroke-width="1.0"/>
<line x1="548.6" y1="282.7" x2="571.8" y2="262.9" stroke="#666" stroke-width="1.0"/>
<line x1="571.8" y1="262.9" x2="599.6" y2="282.7" stroke="#666" stroke-width="1.0"/>
<line x1="599.6" y1="282.7" x2="596.2" y2="327.8" stroke="#666" stroke-width="1.0"/>
<line x1="596.2" y1="327.8" x2="573.6" y2="340.1" stroke="#666" stroke-width="1.0"/>
<line x1="573.6" y1="340.1" x2="545.6" y2="325.5" stroke="#666" stroke-width="1.0"/>
<line x1="545.6" y1="325.5" x2="525.8" y2="325.5" stroke="#666" stroke-width="1.0"/>
<line x1="525.8" y1="325.5" x2="498.95" y2="302.75" stroke="#666" stroke-width="1.0"/>
<line x1="522.2" y1="280.4" x2="525.8" y2="325.5" stroke="#666" stroke-width="1.0"/>
<line x1="548.6" y1="282.7" x2="545.6" y2="325.5" stroke="#666" stroke-width="1.0"/>
<line x1="548.6" y1="282.7" x2="525.8" y2="325.5" stroke="#666" stroke-width="1.0"/>
<circle cx="498.95" cy="302.75" r="1.5" fill="#000"/>
<circle cx="522.2" cy="280.4" r="1.5" fill="#000"/>
<circle cx="548.6" cy="282.7" r="1.5" fill="#000"/>
<circle cx="571.8" cy="262.9" r="1.5" fill="#000"/>
<circle cx="599.6" cy="282.7" r="1.5" fill="#000"/>
<circle cx="525.8" cy="325.5" r="1.5" fill="#000"/>
<circle cx="545.6" cy="325.5" r="1.5" fill="#000"/>
<circle cx="573.6" cy="340.1" r="1.5" fill="#000"/>
<circle cx="596.2" cy="327.8" r="1.5" fill="#000"/>
</g>
<rect x="466.5" y="227.7" width="175" height="175" fill="none" stroke="#808080" stroke-width="1.5"/>
<line x1="466.5" y1="402.7" x2="466.5" y2="405.1" stroke="#808080" stroke-width="1.2000000000000002"/>
<line x1="464.1" y1="402.7" x2="466.5" y2="402.7" stroke="#808080" stroke-width="1.2000000000000002"/>
<text x="466.5" y="417.7" text-anchor="middle" class="tk">0</text>
<text x="461.5" y="408" text-anchor="end" class="tk">0</text>
<line x1="516.5" y1="402.7" x2="516.5" y2="405.1" stroke="#808080" stroke-width="1.2000000000000002"/>
<line x1="464.1" y1="352.7" x2="466.5" y2="352.7" stroke="#808080" stroke-width="1.2000000000000002"/>
<text x="516.5" y="417.7" text-anchor="middle" class="tk">2</text>
<text x="461.5" y="358" text-anchor="end" class="tk">2</text>
<line x1="566.5" y1="402.7" x2="566.5" y2="405.1" stroke="#808080" stroke-width="1.2000000000000002"/>
<line x1="464.1" y1="302.7" x2="466.5" y2="302.7" stroke="#808080" stroke-width="1.2000000000000002"/>
<text x="566.5" y="417.7" text-anchor="middle" class="tk">4</text>
<text x="461.5" y="308" text-anchor="end" class="tk">4</text>
<line x1="616.5" y1="402.7" x2="616.5" y2="405.1" stroke="#808080" stroke-width="1.2000000000000002"/>
<line x1="464.1" y1="252.7" x2="466.5" y2="252.7" stroke="#808080" stroke-width="1.2000000000000002"/>
<text x="616.5" y="417.7" text-anchor="middle" class="tk">6</text>
<text x="461.5" y="258" text-anchor="end" class="tk">6</text>
<text x="554.1" y="435.5" text-anchor="middle" class="axl">x (Å)</text>
<text transform="translate(448.7,315.3) rotate(-90)" text-anchor="middle" class="axl">y (Å)</text>
<text x="467.1" y="215.6" class="ttl"><tspan font-weight="bold">e</tspan> Radius<tspan class="sup" dy="-3.9">2</tspan><tspan dy="3.9" dx="-2"> = 0.96 Å</tspan><tspan class="sup" dy="-3.9">2</tspan></text>
</g>
<g>
<clipPath id="clipf"><rect x="30.6" y="472.4" width="175" height="175"/></clipPath>
<g clip-path="url(#clipf)">
<circle cx="63.05" cy="547.45" r="32.79" fill="#808080" fill-opacity="0.3" stroke="#444" stroke-opacity="0.5" stroke-width="0.75"/>
<circle cx="86.3" cy="525.1" r="32.79" fill="#808080" fill-opacity="0.3" stroke="#444" stroke-opacity="0.5" stroke-width="0.75"/>
<circle cx="112.7" cy="527.4" r="32.79" fill="#808080" fill-opacity="0.3" stroke="#444" stroke-opacity="0.5" stroke-width="0.75"/>
<circle cx="135.9" cy="507.6" r="32.79" fill="#808080" fill-opacity="0.3" stroke="#444" stroke-opacity="0.5" stroke-width="0.75"/>
<circle cx="163.7" cy="527.4" r="32.79" fill="#808080" fill-opacity="0.3" stroke="#444" stroke-opacity="0.5" stroke-width="0.75"/>
<circle cx="89.9" cy="570.2" r="32.79" fill="#808080" fill-opacity="0.3" stroke="#444" stroke-opacity="0.5" stroke-width="0.75"/>
<circle cx="109.7" cy="570.2" r="32.79" fill="#808080" fill-opacity="0.3" stroke="#444" stroke-opacity="0.5" stroke-width="0.75"/>
<circle cx="137.7" cy="584.8" r="32.79" fill="#808080" fill-opacity="0.3" stroke="#444" stroke-opacity="0.5" stroke-width="0.75"/>
<circle cx="160.3" cy="572.5" r="32.79" fill="#808080" fill-opacity="0.3" stroke="#444" stroke-opacity="0.5" stroke-width="0.75"/>
<polygon points="63.05,547.45 86.3,525.1 89.9,570.2" fill="#ff0000" fill-opacity="0.5" stroke="none"/>
<polygon points="63.05,547.45 86.3,525.1 89.9,570.2" fill="#0000ff" fill-opacity="0.55" stroke="none"/>
<polygon points="86.3,525.1 112.7,527.4 109.7,570.2 89.9,570.2" fill="#0000ff" fill-opacity="0.55" stroke="none"/>
<polygon points="112.7,527.4 160.3,572.5 109.7,570.2" fill="#ffff00" fill-opacity="0.52" stroke="none"/>
<line x1="63.05" y1="547.45" x2="86.3" y2="525.1" stroke="#666" stroke-width="1.0"/>
<line x1="86.3" y1="525.1" x2="112.7" y2="527.4" stroke="#666" stroke-width="1.0"/>
<line x1="112.7" y1="527.4" x2="135.9" y2="507.6" stroke="#666" stroke-width="1.0"/>
<line x1="135.9" y1="507.6" x2="163.7" y2="527.4" stroke="#666" stroke-width="1.0"/>
<line x1="163.7" y1="527.4" x2="160.3" y2="572.5" stroke="#666" stroke-width="1.0"/>
<line x1="160.3" y1="572.5" x2="137.7" y2="584.8" stroke="#666" stroke-width="1.0"/>
<line x1="137.7" y1="584.8" x2="109.7" y2="570.2" stroke="#666" stroke-width="1.0"/>
<line x1="109.7" y1="570.2" x2="89.9" y2="570.2" stroke="#666" stroke-width="1.0"/>
<line x1="89.9" y1="570.2" x2="63.05" y2="547.45" stroke="#666" stroke-width="1.0"/>
<line x1="86.3" y1="525.1" x2="89.9" y2="570.2" stroke="#666" stroke-width="1.0"/>
<line x1="112.7" y1="527.4" x2="109.7" y2="570.2" stroke="#666" stroke-width="1.0"/>
<line x1="112.7" y1="527.4" x2="89.9" y2="570.2" stroke="#666" stroke-width="1.0"/>
<line x1="112.7" y1="527.4" x2="160.3" y2="572.5" stroke="#666" stroke-width="1.0"/>
<line x1="109.7" y1="570.2" x2="160.3" y2="572.5" stroke="#666" stroke-width="1.0"/>
<circle cx="63.05" cy="547.45" r="1.5" fill="#000"/>
<circle cx="86.3" cy="525.1" r="1.5" fill="#000"/>
<circle cx="112.7" cy="527.4" r="1.5" fill="#000"/>
<circle cx="135.9" cy="507.6" r="1.5" fill="#000"/>
<circle cx="163.7" cy="527.4" r="1.5" fill="#000"/>
<circle cx="89.9" cy="570.2" r="1.5" fill="#000"/>
<circle cx="109.7" cy="570.2" r="1.5" fill="#000"/>
<circle cx="137.7" cy="584.8" r="1.5" fill="#000"/>
<circle cx="160.3" cy="572.5" r="1.5" fill="#000"/>
</g>
<rect x="30.6" y="472.4" width="175" height="175" fill="none" stroke="#808080" stroke-width="1.5"/>
<line x1="30.6" y1="647.4" x2="30.6" y2="649.8" stroke="#808080" stroke-width="1.2000000000000002"/>
<line x1="28.2" y1="647.4" x2="30.6" y2="647.4" stroke="#808080" stroke-width="1.2000000000000002"/>
<text x="30.6" y="662.4" text-anchor="middle" class="tk">0</text>
<text x="25.6" y="652.7" text-anchor="end" class="tk">0</text>
<line x1="80.6" y1="647.4" x2="80.6" y2="649.8" stroke="#808080" stroke-width="1.2000000000000002"/>
<line x1="28.2" y1="597.4" x2="30.6" y2="597.4" stroke="#808080" stroke-width="1.2000000000000002"/>
<text x="80.6" y="662.4" text-anchor="middle" class="tk">2</text>
<text x="25.6" y="602.7" text-anchor="end" class="tk">2</text>
<line x1="130.6" y1="647.4" x2="130.6" y2="649.8" stroke="#808080" stroke-width="1.2000000000000002"/>
<line x1="28.2" y1="547.4" x2="30.6" y2="547.4" stroke="#808080" stroke-width="1.2000000000000002"/>
<text x="130.6" y="662.4" text-anchor="middle" class="tk">4</text>
<text x="25.6" y="552.7" text-anchor="end" class="tk">4</text>
<line x1="180.6" y1="647.4" x2="180.6" y2="649.8" stroke="#808080" stroke-width="1.2000000000000002"/>
<line x1="28.2" y1="497.4" x2="30.6" y2="497.4" stroke="#808080" stroke-width="1.2000000000000002"/>
<text x="180.6" y="662.4" text-anchor="middle" class="tk">6</text>
<text x="25.6" y="502.7" text-anchor="end" class="tk">6</text>
<text x="118.2" y="680.2" text-anchor="middle" class="axl">x (Å)</text>
<text transform="translate(12.8,560) rotate(-90)" text-anchor="middle" class="axl">y (Å)</text>
<text x="33.2" y="457.5" class="ttl"><tspan font-weight="bold">f</tspan> Radius<tspan class="sup" dy="-3.9">2</tspan><tspan dy="3.9" dx="-2"> = 1.72 Å</tspan><tspan class="sup" dy="-3.9">2</tspan></text>
</g>
<g>
<clipPath id="clipg"><rect x="246.4" y="473.29999999999995" width="175" height="175"/></clipPath>
<g clip-path="url(#clipg)">
<circle cx="278.85" cy="548.35" r="32.88" fill="#808080" fill-opacity="0.3" stroke="#444" stroke-opacity="0.5" stroke-width="0.75"/>
<circle cx="302.1" cy="526" r="32.88" fill="#808080" fill-opacity="0.3" stroke="#444" stroke-opacity="0.5" stroke-width="0.75"/>
<circle cx="328.5" cy="528.3" r="32.88" fill="#808080" fill-opacity="0.3" stroke="#444" stroke-opacity="0.5" stroke-width="0.75"/>
<circle cx="351.7" cy="508.5" r="32.88" fill="#808080" fill-opacity="0.3" stroke="#444" stroke-opacity="0.5" stroke-width="0.75"/>
<circle cx="379.5" cy="528.3" r="32.88" fill="#808080" fill-opacity="0.3" stroke="#444" stroke-opacity="0.5" stroke-width="0.75"/>
<circle cx="305.7" cy="571.1" r="32.88" fill="#808080" fill-opacity="0.3" stroke="#444" stroke-opacity="0.5" stroke-width="0.75"/>
<circle cx="325.5" cy="571.1" r="32.88" fill="#808080" fill-opacity="0.3" stroke="#444" stroke-opacity="0.5" stroke-width="0.75"/>
<circle cx="353.5" cy="585.7" r="32.88" fill="#808080" fill-opacity="0.3" stroke="#444" stroke-opacity="0.5" stroke-width="0.75"/>
<circle cx="376.1" cy="573.4" r="32.88" fill="#808080" fill-opacity="0.3" stroke="#444" stroke-opacity="0.5" stroke-width="0.75"/>
<polygon points="278.85,548.35 302.1,526 305.7,571.1" fill="#ff0000" fill-opacity="0.5" stroke="none"/>
<polygon points="278.85,548.35 302.1,526 305.7,571.1" fill="#0000ff" fill-opacity="0.55" stroke="none"/>
<polygon points="302.1,526 328.5,528.3 325.5,571.1 305.7,571.1" fill="#0000ff" fill-opacity="0.55" stroke="none"/>
<polygon points="328.5,528.3 376.1,573.4 325.5,571.1" fill="#ffff00" fill-opacity="0.52" stroke="none"/>
<polygon points="328.5,528.3 351.7,508.5 379.5,528.3 376.1,573.4 353.5,585.7 325.5,571.1" fill="#008000" fill-opacity="0.55" stroke="none"/>
<line x1="278.85" y1="548.35" x2="302.1" y2="526" stroke="#666" stroke-width="1.0"/>
<line x1="302.1" y1="526" x2="328.5" y2="528.3" stroke="#666" stroke-width="1.0"/>
<line x1="328.5" y1="528.3" x2="351.7" y2="508.5" stroke="#666" stroke-width="1.0"/>
<line x1="351.7" y1="508.5" x2="379.5" y2="528.3" stroke="#666" stroke-width="1.0"/>
<line x1="379.5" y1="528.3" x2="376.1" y2="573.4" stroke="#666" stroke-width="1.0"/>
<line x1="376.1" y1="573.4" x2="353.5" y2="585.7" stroke="#666" stroke-width="1.0"/>
<line x1="353.5" y1="585.7" x2="325.5" y2="571.1" stroke="#666" stroke-width="1.0"/>
<line x1="325.5" y1="571.1" x2="305.7" y2="571.1" stroke="#666" stroke-width="1.0"/>
<line x1="305.7" y1="571.1" x2="278.85" y2="548.35" stroke="#666" stroke-width="1.0"/>
<line x1="302.1" y1="526" x2="305.7" y2="571.1" stroke="#666" stroke-width="1.0"/>
<line x1="328.5" y1="528.3" x2="325.5" y2="571.1" stroke="#666" stroke-width="1.0"/>
<line x1="328.5" y1="528.3" x2="305.7" y2="571.1" stroke="#666" stroke-width="1.0"/>
<line x1="328.5" y1="528.3" x2="376.1" y2="573.4" stroke="#666" stroke-width="1.0"/>
<line x1="325.5" y1="571.1" x2="376.1" y2="573.4" stroke="#666" stroke-width="1.0"/>
<circle cx="278.85" cy="548.35" r="1.5" fill="#000"/>
<circle cx="302.1" cy="526" r="1.5" fill="#000"/>
<circle cx="328.5" cy="528.3" r="1.5" fill="#000"/>
<circle cx="351.7" cy="508.5" r="1.5" fill="#000"/>
<circle cx="379.5" cy="528.3" r="1.5" fill="#000"/>
<circle cx="305.7" cy="571.1" r="1.5" fill="#000"/>
<circle cx="325.5" cy="571.1" r="1.5" fill="#000"/>
<circle cx="353.5" cy="585.7" r="1.5" fill="#000"/>
<circle cx="376.1" cy="573.4" r="1.5" fill="#000"/>
</g>
<rect x="246.4" y="473.3" width="175" height="175" fill="none" stroke="#666" stroke-width="1.4"/>
<line x1="246.4" y1="648.3" x2="246.4" y2="650.7" stroke="#666" stroke-width="1.1199999999999999"/>
<line x1="244" y1="648.3" x2="246.4" y2="648.3" stroke="#666" stroke-width="1.1199999999999999"/>
<text x="246.4" y="663.3" text-anchor="middle" class="tk">0</text>
<text x="241.4" y="653.6" text-anchor="end" class="tk">0</text>
<line x1="296.4" y1="648.3" x2="296.4" y2="650.7" stroke="#666" stroke-width="1.1199999999999999"/>
<line x1="244" y1="598.3" x2="246.4" y2="598.3" stroke="#666" stroke-width="1.1199999999999999"/>
<text x="296.4" y="663.3" text-anchor="middle" class="tk">2</text>
<text x="241.4" y="603.6" text-anchor="end" class="tk">2</text>
<line x1="346.4" y1="648.3" x2="346.4" y2="650.7" stroke="#666" stroke-width="1.1199999999999999"/>
<line x1="244" y1="548.3" x2="246.4" y2="548.3" stroke="#666" stroke-width="1.1199999999999999"/>
<text x="346.4" y="663.3" text-anchor="middle" class="tk">4</text>
<text x="241.4" y="553.6" text-anchor="end" class="tk">4</text>
<line x1="396.4" y1="648.3" x2="396.4" y2="650.7" stroke="#666" stroke-width="1.1199999999999999"/>
<line x1="244" y1="498.3" x2="246.4" y2="498.3" stroke="#666" stroke-width="1.1199999999999999"/>
<text x="396.4" y="663.3" text-anchor="middle" class="tk">6</text>
<text x="241.4" y="503.6" text-anchor="end" class="tk">6</text>
<text x="334" y="681.1" text-anchor="middle" class="axl">x (Å)</text>
<text transform="translate(228.6,560.9) rotate(-90)" text-anchor="middle" class="axl">y (Å)</text>
<text x="245.1" y="457.5" class="ttl"><tspan font-weight="bold">g</tspan> Radius<tspan class="sup" dy="-3.9">2</tspan><tspan dy="3.9" dx="-2"> = 1.73 Å</tspan><tspan class="sup" dy="-3.9">2</tspan></text>
</g>
<rect x="474.6" y="477.59999999999997" width="174.7" height="174.8" fill="none" stroke="#686868" stroke-width="1.3"/>
<line x1="474.60" y1="652.4" x2="474.60" y2="654.6" stroke="#686868" stroke-width="1"/>
<line x1="472.40000000000003" y1="652.40" x2="474.6" y2="652.40" stroke="#686868" stroke-width="1"/>
<text x="474.60" y="667.8" text-anchor="middle" class="dj">0.5</text>
<text x="470.50" y="657.30" text-anchor="end" class="dj">0.5</text>
<line x1="532.85" y1="652.4" x2="532.85" y2="654.6" stroke="#686868" stroke-width="1"/>
<line x1="472.40000000000003" y1="594.15" x2="474.6" y2="594.15" stroke="#686868" stroke-width="1"/>
<text x="532.85" y="667.8" text-anchor="middle" class="dj">1.0</text>
<text x="470.50" y="599.05" text-anchor="end" class="dj">1.0</text>
<line x1="591.10" y1="652.4" x2="591.10" y2="654.6" stroke="#686868" stroke-width="1"/>
<line x1="472.40000000000003" y1="535.90" x2="474.6" y2="535.90" stroke="#686868" stroke-width="1"/>
<text x="591.10" y="667.8" text-anchor="middle" class="dj">1.5</text>
<text x="470.50" y="540.80" text-anchor="end" class="dj">1.5</text>
<line x1="649.35" y1="652.4" x2="649.35" y2="654.6" stroke="#686868" stroke-width="1"/>
<line x1="472.40000000000003" y1="477.65" x2="474.6" y2="477.65" stroke="#686868" stroke-width="1"/>
<text x="649.35" y="667.8" text-anchor="middle" class="dj">2.0</text>
<text x="470.50" y="482.55" text-anchor="end" class="dj">2.0</text>
<circle cx="511.18" cy="508.87" r="3" fill="#008000" stroke="#111" stroke-width="0.6"/>
<circle cx="500.70" cy="599.39" r="3" fill="#0000ff" stroke="#111" stroke-width="0.6"/>
<circle cx="511.18" cy="614.30" r="3" fill="#ff0000" stroke="#111" stroke-width="0.6"/>
<circle cx="617.31" cy="510.04" r="3" fill="#e8e84a" stroke="#111" stroke-width="0.6"/>
<line x1="474.6" y1="652.4" x2="649.35" y2="477.65" stroke="#000" stroke-width="1.2" stroke-dasharray="3.6 1.8"/>
<text x="562.9" y="683.9" text-anchor="middle" class="dj">Birth<tspan dx="-1.8"> </tspan>(Å<tspan font-size="9" dy="-5">2</tspan><tspan dy="5">)</tspan></text>
<text transform="translate(444.40000000000003,565.0) rotate(-90)" text-anchor="middle" class="dj">Death (Å<tspan font-size="9" dy="-5">2</tspan><tspan dy="5">)</tspan></text>
<text x="466" y="457.2" class="ttl"><tspan font-weight="bold">h</tspan> <tspan letter-spacing="0.1">Persistence diagram</tspan></text>
</svg></body></html>
